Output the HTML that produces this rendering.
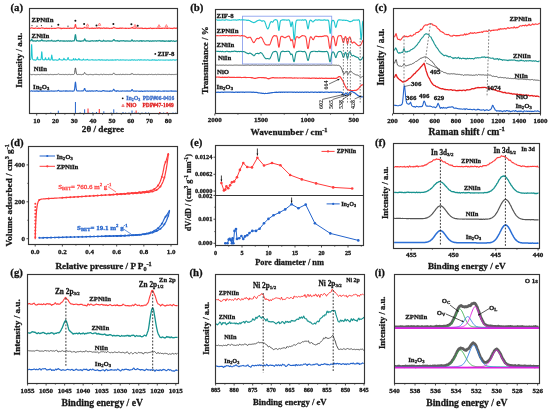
<!DOCTYPE html><html><head><meta charset="utf-8"><style>html,body{margin:0;padding:0;background:#fff;width:550px;height:411px;overflow:hidden}svg{display:block;filter:blur(0.3px)}</style></head><body><svg width="550" height="411" viewBox="0 0 550 411" font-family='"Liberation Serif", serif'><text font-size="10.8" text-anchor="start" fill="#111" stroke="#111" stroke-width="0.28" font-weight="bold" transform="translate(10.5 11.1) scale(1 1)">(a)</text>
<text font-size="10.8" text-anchor="start" fill="#111" stroke="#111" stroke-width="0.28" font-weight="bold" transform="translate(190.2 10.9) scale(1 1)">(b)</text>
<text font-size="10.8" text-anchor="start" fill="#111" stroke="#111" stroke-width="0.28" font-weight="bold" transform="translate(374.9 10.9) scale(1 1)">(c)</text>
<text font-size="10.8" text-anchor="start" fill="#111" stroke="#111" stroke-width="0.28" font-weight="bold" transform="translate(10.5 145.9) scale(1 1)">(d)</text>
<text font-size="10.8" text-anchor="start" fill="#111" stroke="#111" stroke-width="0.28" font-weight="bold" transform="translate(190.3 146.2) scale(1 1)">(e)</text>
<text font-size="10.8" text-anchor="start" fill="#111" stroke="#111" stroke-width="0.28" font-weight="bold" transform="translate(374.9 145.9) scale(1 1)">(f)</text>
<text font-size="10.8" text-anchor="start" fill="#111" stroke="#111" stroke-width="0.28" font-weight="bold" transform="translate(10.3 276) scale(1 1)">(g)</text>
<text font-size="10.8" text-anchor="start" fill="#111" stroke="#111" stroke-width="0.28" font-weight="bold" transform="translate(189.5 276) scale(1 1)">(h)</text>
<text font-size="10.8" text-anchor="start" fill="#111" stroke="#111" stroke-width="0.28" font-weight="bold" transform="translate(374.7 276) scale(1 1)">(i)</text>
<path d="M30.1 28.4 30.3 28.4 30.5 28.3 30.7 28.2 30.9 28.1 31.1 28 31.3 27.8 31.5 27.8 31.7 27.8 31.9 28 32.1 28 32.3 28.1 32.5 28.2 32.7 28.2 32.9 28.1 33.1 28.2 33.3 28.2 33.5 28.4 33.7 28.2 33.9 28.3 34.1 28.3 34.3 28.4 34.5 28.5 34.7 28.4 34.9 28.3 35.1 28.1 35.3 27.9 35.5 28.2 35.7 28.2 35.9 28.3 36.1 28.3 36.3 28.2 36.5 28.3 36.7 28 36.9 28.1 37.1 28 37.3 28.3 37.5 28.5 37.7 28.5 37.9 28.5 38.1 28.3 38.3 28.4 38.5 28.3 38.7 28.1 38.9 27.9 39.1 28 39.3 28.4 39.5 28.5 39.7 28.5 39.9 28.4 40.1 28.4 40.3 28.5 40.5 28.3 40.7 28.3 40.9 28.2 41.1 28 41.3 28 41.5 27.9 41.7 28 41.9 28 42.1 27.9 42.3 27.9 42.5 28.1 42.7 28.3 42.9 28.3 43.1 28.1 43.3 28 43.5 28.1 43.7 28.1 43.9 28.3 44.1 28.3 44.3 28.4 44.5 28.4 44.7 28.6 44.9 28.5 45.1 28.4 45.3 28.4 45.5 28.4 45.7 28.2 45.9 28.2 46.1 28.3 46.3 28.5 46.5 28.3 46.7 28.2 46.9 28.1 47.1 28.2 47.3 28.3 47.5 28.5 47.7 28.6 47.9 28.5 48.1 28.5 48.3 28.4 48.5 28.3 48.7 28.2 48.9 28.2 49.1 28.4 49.3 28.6 49.5 28.5 49.7 28.3 49.9 28.2 50.1 28.2 50.3 28.3 50.5 28.2 50.7 28.2 50.9 28.2 51.1 28.4 51.3 28.4 51.5 28.6 51.7 28.4 51.9 28.4 52.1 28.3 52.3 28.4 52.5 28.5 52.7 28.3 52.9 28.3 53.1 28.2 53.3 28.3 53.5 28.2 53.7 28.4 53.9 28.4 54.1 28.3 54.3 28.2 54.5 28.3 54.7 28.4 54.9 28.4 55.1 28.4 55.3 28.4 55.5 28.5 55.7 28.4 55.9 28.3 56.1 28.2 56.3 28.2 56.5 28.2 56.7 28.2 56.9 28 57.1 28 57.3 28 57.5 27.9 57.7 27.9 57.9 27.8 58.1 28 58.3 27.9 58.5 27.8 58.7 27.8 58.9 27.9 59.1 28 59.3 28.1 59.5 28.1 59.7 28.1 59.9 28.1 60.1 28 60.3 28.1 60.5 28.2 60.7 28.4 60.9 28.6 61.1 28.4 61.3 28.4 61.5 28.3 61.7 28.6 61.9 28.4 62.1 28.3 62.3 28.4 62.5 28.4 62.7 28.4 62.9 28.3 63.1 28.4 63.3 28.4 63.5 28.2 63.7 28.2 63.9 28.1 64.1 28.2 64.3 28.2 64.5 28.4 64.7 28.3 64.9 28.3 65.1 28.3 65.3 28.4 65.5 28.3 65.7 28.3 65.9 28.2 66.1 28.3 66.3 28.3 66.5 28.5 66.7 28.4 66.9 28.3 67.1 28 67.3 28.1 67.5 28.2 67.7 28.4 67.9 28.4 68.1 28.4 68.3 28.3 68.5 28.3 68.7 28.1 68.9 28.2 69.1 28.1 69.3 28.4 69.5 28.3 69.7 28.4 69.9 28.2 70.1 28.2 70.3 28.1 70.5 28.1 70.7 28 70.9 28.2 71.1 28.3 71.3 28.4 71.5 28.3 71.7 28.3 71.9 28.1 72.1 28.1 72.3 28.2 72.5 28.3 72.7 28.3 72.9 28.2 73.1 28.2 73.3 28.1 73.5 28.2 73.7 28.2 73.9 28.2 74.1 28.3 74.3 28.1 74.5 27.7 74.7 27 74.9 26.2 75.1 25.3 75.3 24.6 75.5 24.5 75.7 25.1 75.9 26.1 76.1 26.9 76.3 27.5 76.5 27.9 76.7 28.2 76.9 28.3 77.1 28.4 77.3 28.4 77.5 28.3 77.7 28.2 77.9 28.2 78.1 28.1 78.3 28.2 78.5 28.2 78.7 28.4 78.9 28.2 79.1 28.3 79.3 28.2 79.5 28.3 79.7 28.1 79.9 28.1 80.1 28.1 80.3 28.2 80.5 28.3 80.7 28.3 80.9 28.4 81.1 28.3 81.3 28.2 81.5 28.2 81.7 28.2 81.9 28.4 82.1 28.5 82.3 28.3 82.5 28.2 82.7 28.3 82.9 28.4 83.1 28.3 83.3 28.2 83.5 28.1 83.7 28.1 83.9 28 84.1 27.9 84.3 27.6 84.5 27.3 84.7 27.2 84.9 27.4 85.1 27.7 85.3 27.8 85.5 27.8 85.7 28 85.9 28 86.1 28.1 86.3 27.9 86.5 27.9 86.7 28.1 86.9 28.3 87.1 28.3 87.3 28.1 87.5 27.8 87.7 27.8 87.9 27.8 88.1 27.9 88.3 28 88.5 28 88.7 28.1 88.9 28.2 89.1 28.5 89.3 28.5 89.5 28.6 89.7 28.4 89.9 28.4 90.1 28.2 90.3 28.2 90.5 28.2 90.7 28.3 90.9 28.4 91.1 28.4 91.3 28.4 91.5 28.3 91.7 28.2 91.9 28 92.1 28 92.3 28.2 92.5 28.3 92.7 28.4 92.9 28.2 93.1 28.4 93.3 28.4 93.5 28.4 93.7 28.2 93.9 28.3 94.1 28.4 94.3 28.3 94.5 28.1 94.7 28.2 94.9 28.2 95.1 28.2 95.3 28.2 95.5 28.3 95.7 28.4 95.9 28.2 96.1 28.1 96.3 28.1 96.5 27.9 96.7 28 96.9 27.9 97.1 28.1 97.3 28 97.5 28.2 97.7 28.1 97.9 28.4 98.1 28.3 98.3 28.2 98.5 27.9 98.7 27.8 98.9 27.7 99.1 27.6 99.3 27.7 99.5 28 99.7 28 99.9 28.3 100.1 28.5 100.3 28.6 100.5 28.2 100.7 28 100.9 28.1 101.1 28.1 101.3 28.1 101.5 28.1 101.7 28.2 101.9 28.3 102.1 28.4 102.3 28.4 102.5 28.3 102.7 28.2 102.9 28.1 103.1 28.1 103.3 28.2 103.5 28.1 103.7 27.9 103.9 27.9 104.1 27.8 104.3 28.1 104.5 28.2 104.7 28.4 104.9 28.3 105.1 28.1 105.3 28.2 105.5 28.3 105.7 28.4 105.9 28.4 106.1 28.4 106.3 28.3 106.5 28.2 106.7 27.9 106.9 27.8 107.1 27.9 107.3 28.1 107.5 28.3 107.7 28.3 107.9 28.3 108.1 28.4 108.3 28.3 108.5 28.3 108.7 28.1 108.9 28.2 109.1 28.2 109.3 28.4 109.5 28.5 109.7 28.6 109.9 28.5 110.1 28.5 110.3 28.2 110.5 28.3 110.7 28.2 110.9 28.2 111.1 28.3 111.3 28.2 111.5 28.4 111.7 28.2 111.9 28.4 112.1 28.4 112.3 28.4 112.5 28.2 112.7 28 112.9 28.1 113.1 28 113.3 27.8 113.5 27.6 113.7 27.2 113.9 27.2 114.1 27.2 114.3 27.7 114.5 27.9 114.7 28 114.9 28 115.1 28 115.3 28.1 115.5 28.1 115.7 28.2 115.9 28.1 116.1 28.3 116.3 28.3 116.5 28.4 116.7 28.4 116.9 28.3 117.1 28.3 117.3 28.3 117.5 28.4 117.7 28.3 117.9 28.3 118.1 28.3 118.3 28.5 118.5 28.5 118.7 28.5 118.9 28.2 119.1 28.4 119.3 28.4 119.5 28.5 119.7 28.2 119.9 28.1 120.1 27.9 120.3 28.1 120.5 28.1 120.7 28.2 120.9 28.2 121.1 28.5 121.3 28.3 121.5 28.2 121.7 28 121.9 28.3 122.1 28.3 122.3 28.1 122.5 28 122.7 28 122.9 28.2 123.1 28.3 123.3 28.2 123.5 28.2 123.7 28.2 123.9 28.3 124.1 28.3 124.3 28.3 124.5 28.3 124.7 28.2 124.9 28.3 125.1 28.4 125.3 28.4 125.5 28.3 125.7 28.1 125.9 28.3 126.1 28.4 126.3 28.4 126.5 28.4 126.7 28.3 126.9 28.3 127.1 28.2 127.3 28.2 127.5 28.2 127.7 28.3 127.9 28.2 128.1 28.3 128.3 28.4 128.5 28.4 128.7 28.2 128.9 28.2 129.1 28.3 129.3 28.4 129.5 28.3 129.7 28.2 129.9 28.3 130.1 28.3 130.3 28.3 130.5 28.1 130.7 28.2 130.9 28.2 131.1 28 131.3 28 131.5 28 131.7 27.9 131.9 27.7 132.1 27.4 132.3 27.4 132.5 27.5 132.7 27.9 132.9 28.1 133.1 28.3 133.3 28 133.5 28 133.7 28 133.9 28 134.1 28.3 134.3 28.3 134.5 28.3 134.7 28.2 134.9 28.4 135.1 28.5 135.3 28.4 135.5 28.2 135.7 28 135.9 28 136.1 28 136.3 27.9 136.5 27.8 136.7 27.9 136.9 28 137.1 28.3 137.3 28.3 137.5 28.3 137.7 28.2 137.9 28.1 138.1 28.2 138.3 28.3 138.5 28.2 138.7 28.1 138.9 28 139.1 28.1 139.3 28.3 139.5 28.3 139.7 28.3 139.9 28.4 140.1 28.3 140.3 28.3 140.5 28.2 140.7 28.1 140.9 28.2 141.1 28.3 141.3 28.2 141.5 28.1 141.7 28.1 141.9 28.3 142.1 28.4 142.3 28.3 142.5 28.1 142.7 28.4 142.9 28.4 143.1 28.6 143.3 28.5 143.5 28.5 143.7 28.5 143.9 28.4 144.1 28.4 144.3 28.3 144.5 28.5 144.7 28.4 144.9 28.3 145.1 28.2 145.3 28.4 145.5 28.5 145.7 28.4 145.9 28.2 146.1 28.2 146.3 28.4 146.5 28.5 146.7 28.7 146.9 28.5 147.1 28.4 147.3 28.4 147.5 28.5 147.7 28.6 147.9 28.5 148.1 28.4 148.3 28.4 148.5 28.4 148.7 28.3 148.9 28.2 149.1 28.2 149.3 28.3 149.5 28.5 149.7 28.5 149.9 28.4 150.1 28.2 150.3 28 150.5 27.9 150.7 28 150.9 28.1 151.1 28.3 151.3 28.4 151.5 28.5 151.7 28.5 151.9 28.4 152.1 28.6 152.3 28.4 152.5 28.5 152.7 28.3 152.9 28.4 153.1 28.2 153.3 28.3 153.5 28.3 153.7 28.4 153.9 28.4 154.1 28.4 154.3 28.4 154.5 28.3 154.7 28.3 154.9 28.3 155.1 28.3 155.3 28.3 155.5 28.2 155.7 28.3 155.9 28.3 156.1 28.4 156.3 28.4 156.5 28.4 156.7 28.4 156.9 28.2 157.1 28.2 157.3 28 157.5 28.1 157.7 28.3 157.9 28.4 158.1 28.5 158.3 28.3 158.5 28.2 158.7 28.1 158.9 28.2 159.1 28.3 159.3 28.4 159.5 28.4 159.7 28.3 159.9 28.3 160.1 28.4 160.3 28.4 160.5 28.4 160.7 28.4 160.9 28.5 161.1 28.5 161.3 28.3 161.5 28.5 161.7 28.2 161.9 28.2 162.1 27.9 162.3 28.3 162.5 28.4 162.7 28.4 162.9 28.2 163.1 28.2 163.3 28.2 163.5 28.3 163.7 28.1 163.9 28 164.1 28.1 164.3 28.2 164.5 28.4 164.7 28.3 164.9 28.1 165.1 28.1 165.3 28.1 165.5 28.2 165.7 28.3 165.9 28.3 166.1 28.2 166.3 28.2 166.5 28.3 166.7 28.4 166.9 28 167.1 28 167.3 28.1 167.5 28.4 167.7 28.4 167.9 28.3 168.1 28.1 168.3 28.3 168.5 28.2 168.7 28.3 168.9 28.1 169.1 28.2 169.3 28.1 169.5 28.2 169.7 28.2 169.9 28.3 170.1 28.3 170.3 28.4 170.5 28.3 170.7 28.3 170.9 28.3 171.1 28.4 171.3 28.4 171.5 28.4 171.7 28.5 171.9 28.4 172.1 28.3 172.3 28.3 172.5 28.5 172.7 28.6 172.9 28.6 173.1 28.4 173.3 28.2 173.5 28.1 173.7 28.3 173.9 28.2 174.1 28.2 174.3 27.9 174.5 28.1 174.7 28.2 174.9 28.3 175.1 28.2 175.3 28.3 175.5 28.4 175.7 28.3 175.9 28.1 176.1 27.9 176.3 28.1 176.5 28.1 176.7 28.4 176.9 28.3" fill="none" stroke="#ff3c3c" stroke-width="1.1" stroke-linejoin="round" />
<path d="M30.1 41 30.3 40.9 30.5 40.8 30.7 40.8 30.9 40.6 31.1 40.1 31.3 39.8 31.5 39.4 31.7 39.3 31.9 39.4 32.1 39.9 32.3 40.6 32.5 40.9 32.7 40.9 32.9 40.9 33.1 41 33.3 41.1 33.5 40.9 33.7 40.8 33.9 40.9 34.1 41 34.3 41 34.5 40.9 34.7 41 34.9 41 35.1 41.1 35.3 41 35.5 41.1 35.7 40.9 35.9 41 36.1 41.1 36.3 41.1 36.5 41 36.7 40.6 36.9 40.6 37.1 40.5 37.3 40.5 37.5 40.5 37.7 40.4 37.9 40.6 38.1 40.8 38.3 41 38.5 41 38.7 41 38.9 41.1 39.1 41 39.3 41 39.5 41 39.7 41 39.9 40.7 40.1 40.8 40.3 40.7 40.5 40.8 40.7 40.8 40.9 40.8 41.1 40.7 41.3 40.5 41.5 40.2 41.7 39.9 41.9 39.8 42.1 40.1 42.3 40.4 42.5 40.7 42.7 40.8 42.9 40.9 43.1 41 43.3 40.8 43.5 40.8 43.7 40.9 43.9 41 44.1 41 44.3 40.9 44.5 40.9 44.7 40.9 44.9 41 45.1 41 45.3 40.9 45.5 41 45.7 41 45.9 41 46.1 41 46.3 41.1 46.5 41.2 46.7 41.1 46.9 41 47.1 40.9 47.3 40.9 47.5 40.8 47.7 40.8 47.9 40.7 48.1 41 48.3 41 48.5 41 48.7 40.8 48.9 40.7 49.1 40.8 49.3 40.9 49.5 41 49.7 40.9 49.9 40.9 50.1 41 50.3 40.9 50.5 40.9 50.7 40.9 50.9 41 51.1 40.8 51.3 40.6 51.5 40.3 51.7 40.2 51.9 40.3 52.1 40.7 52.3 40.8 52.5 40.8 52.7 41 52.9 41.1 53.1 41.1 53.3 41.1 53.5 41.1 53.7 41.1 53.9 41 54.1 40.9 54.3 40.8 54.5 40.8 54.7 41.1 54.9 41.2 55.1 41.3 55.3 41.2 55.5 41.1 55.7 41 55.9 41.1 56.1 41 56.3 40.8 56.5 40.6 56.7 40.8 56.9 40.8 57.1 40.9 57.3 40.8 57.5 40.7 57.7 40.5 57.9 40.4 58.1 40.3 58.3 40.4 58.5 40.5 58.7 40.6 58.9 40.6 59.1 40.8 59.3 41 59.5 41.1 59.7 41.1 59.9 41.2 60.1 41.1 60.3 41 60.5 40.7 60.7 40.8 60.9 40.8 61.1 40.9 61.3 40.8 61.5 40.9 61.7 41 61.9 41 62.1 41 62.3 41 62.5 40.9 62.7 41 62.9 41.1 63.1 41.1 63.3 40.9 63.5 40.9 63.7 41 63.9 41.1 64.1 41.2 64.3 41.1 64.5 40.9 64.7 40.9 64.9 41 65.1 41.2 65.3 41.2 65.5 41.1 65.7 41 65.9 41 66.1 40.8 66.3 40.9 66.5 40.9 66.7 41 66.9 41.1 67.1 41.2 67.3 41.3 67.5 41.2 67.7 41 67.9 40.8 68.1 40.8 68.3 40.8 68.5 40.9 68.7 41 68.9 41.1 69.1 41 69.3 41 69.5 40.9 69.7 41.1 69.9 41.2 70.1 41.1 70.3 40.9 70.5 40.8 70.7 40.8 70.9 41 71.1 41.2 71.3 41.3 71.5 41.2 71.7 41.2 71.9 41.2 72.1 41.2 72.3 41 72.5 40.8 72.7 40.8 72.9 40.9 73.1 41 73.3 40.9 73.5 40.9 73.7 40.9 73.9 40.8 74.1 40.8 74.3 40.5 74.5 40.1 74.7 39 74.9 37.5 75.1 35.9 75.3 34.8 75.5 34.7 75.7 35.7 75.9 37.2 76.1 38.7 76.3 39.6 76.5 40.3 76.7 40.6 76.9 40.8 77.1 40.8 77.3 40.8 77.5 40.7 77.7 40.8 77.9 40.9 78.1 40.9 78.3 40.9 78.5 41 78.7 41.1 78.9 41.2 79.1 41.1 79.3 41 79.5 40.9 79.7 41 79.9 41.2 80.1 41.3 80.3 41.4 80.5 41.3 80.7 41.1 80.9 40.9 81.1 40.8 81.3 41 81.5 41.2 81.7 41.2 81.9 41.1 82.1 41 82.3 41 82.5 40.9 82.7 40.8 82.9 40.9 83.1 40.9 83.3 41 83.5 40.8 83.7 40.8 83.9 40.6 84.1 40.1 84.3 39.5 84.5 39 84.7 38.9 84.9 39.2 85.1 39.6 85.3 40.2 85.5 40.5 85.7 40.6 85.9 40.8 86.1 41.1 86.3 40.9 86.5 41 86.7 41 86.9 41.1 87.1 40.8 87.3 40.8 87.5 40.8 87.7 41 87.9 41 88.1 41 88.3 41 88.5 41 88.7 41.1 88.9 41.3 89.1 41.4 89.3 41.3 89.5 41.1 89.7 41.2 89.9 41.2 90.1 41.3 90.3 41 90.5 41 90.7 40.9 90.9 41 91.1 40.8 91.3 40.8 91.5 40.8 91.7 40.8 91.9 40.8 92.1 40.8 92.3 40.8 92.5 40.8 92.7 40.7 92.9 40.7 93.1 40.9 93.3 40.8 93.5 41 93.7 41.1 93.9 41 94.1 41 94.3 40.8 94.5 40.9 94.7 40.8 94.9 40.8 95.1 41 95.3 41.1 95.5 41 95.7 40.9 95.9 40.8 96.1 40.9 96.3 40.6 96.5 40.7 96.7 40.6 96.9 41 97.1 40.9 97.3 40.9 97.5 40.8 97.7 41 97.9 41.1 98.1 40.9 98.3 40.8 98.5 40.6 98.7 40.7 98.9 40.5 99.1 40.4 99.3 40.3 99.5 40.4 99.7 40.5 99.9 40.7 100.1 40.8 100.3 40.8 100.5 40.8 100.7 40.9 100.9 41.1 101.1 41.2 101.3 41.1 101.5 41.1 101.7 41.2 101.9 41.3 102.1 41.2 102.3 41.1 102.5 41 102.7 41.2 102.9 41.3 103.1 40.9 103.3 40.7 103.5 40.2 103.7 40.4 103.9 40.4 104.1 40.7 104.3 40.8 104.5 41 104.7 41 104.9 41.1 105.1 41.1 105.3 41.1 105.5 41.1 105.7 41.1 105.9 40.9 106.1 41 106.3 41 106.5 41.1 106.7 41.1 106.9 41.1 107.1 41 107.3 40.9 107.5 40.8 107.7 40.9 107.9 40.9 108.1 40.9 108.3 40.9 108.5 40.9 108.7 41 108.9 41.1 109.1 41.2 109.3 41.2 109.5 41.2 109.7 40.9 109.9 40.9 110.1 41 110.3 41.2 110.5 41.1 110.7 41 110.9 41 111.1 41.1 111.3 41.2 111.5 41 111.7 41.1 111.9 41.1 112.1 41.2 112.3 41 112.5 40.9 112.7 40.8 112.9 40.7 113.1 40.5 113.3 40.1 113.5 39.8 113.7 39.7 113.9 39.6 114.1 39.7 114.3 39.8 114.5 40.2 114.7 40.4 114.9 40.7 115.1 40.8 115.3 41 115.5 40.9 115.7 40.9 115.9 40.9 116.1 41 116.3 41 116.5 41 116.7 40.9 116.9 41 117.1 40.7 117.3 40.8 117.5 40.6 117.7 40.9 117.9 40.8 118.1 41.1 118.3 40.9 118.5 41.2 118.7 41.1 118.9 41.2 119.1 41.1 119.3 41.2 119.5 41.3 119.7 41.1 119.9 41 120.1 40.9 120.3 41 120.5 40.9 120.7 40.8 120.9 41 121.1 40.9 121.3 41 121.5 41 121.7 40.9 121.9 41 122.1 40.8 122.3 40.9 122.5 40.9 122.7 40.9 122.9 40.8 123.1 40.6 123.3 40.6 123.5 40.8 123.7 40.9 123.9 41 124.1 41 124.3 40.9 124.5 41 124.7 41.1 124.9 41.1 125.1 41 125.3 40.9 125.5 41.1 125.7 41.2 125.9 41.1 126.1 41 126.3 40.8 126.5 40.8 126.7 40.8 126.9 41 127.1 41.1 127.3 41.1 127.5 40.9 127.7 40.9 127.9 40.9 128.1 41 128.3 41 128.5 41.1 128.7 41.1 128.9 41.2 129.1 41.1 129.3 41.1 129.5 41 129.7 41 129.9 41.1 130.1 41.2 130.3 41.1 130.5 41 130.7 41 130.9 41.2 131.1 41 131.3 40.8 131.5 40.4 131.7 40 131.9 39.9 132.1 39.9 132.3 40.1 132.5 40.2 132.7 40.7 132.9 41 133.1 41.1 133.3 41 133.5 41 133.7 41.1 133.9 41 134.1 41 134.3 40.9 134.5 41 134.7 40.9 134.9 41 135.1 41.2 135.3 41.2 135.5 41.2 135.7 41 135.9 41 136.1 41 136.3 41 136.5 40.9 136.7 40.9 136.9 40.9 137.1 40.9 137.3 40.9 137.5 40.9 137.7 40.9 137.9 40.8 138.1 41 138.3 41 138.5 41.1 138.7 41 138.9 41.2 139.1 41.2 139.3 41.2 139.5 41.2 139.7 40.9 139.9 40.8 140.1 40.6 140.3 40.8 140.5 41 140.7 40.9 140.9 40.9 141.1 40.7 141.3 40.7 141.5 40.9 141.7 41 141.9 41.3 142.1 41.3 142.3 41.2 142.5 40.9 142.7 40.9 142.9 41 143.1 41 143.3 40.9 143.5 41 143.7 41 143.9 40.9 144.1 40.9 144.3 41 144.5 41.1 144.7 41 144.9 41 145.1 41 145.3 41 145.5 41.2 145.7 41.1 145.9 41.1 146.1 40.9 146.3 41 146.5 40.9 146.7 41 146.9 40.8 147.1 41 147.3 41 147.5 41 147.7 40.9 147.9 40.7 148.1 41 148.3 40.9 148.5 40.9 148.7 40.8 148.9 40.9 149.1 41.2 149.3 41.4 149.5 41.2 149.7 41 149.9 41.1 150.1 41.1 150.3 41 150.5 40.8 150.7 40.8 150.9 40.9 151.1 41.1 151.3 41.2 151.5 41.1 151.7 41.2 151.9 41.3 152.1 41.2 152.3 41.1 152.5 40.9 152.7 41 152.9 41 153.1 40.9 153.3 40.8 153.5 40.8 153.7 41.1 153.9 41.2 154.1 41.1 154.3 41 154.5 40.8 154.7 40.8 154.9 40.9 155.1 40.9 155.3 41 155.5 40.9 155.7 40.8 155.9 40.9 156.1 40.9 156.3 41.1 156.5 41 156.7 41.1 156.9 40.9 157.1 40.9 157.3 40.9 157.5 40.9 157.7 40.9 157.9 40.9 158.1 40.9 158.3 40.9 158.5 40.8 158.7 40.8 158.9 40.8 159.1 40.8 159.3 40.8 159.5 40.8 159.7 40.9 159.9 40.7 160.1 40.8 160.3 40.9 160.5 41.2 160.7 41.1 160.9 41 161.1 40.9 161.3 40.8 161.5 41.1 161.7 41.1 161.9 41.2 162.1 40.9 162.3 40.8 162.5 40.7 162.7 40.9 162.9 41.1 163.1 41.1 163.3 40.9 163.5 41 163.7 40.9 163.9 41.2 164.1 41.2 164.3 41.4 164.5 41.3 164.7 41 164.9 41.2 165.1 41.1 165.3 41.3 165.5 41 165.7 41 165.9 40.8 166.1 40.9 166.3 40.9 166.5 41 166.7 41.1 166.9 41.2 167.1 41.2 167.3 41.1 167.5 41.2 167.7 41.1 167.9 41.2 168.1 40.9 168.3 40.9 168.5 40.8 168.7 40.9 168.9 41.3 169.1 41.5 169.3 41.4 169.5 41 169.7 40.8 169.9 41 170.1 41.2 170.3 41.3 170.5 41 170.7 40.8 170.9 40.6 171.1 40.6 171.3 40.7 171.5 41 171.7 41 171.9 41 172.1 41 172.3 41.2 172.5 41.1 172.7 41 172.9 41.1 173.1 41.1 173.3 41 173.5 40.9 173.7 40.9 173.9 40.9 174.1 41.1 174.3 41.1 174.5 41.3 174.7 41.3 174.9 41.4 175.1 41.4 175.3 41.3 175.5 41.1 175.7 41.2 175.9 41.1 176.1 41.1 176.3 40.8 176.5 40.9 176.7 41 176.9 41.1" fill="none" stroke="#18938f" stroke-width="1.2" stroke-linejoin="round" />
<path d="M30.1 59.8 30.3 59.6 30.5 59.4 30.7 59.2 30.9 58.3 31.1 55.5 31.3 50.5 31.5 45.4 31.7 44.6 31.9 49.1 32.1 54.3 32.3 57.6 32.5 58.9 32.7 59.4 32.9 59.5 33.1 59.8 33.3 59.8 33.5 59.9 33.7 60 33.9 59.9 34.1 59.9 34.3 59.8 34.5 59.9 34.7 60 34.9 59.9 35.1 59.9 35.3 59.9 35.5 60.2 35.7 60.1 35.9 60.1 36.1 59.9 36.3 59.8 36.5 59.7 36.7 59.6 36.9 59.2 37.1 58.3 37.3 57.1 37.5 57 37.7 57.7 37.9 58.9 38.1 59.4 38.3 59.7 38.5 59.8 38.7 59.7 38.9 59.7 39.1 59.8 39.3 59.8 39.5 59.8 39.7 59.7 39.9 59.8 40.1 59.7 40.3 59.6 40.5 59.7 40.7 59.7 40.9 59.5 41.1 58.8 41.3 57 41.5 54.3 41.7 51.8 41.9 52.1 42.1 54.8 42.3 57.5 42.5 59.1 42.7 59.5 42.9 59.8 43.1 59.7 43.3 59.9 43.5 59.8 43.7 59.8 43.9 59.7 44.1 59.7 44.3 59.8 44.5 59.8 44.7 59.9 44.9 59.7 45.1 59.1 45.3 58.2 45.5 57.7 45.7 58.1 45.9 58.9 46.1 59.5 46.3 59.7 46.5 59.8 46.7 59.9 46.9 59.8 47.1 59.8 47.3 59.7 47.5 59.7 47.7 59.7 47.9 59.7 48.1 59.6 48.3 58.9 48.5 58.3 48.7 57.7 48.9 58.1 49.1 58.9 49.3 59.5 49.5 59.9 49.7 60 49.9 59.9 50.1 59.9 50.3 59.8 50.5 60 50.7 59.9 50.9 59.7 51.1 59.2 51.3 58 51.5 56.3 51.7 55.1 51.9 55.5 52.1 57.2 52.3 58.5 52.5 59.4 52.7 60 52.9 60.2 53.1 60.2 53.3 59.9 53.5 60 53.7 60.1 53.9 60 54.1 60 54.3 60 54.5 60.1 54.7 59.9 54.9 59.8 55.1 59.8 55.3 59.8 55.5 59.9 55.7 59.9 55.9 60 56.1 60 56.3 60 56.5 60.1 56.7 60 56.9 60 57.1 60.2 57.3 60.3 57.5 60.3 57.7 60.1 57.9 60 58.1 60 58.3 59.9 58.5 60 58.7 59.8 58.9 59.4 59.1 58.9 59.3 58.5 59.5 58.7 59.7 59.2 59.9 59.6 60.1 59.7 60.3 59.7 60.5 59.8 60.7 59.8 60.9 59.8 61.1 59.8 61.3 59.9 61.5 60 61.7 60 61.9 60.1 62.1 60.1 62.3 60.1 62.5 60 62.7 59.9 62.9 59.9 63.1 59.8 63.3 59.7 63.5 59.2 63.7 58.8 63.9 58.3 64.1 58.5 64.3 59 64.5 59.5 64.7 59.8 64.9 59.8 65.1 59.8 65.3 59.7 65.5 59.7 65.7 59.9 65.9 59.9 66.1 60.1 66.3 60 66.5 60 66.7 59.8 66.9 59.8 67.1 59.7 67.3 59.5 67.5 59.1 67.7 58.6 67.9 57.9 68.1 57.5 68.3 58 68.5 58.7 68.7 59.3 68.9 59.5 69.1 59.8 69.3 59.9 69.5 60 69.7 60 69.9 60 70.1 60 70.3 60 70.5 60 70.7 59.9 70.9 59.9 71.1 60 71.3 60.2 71.5 60.1 71.7 60.1 71.9 60 72.1 60 72.3 59.9 72.5 59.9 72.7 60 72.9 60 73.1 59.7 73.3 59.1 73.5 58.6 73.7 58.6 73.9 59.2 74.1 59.6 74.3 59.9 74.5 59.9 74.7 59.9 74.9 59.8 75.1 59.4 75.3 58.9 75.5 58.8 75.7 59.2 75.9 59.6 76.1 59.9 76.3 59.9 76.5 59.8 76.7 59.7 76.9 59.6 77.1 59.8 77.3 60 77.5 60 77.7 59.9 77.9 59.9 78.1 59.7 78.3 59.5 78.5 59 78.7 58.7 78.9 58.5 79.1 58.9 79.3 59.2 79.5 59.7 79.7 59.8 79.9 60 80.1 59.8 80.3 59.8 80.5 59.8 80.7 59.9 80.9 60 81.1 60.1 81.3 60 81.5 60 81.7 60 81.9 60.1 82.1 60.1 82.3 59.9 82.5 59.9 82.7 59.8 82.9 60 83.1 59.6 83.3 59.3 83.5 59 83.7 59.3 83.9 59.6 84.1 59.8 84.3 59.9 84.5 60 84.7 60 84.9 59.9 85.1 59.9 85.3 59.9 85.5 59.9 85.7 59.8 85.9 59.9 86.1 59.8 86.3 59.9 86.5 59.7 86.7 59.8 86.9 59.7 87.1 59.6 87.3 59.4 87.5 59.3 87.7 59.5 87.9 59.8 88.1 60 88.3 60.1 88.5 59.9 88.7 59.9 88.9 59.9 89.1 60 89.3 60 89.5 60 89.7 60.1 89.9 60 90.1 59.9 90.3 59.9 90.5 60 90.7 60 90.9 60 91.1 59.9 91.3 59.8 91.5 59.7 91.7 59.8 91.9 59.7 92.1 59.7 92.3 59.6 92.5 59.8 92.7 59.9 92.9 60.1 93.1 60.1 93.3 60 93.5 60 93.7 59.9 93.9 60 94.1 59.9 94.3 59.9 94.5 60 94.7 60 94.9 60.1 95.1 60 95.3 59.9 95.5 59.8 95.7 59.9 95.9 60 96.1 60.2 96.3 60.1 96.5 60 96.7 59.9 96.9 59.9 97.1 59.9 97.3 59.9 97.5 60 97.7 59.9 97.9 59.9 98.1 60 98.3 60 98.5 59.8 98.7 59.6 98.9 59.5 99.1 59.6 99.3 59.9 99.5 59.9 99.7 60 99.9 59.8 100.1 59.9 100.3 59.9 100.5 60.1 100.7 60.1 100.9 60.1 101.1 59.8 101.3 59.8 101.5 59.7 101.7 59.8 101.9 59.9 102.1 60 102.3 59.9 102.5 60 102.7 59.8 102.9 60.1 103.1 60.1 103.3 60.1 103.5 60 103.7 60 103.9 60 104.1 59.9 104.3 60 104.5 60 104.7 60.1 104.9 60.1 105.1 60.1 105.3 60 105.5 60.2 105.7 60.1 105.9 60.2 106.1 60 106.3 60.1 106.5 60.1 106.7 59.9 106.9 59.7 107.1 59.7 107.3 59.8 107.5 59.9 107.7 60 107.9 60.1 108.1 60.1 108.3 60.1 108.5 60 108.7 60.2 108.9 60.1 109.1 60 109.3 60 109.5 60.1 109.7 60.1 109.9 60.2 110.1 60.2 110.3 60.2 110.5 60 110.7 59.8 110.9 59.8 111.1 60 111.3 59.9 111.5 60.1 111.7 60.2 111.9 60.3 112.1 60 112.3 59.8 112.5 59.9 112.7 60.1 112.9 60.2 113.1 60.1 113.3 59.9 113.5 59.9 113.7 59.9 113.9 60.1 114.1 60 114.3 60 114.5 60 114.7 59.9 114.9 59.9 115.1 59.8 115.3 60 115.5 59.9 115.7 60.1 115.9 59.9 116.1 60 116.3 59.9 116.5 60 116.7 60 116.9 59.9 117.1 59.8 117.3 59.8 117.5 59.8 117.7 59.8 117.9 59.7 118.1 59.8 118.3 59.9 118.5 60 118.7 60.1 118.9 60.2 119.1 60.2 119.3 60.1 119.5 60 119.7 60 119.9 60 120.1 60.1 120.3 59.9 120.5 59.8 120.7 59.7 120.9 59.9 121.1 60 121.3 60 121.5 60.1 121.7 60 121.9 60 122.1 60 122.3 60 122.5 60 122.7 59.8 122.9 59.8 123.1 59.9 123.3 60 123.5 60 123.7 59.9 123.9 60 124.1 60 124.3 60.1 124.5 59.9 124.7 59.9 124.9 59.9 125.1 60 125.3 60.1 125.5 60.1 125.7 60.1 125.9 60.1 126.1 60 126.3 60 126.5 59.9 126.7 60 126.9 60 127.1 60 127.3 60 127.5 59.9 127.7 59.9 127.9 59.9 128.1 60 128.3 60.1 128.5 60.2 128.7 60.2 128.9 60.2 129.1 60 129.3 59.9 129.5 59.9 129.7 60 129.9 60.2 130.1 60.1 130.3 60.1 130.5 60 130.7 60.3 130.9 60.2 131.1 60.2 131.3 59.9 131.5 59.8 131.7 59.7 131.9 59.8 132.1 59.8 132.3 59.7 132.5 59.8 132.7 59.9 132.9 60.1 133.1 60.1 133.3 60.1 133.5 60.1 133.7 60 133.9 59.9 134.1 59.8 134.3 59.8 134.5 59.8 134.7 59.9 134.9 60.1 135.1 60.2 135.3 60.3 135.5 60.1 135.7 60 135.9 60 136.1 60 136.3 60 136.5 60 136.7 60 136.9 60.1 137.1 60.1 137.3 60.3 137.5 60.2 137.7 60 137.9 59.8 138.1 59.8 138.3 59.8 138.5 59.8 138.7 59.8 138.9 59.8 139.1 59.9 139.3 60.1 139.5 60.2 139.7 60.1 139.9 59.9 140.1 59.9 140.3 59.8 140.5 59.9 140.7 59.7 140.9 59.9 141.1 59.9 141.3 59.9 141.5 59.8 141.7 59.9 141.9 60 142.1 60 142.3 60 142.5 60 142.7 60 142.9 60 143.1 60 143.3 60 143.5 60.1 143.7 59.9 143.9 59.9 144.1 59.8 144.3 59.8 144.5 60 144.7 59.9 144.9 60 145.1 59.8 145.3 60 145.5 60 145.7 60 145.9 60.1 146.1 60.1 146.3 60.2 146.5 60 146.7 60 146.9 59.9 147.1 60 147.3 60 147.5 59.9 147.7 59.7 147.9 59.7 148.1 59.7 148.3 59.9 148.5 60 148.7 60.2 148.9 60.2 149.1 60.3 149.3 60.1 149.5 60.2 149.7 60.1 149.9 60.1 150.1 60 150.3 60 150.5 60.1 150.7 60.2 150.9 60.3 151.1 60.1 151.3 60 151.5 60 151.7 60.1 151.9 60 152.1 59.8 152.3 59.6 152.5 59.7 152.7 60 152.9 60.1 153.1 60.1 153.3 60 153.5 59.9 153.7 60 153.9 60 154.1 59.9 154.3 59.8 154.5 59.9 154.7 60 154.9 60.2 155.1 60 155.3 60.1 155.5 60 155.7 60.1 155.9 60.1 156.1 60.1 156.3 60.1 156.5 60.1 156.7 60.1 156.9 60.1 157.1 60.2 157.3 60.2 157.5 60.1 157.7 60.2 157.9 60.1 158.1 60.2 158.3 60 158.5 59.8 158.7 59.7 158.9 59.8 159.1 60 159.3 60 159.5 60.1 159.7 60.1 159.9 60.2 160.1 60.1 160.3 60.1 160.5 60 160.7 59.9 160.9 60 161.1 60 161.3 60 161.5 59.9 161.7 59.9 161.9 59.9 162.1 59.9 162.3 60.1 162.5 60 162.7 59.9 162.9 59.9 163.1 59.9 163.3 60.1 163.5 60.1 163.7 60 163.9 60 164.1 60 164.3 60.2 164.5 60.2 164.7 60 164.9 60 165.1 60 165.3 60.2 165.5 60.2 165.7 60.1 165.9 59.9 166.1 60 166.3 60 166.5 59.9 166.7 59.9 166.9 60 167.1 60.1 167.3 60 167.5 60 167.7 59.9 167.9 59.9 168.1 60 168.3 60.1 168.5 60 168.7 60.1 168.9 60.1 169.1 59.9 169.3 59.9 169.5 59.9 169.7 60.1 169.9 60 170.1 60.2 170.3 60.1 170.5 59.9 170.7 59.8 170.9 59.9 171.1 60 171.3 60 171.5 60.1 171.7 60.1 171.9 60.2 172.1 60.1 172.3 60 172.5 59.9 172.7 59.8 172.9 59.9 173.1 60 173.3 59.9 173.5 59.8 173.7 59.8 173.9 59.8 174.1 59.9 174.3 60 174.5 60.1 174.7 60.1 174.9 60 175.1 60.1 175.3 60.2 175.5 60.2 175.7 60 175.9 59.8 176.1 59.8 176.3 59.9 176.5 59.9 176.7 59.8 176.9 59.8" fill="none" stroke="#1cc6cf" stroke-width="1.05" stroke-linejoin="round" />
<path d="M30.1 74.3 30.3 74.2 30.5 74.2 30.7 74.4 30.9 74.6 31.1 74.6 31.3 74.7 31.5 74.7 31.7 74.7 31.9 74.7 32.1 74.8 32.3 74.8 32.5 74.6 32.7 74.5 32.9 74.3 33.1 74.4 33.3 74.2 33.5 74.3 33.7 74.4 33.9 74.6 34.1 74.7 34.3 74.6 34.5 74.6 34.7 74.5 34.9 74.5 35.1 74.5 35.3 74.6 35.5 74.7 35.7 74.7 35.9 74.6 36.1 74.5 36.3 74.6 36.5 74.7 36.7 74.7 36.9 74.6 37.1 74.7 37.3 74.5 37.5 74.5 37.7 74.5 37.9 74.7 38.1 74.6 38.3 74.5 38.5 74.5 38.7 74.5 38.9 74.5 39.1 74.5 39.3 74.7 39.5 74.7 39.7 74.6 39.9 74.6 40.1 74.5 40.3 74.6 40.5 74.6 40.7 74.5 40.9 74.4 41.1 74.3 41.3 74.3 41.5 74.3 41.7 74.4 41.9 74.4 42.1 74.3 42.3 74.4 42.5 74.4 42.7 74.5 42.9 74.4 43.1 74.4 43.3 74.3 43.5 74.5 43.7 74.6 43.9 74.5 44.1 74.5 44.3 74.5 44.5 74.7 44.7 74.5 44.9 74.5 45.1 74.6 45.3 74.6 45.5 74.6 45.7 74.4 45.9 74.4 46.1 74.3 46.3 74.5 46.5 74.6 46.7 74.6 46.9 74.5 47.1 74.4 47.3 74.3 47.5 74.3 47.7 74.5 47.9 74.8 48.1 74.7 48.3 74.7 48.5 74.6 48.7 74.7 48.9 74.6 49.1 74.5 49.3 74.5 49.5 74.6 49.7 74.6 49.9 74.5 50.1 74.4 50.3 74.5 50.5 74.4 50.7 74.3 50.9 74.3 51.1 74.3 51.3 74.4 51.5 74.6 51.7 74.6 51.9 74.6 52.1 74.5 52.3 74.5 52.5 74.6 52.7 74.7 52.9 74.5 53.1 74.6 53.3 74.7 53.5 74.7 53.7 74.4 53.9 74.3 54.1 74.5 54.3 74.5 54.5 74.5 54.7 74.4 54.9 74.5 55.1 74.6 55.3 74.6 55.5 74.5 55.7 74.4 55.9 74.4 56.1 74.4 56.3 74.4 56.5 74.5 56.7 74.6 56.9 74.7 57.1 74.6 57.3 74.5 57.5 74.3 57.7 74.2 57.9 74.1 58.1 73.9 58.3 73.8 58.5 73.9 58.7 74.1 58.9 74.2 59.1 74.1 59.3 74.2 59.5 74.4 59.7 74.6 59.9 74.7 60.1 74.6 60.3 74.6 60.5 74.4 60.7 74.5 60.9 74.5 61.1 74.5 61.3 74.5 61.5 74.5 61.7 74.5 61.9 74.6 62.1 74.5 62.3 74.6 62.5 74.4 62.7 74.5 62.9 74.3 63.1 74.4 63.3 74.4 63.5 74.5 63.7 74.5 63.9 74.7 64.1 74.7 64.3 74.7 64.5 74.5 64.7 74.6 64.9 74.6 65.1 74.5 65.3 74.4 65.5 74.4 65.7 74.5 65.9 74.6 66.1 74.6 66.3 74.6 66.5 74.5 66.7 74.5 66.9 74.6 67.1 74.7 67.3 74.8 67.5 74.7 67.7 74.6 67.9 74.4 68.1 74.5 68.3 74.5 68.5 74.4 68.7 74.4 68.9 74.4 69.1 74.3 69.3 74.3 69.5 74.3 69.7 74.5 69.9 74.6 70.1 74.4 70.3 74.5 70.5 74.6 70.7 74.7 70.9 74.5 71.1 74.5 71.3 74.5 71.5 74.6 71.7 74.5 71.9 74.4 72.1 74.5 72.3 74.5 72.5 74.5 72.7 74.3 72.9 74.2 73.1 74.3 73.3 74.5 73.5 74.6 73.7 74.6 73.9 74.4 74.1 74.2 74.3 73.9 74.5 73.4 74.7 72.5 74.9 71 75.1 69.4 75.3 68 75.5 67.9 75.7 69 75.9 70.4 76.1 72 76.3 73.1 76.5 74 76.7 74.3 76.9 74.5 77.1 74.6 77.3 74.6 77.5 74.5 77.7 74.5 77.9 74.5 78.1 74.4 78.3 74.4 78.5 74.4 78.7 74.5 78.9 74.6 79.1 74.6 79.3 74.5 79.5 74.5 79.7 74.5 79.9 74.6 80.1 74.6 80.3 74.6 80.5 74.4 80.7 74.4 80.9 74.3 81.1 74.4 81.3 74.5 81.5 74.7 81.7 74.7 81.9 74.5 82.1 74.4 82.3 74.4 82.5 74.5 82.7 74.4 82.9 74.5 83.1 74.5 83.3 74.5 83.5 74.3 83.7 74 83.9 73.9 84.1 73.4 84.3 72.9 84.5 72.5 84.7 72.5 84.9 72.8 85.1 73.2 85.3 73.6 85.5 73.8 85.7 74.2 85.9 74.4 86.1 74.4 86.3 74.4 86.5 74.4 86.7 74.4 86.9 74.4 87.1 74.5 87.3 74.7 87.5 74.6 87.7 74.6 87.9 74.4 88.1 74.5 88.3 74.6 88.5 74.7 88.7 74.7 88.9 74.6 89.1 74.5 89.3 74.4 89.5 74.5 89.7 74.5 89.9 74.5 90.1 74.4 90.3 74.4 90.5 74.4 90.7 74.5 90.9 74.6 91.1 74.5 91.3 74.6 91.5 74.5 91.7 74.6 91.9 74.6 92.1 74.7 92.3 74.7 92.5 74.7 92.7 74.6 92.9 74.6 93.1 74.6 93.3 74.7 93.5 74.6 93.7 74.7 93.9 74.6 94.1 74.5 94.3 74.3 94.5 74.4 94.7 74.3 94.9 74.3 95.1 74.2 95.3 74.3 95.5 74.4 95.7 74.4 95.9 74.4 96.1 74.3 96.3 74.4 96.5 74.4 96.7 74.3 96.9 74.3 97.1 74.3 97.3 74.5 97.5 74.5 97.7 74.6 97.9 74.6 98.1 74.6 98.3 74.6 98.5 74.6 98.7 74.6 98.9 74.6 99.1 74.6 99.3 74.7 99.5 74.7 99.7 74.6 99.9 74.6 100.1 74.5 100.3 74.4 100.5 74.3 100.7 74.4 100.9 74.6 101.1 74.4 101.3 74.3 101.5 74.3 101.7 74.4 101.9 74.6 102.1 74.7 102.3 74.8 102.5 74.6 102.7 74.6 102.9 74.5 103.1 74.5 103.3 74.4 103.5 74.2 103.7 74.1 103.9 74.2 104.1 74.2 104.3 74.3 104.5 74.3 104.7 74.5 104.9 74.5 105.1 74.4 105.3 74.5 105.5 74.5 105.7 74.5 105.9 74.5 106.1 74.4 106.3 74.4 106.5 74.5 106.7 74.6 106.9 74.8 107.1 74.7 107.3 74.6 107.5 74.5 107.7 74.3 107.9 74.5 108.1 74.5 108.3 74.7 108.5 74.6 108.7 74.5 108.9 74.5 109.1 74.4 109.3 74.4 109.5 74.4 109.7 74.4 109.9 74.6 110.1 74.5 110.3 74.6 110.5 74.4 110.7 74.4 110.9 74.4 111.1 74.5 111.3 74.5 111.5 74.5 111.7 74.4 111.9 74.5 112.1 74.4 112.3 74.5 112.5 74.5 112.7 74.3 112.9 74.2 113.1 73.8 113.3 73.5 113.5 73.1 113.7 72.9 113.9 73 114.1 73.3 114.3 73.6 114.5 74 114.7 74.2 114.9 74.5 115.1 74.4 115.3 74.3 115.5 74.5 115.7 74.7 115.9 74.8 116.1 74.6 116.3 74.5 116.5 74.5 116.7 74.7 116.9 74.6 117.1 74.6 117.3 74.5 117.5 74.6 117.7 74.5 117.9 74.6 118.1 74.5 118.3 74.5 118.5 74.4 118.7 74.5 118.9 74.4 119.1 74.4 119.3 74.4 119.5 74.5 119.7 74.7 119.9 74.6 120.1 74.6 120.3 74.3 120.5 74.3 120.7 74.2 120.9 74.3 121.1 74.4 121.3 74.5 121.5 74.6 121.7 74.6 121.9 74.6 122.1 74.5 122.3 74.4 122.5 74.4 122.7 74.3 122.9 74.3 123.1 74 123.3 74 123.5 74.3 123.7 74.5 123.9 74.6 124.1 74.4 124.3 74.5 124.5 74.6 124.7 74.6 124.9 74.4 125.1 74.4 125.3 74.3 125.5 74.4 125.7 74.5 125.9 74.7 126.1 74.6 126.3 74.5 126.5 74.3 126.7 74.4 126.9 74.5 127.1 74.6 127.3 74.6 127.5 74.5 127.7 74.3 127.9 74.4 128.1 74.4 128.3 74.6 128.5 74.4 128.7 74.4 128.9 74.2 129.1 74.4 129.3 74.5 129.5 74.5 129.7 74.5 129.9 74.4 130.1 74.4 130.3 74.3 130.5 74.3 130.7 74.3 130.9 74.3 131.1 74.5 131.3 74.3 131.5 74 131.7 73.5 131.9 73.4 132.1 73.5 132.3 73.5 132.5 73.9 132.7 74 132.9 74.3 133.1 74.4 133.3 74.5 133.5 74.4 133.7 74.3 133.9 74.2 134.1 74.3 134.3 74.4 134.5 74.6 134.7 74.4 134.9 74.5 135.1 74.5 135.3 74.4 135.5 74.4 135.7 74.5 135.9 74.6 136.1 74.6 136.3 74.5 136.5 74.6 136.7 74.5 136.9 74.5 137.1 74.4 137.3 74.4 137.5 74.4 137.7 74.4 137.9 74.5 138.1 74.5 138.3 74.4 138.5 74.3 138.7 74.4 138.9 74.3 139.1 74.4 139.3 74.4 139.5 74.7 139.7 74.6 139.9 74.5 140.1 74.4 140.3 74.5 140.5 74.6 140.7 74.6 140.9 74.6 141.1 74.4 141.3 74.4 141.5 74.4 141.7 74.6 141.9 74.6 142.1 74.7 142.3 74.7 142.5 74.6 142.7 74.5 142.9 74.3 143.1 74.4 143.3 74.4 143.5 74.5 143.7 74.5 143.9 74.7 144.1 74.6 144.3 74.6 144.5 74.5 144.7 74.4 144.9 74.5 145.1 74.4 145.3 74.5 145.5 74.3 145.7 74.5 145.9 74.4 146.1 74.6 146.3 74.6 146.5 74.5 146.7 74.6 146.9 74.7 147.1 74.7 147.3 74.7 147.5 74.6 147.7 74.6 147.9 74.5 148.1 74.5 148.3 74.5 148.5 74.4 148.7 74.5 148.9 74.4 149.1 74.4 149.3 74.2 149.5 74.3 149.7 74.4 149.9 74.5 150.1 74.5 150.3 74.5 150.5 74.5 150.7 74.5 150.9 74.5 151.1 74.5 151.3 74.4 151.5 74.4 151.7 74.4 151.9 74.5 152.1 74.6 152.3 74.5 152.5 74.6 152.7 74.5 152.9 74.7 153.1 74.6 153.3 74.6 153.5 74.4 153.7 74.6 153.9 74.6 154.1 74.5 154.3 74.5 154.5 74.5 154.7 74.6 154.9 74.5 155.1 74.5 155.3 74.4 155.5 74.4 155.7 74.4 155.9 74.5 156.1 74.6 156.3 74.6 156.5 74.7 156.7 74.6 156.9 74.6 157.1 74.5 157.3 74.5 157.5 74.3 157.7 74.3 157.9 74.4 158.1 74.5 158.3 74.4 158.5 74.4 158.7 74.4 158.9 74.4 159.1 74.4 159.3 74.4 159.5 74.5 159.7 74.5 159.9 74.5 160.1 74.6 160.3 74.5 160.5 74.5 160.7 74.6 160.9 74.6 161.1 74.6 161.3 74.5 161.5 74.5 161.7 74.4 161.9 74.5 162.1 74.4 162.3 74.5 162.5 74.3 162.7 74.4 162.9 74.4 163.1 74.6 163.3 74.5 163.5 74.6 163.7 74.3 163.9 74.3 164.1 74.3 164.3 74.5 164.5 74.5 164.7 74.5 164.9 74.6 165.1 74.7 165.3 74.6 165.5 74.5 165.7 74.3 165.9 74.3 166.1 74.3 166.3 74.5 166.5 74.6 166.7 74.4 166.9 74.5 167.1 74.5 167.3 74.6 167.5 74.6 167.7 74.7 167.9 74.7 168.1 74.5 168.3 74.5 168.5 74.4 168.7 74.5 168.9 74.3 169.1 74.3 169.3 74.3 169.5 74.4 169.7 74.4 169.9 74.4 170.1 74.5 170.3 74.5 170.5 74.5 170.7 74.5 170.9 74.4 171.1 74.3 171.3 74.4 171.5 74.7 171.7 74.6 171.9 74.5 172.1 74.2 172.3 74.4 172.5 74.4 172.7 74.5 172.9 74.5 173.1 74.5 173.3 74.5 173.5 74.5 173.7 74.7 173.9 74.5 174.1 74.6 174.3 74.5 174.5 74.6 174.7 74.4 174.9 74.4 175.1 74.4 175.3 74.5 175.5 74.4 175.7 74.4 175.9 74.3 176.1 74.4 176.3 74.3 176.5 74.4 176.7 74.4 176.9 74.5" fill="none" stroke="#555555" stroke-width="1" stroke-linejoin="round" />
<path d="M30.1 91.2 30.3 91.3 30.5 91.2 30.7 91.1 30.9 91 31.1 90.9 31.3 90.9 31.5 90.9 31.7 90.9 31.9 90.9 32.1 91 32.3 91.2 32.5 91.3 32.7 91.2 32.9 91.1 33.1 91 33.3 91 33.5 91 33.7 91.1 33.9 91.1 34.1 91.1 34.3 91.1 34.5 91 34.7 91.1 34.9 91.2 35.1 91.2 35.3 91.1 35.5 91.1 35.7 91.3 35.9 91.3 36.1 91.2 36.3 90.9 36.5 90.9 36.7 91 36.9 91.1 37.1 91.1 37.3 91.1 37.5 91.1 37.7 90.9 37.9 91.1 38.1 91.2 38.3 91.4 38.5 91.2 38.7 91.2 38.9 91.1 39.1 91.3 39.3 91.2 39.5 91.2 39.7 91.1 39.9 91 40.1 90.9 40.3 90.9 40.5 91 40.7 91 40.9 91.1 41.1 91.2 41.3 91.1 41.5 90.9 41.7 91 41.9 91.2 42.1 91.2 42.3 91.2 42.5 91 42.7 91 42.9 91.1 43.1 91.1 43.3 91.1 43.5 91 43.7 91.1 43.9 91.2 44.1 91.3 44.3 91.2 44.5 91.2 44.7 91.1 44.9 91 45.1 91 45.3 91 45.5 91.1 45.7 91.2 45.9 91.2 46.1 91.3 46.3 91.3 46.5 91.2 46.7 91.1 46.9 91 47.1 91.1 47.3 91.1 47.5 91.1 47.7 91.2 47.9 91.1 48.1 91.1 48.3 91 48.5 91 48.7 91.1 48.9 91.1 49.1 91.2 49.3 91.1 49.5 91.2 49.7 91.1 49.9 91.2 50.1 91.2 50.3 91.1 50.5 91 50.7 91 50.9 91 51.1 90.8 51.3 90.8 51.5 90.9 51.7 91.1 51.9 91.1 52.1 91.1 52.3 91.1 52.5 91.1 52.7 91 52.9 91 53.1 91 53.3 91.1 53.5 91.2 53.7 91.1 53.9 91.1 54.1 91 54.3 91.1 54.5 91 54.7 91.1 54.9 91 55.1 91 55.3 91 55.5 91.1 55.7 91 55.9 90.9 56.1 91 56.3 91 56.5 91 56.7 91 56.9 91.1 57.1 91.1 57.3 91 57.5 90.9 57.7 90.7 57.9 90.5 58.1 90.3 58.3 90.3 58.5 90.2 58.7 90.5 58.9 90.7 59.1 91 59.3 91.1 59.5 91.1 59.7 91.2 59.9 91.2 60.1 91.2 60.3 91.1 60.5 91.2 60.7 91.1 60.9 91.2 61.1 91 61.3 91.1 61.5 91.1 61.7 91.1 61.9 91.2 62.1 91.1 62.3 91.1 62.5 91 62.7 91 62.9 91.1 63.1 91.1 63.3 91 63.5 90.8 63.7 90.8 63.9 91 64.1 91 64.3 91 64.5 91 64.7 91 64.9 91.1 65.1 90.9 65.3 91.1 65.5 91.2 65.7 91.2 65.9 90.9 66.1 90.7 66.3 90.9 66.5 91 66.7 91.2 66.9 91 67.1 91 67.3 90.9 67.5 91.1 67.7 91.1 67.9 91.1 68.1 91 68.3 91 68.5 91.1 68.7 91.1 68.9 91.1 69.1 91 69.3 90.9 69.5 90.9 69.7 91 69.9 91.2 70.1 91.1 70.3 90.9 70.5 91 70.7 91 70.9 91.1 71.1 91 71.3 91 71.5 91 71.7 91.1 71.9 91.1 72.1 91.2 72.3 91.1 72.5 91.2 72.7 91.1 72.9 91.1 73.1 91.2 73.3 91.1 73.5 91 73.7 91 73.9 90.8 74.1 90.7 74.3 90.2 74.5 89.5 74.7 88.3 74.9 86.2 75.1 84 75.3 82.4 75.5 82.2 75.7 83.4 75.9 85.4 76.1 87.6 76.3 89.2 76.5 90.1 76.7 90.5 76.9 90.8 77.1 90.9 77.3 91 77.5 90.9 77.7 90.9 77.9 90.9 78.1 90.8 78.3 90.9 78.5 90.9 78.7 91 78.9 91 79.1 91 79.3 91 79.5 91 79.7 90.9 79.9 91 80.1 91 80.3 91 80.5 91 80.7 91 80.9 91 81.1 90.8 81.3 90.8 81.5 90.9 81.7 91 81.9 91 82.1 90.9 82.3 90.9 82.5 91 82.7 90.9 82.9 90.9 83.1 90.9 83.3 90.9 83.5 90.7 83.7 90.5 83.9 90.2 84.1 89.5 84.3 89.1 84.5 88.5 84.7 88.5 84.9 88.7 85.1 89.3 85.3 89.9 85.5 90.4 85.7 90.7 85.9 90.8 86.1 91 86.3 91.2 86.5 91.3 86.7 91.3 86.9 91.3 87.1 91.3 87.3 91.2 87.5 91.1 87.7 90.9 87.9 91.1 88.1 91.2 88.3 91.1 88.5 91.1 88.7 91.1 88.9 91.1 89.1 91.1 89.3 91.1 89.5 90.9 89.7 90.8 89.9 90.8 90.1 90.9 90.3 91.1 90.5 91 90.7 91.1 90.9 91.1 91.1 91 91.3 90.9 91.5 90.8 91.7 90.9 91.9 91.1 92.1 91.1 92.3 91.1 92.5 90.9 92.7 90.9 92.9 90.9 93.1 91 93.3 91.1 93.5 91.2 93.7 91.2 93.9 91.2 94.1 91 94.3 91 94.5 91 94.7 91 94.9 90.9 95.1 90.9 95.3 91.1 95.5 91 95.7 91 95.9 91 96.1 90.8 96.3 90.7 96.5 90.6 96.7 90.6 96.9 90.7 97.1 90.8 97.3 90.9 97.5 91 97.7 90.9 97.9 91 98.1 91.1 98.3 91.3 98.5 91.3 98.7 91.3 98.9 91.3 99.1 91.3 99.3 91.2 99.5 91.1 99.7 91 99.9 91 100.1 91.1 100.3 91.2 100.5 91.3 100.7 91.3 100.9 91.3 101.1 91.4 101.3 91.3 101.5 91.2 101.7 91.2 101.9 91.1 102.1 91 102.3 90.7 102.5 90.9 102.7 90.9 102.9 90.9 103.1 90.8 103.3 90.8 103.5 90.6 103.7 90.5 103.9 90.5 104.1 90.7 104.3 90.9 104.5 91 104.7 91 104.9 91.1 105.1 91.2 105.3 91.2 105.5 91.1 105.7 91 105.9 91 106.1 90.9 106.3 91 106.5 91.1 106.7 91.3 106.9 91.3 107.1 91.2 107.3 91.1 107.5 91.1 107.7 91.1 107.9 91.2 108.1 91.2 108.3 91.3 108.5 91.2 108.7 91.2 108.9 91.1 109.1 91 109.3 91 109.5 91.2 109.7 91.4 109.9 91.3 110.1 90.9 110.3 90.8 110.5 90.8 110.7 91 110.9 91.2 111.1 91.1 111.3 91.1 111.5 91.1 111.7 91.1 111.9 91 112.1 90.9 112.3 90.9 112.5 91 112.7 90.8 112.9 90.5 113.1 90.2 113.3 89.8 113.5 89.4 113.7 89.2 113.9 89.2 114.1 89.5 114.3 90 114.5 90.3 114.7 90.6 114.9 90.8 115.1 91 115.3 91.1 115.5 90.9 115.7 91 115.9 90.9 116.1 91.1 116.3 91.1 116.5 91.3 116.7 91 116.9 90.9 117.1 90.7 117.3 90.9 117.5 91 117.7 91 117.9 90.9 118.1 90.8 118.3 90.8 118.5 91 118.7 91.1 118.9 91.3 119.1 91.3 119.3 91.3 119.5 91.2 119.7 91.2 119.9 91.1 120.1 91 120.3 91 120.5 91 120.7 91.2 120.9 91.1 121.1 91.1 121.3 91 121.5 91 121.7 91.2 121.9 91.2 122.1 91.1 122.3 91 122.5 90.9 122.7 90.9 122.9 90.9 123.1 91 123.3 91 123.5 91.1 123.7 91 123.9 91 124.1 91 124.3 91.1 124.5 91.1 124.7 91 124.9 90.9 125.1 91 125.3 91 125.5 91.1 125.7 91 125.9 91.1 126.1 91.2 126.3 91.2 126.5 91 126.7 90.9 126.9 90.8 127.1 90.7 127.3 90.8 127.5 90.9 127.7 91.1 127.9 91.1 128.1 91.2 128.3 91.2 128.5 91.1 128.7 91 128.9 91 129.1 91.1 129.3 91.2 129.5 91.1 129.7 90.9 129.9 91 130.1 91 130.3 91.2 130.5 91.1 130.7 91 130.9 90.9 131.1 90.8 131.3 90.8 131.5 90.4 131.7 89.9 131.9 89.5 132.1 89.5 132.3 89.7 132.5 90.2 132.7 90.5 132.9 90.8 133.1 90.9 133.3 90.9 133.5 91.1 133.7 91.1 133.9 91.1 134.1 91 134.3 91 134.5 91.1 134.7 91.1 134.9 91.1 135.1 91.1 135.3 91.2 135.5 91.1 135.7 91.1 135.9 91 136.1 91.1 136.3 91.1 136.5 91.2 136.7 91.2 136.9 91.1 137.1 91 137.3 91 137.5 91 137.7 91 137.9 91 138.1 91 138.3 91.2 138.5 91.2 138.7 91.3 138.9 91.3 139.1 91.4 139.3 91.3 139.5 91.2 139.7 91.1 139.9 91.1 140.1 91.1 140.3 91.1 140.5 91.2 140.7 91.4 140.9 91.4 141.1 91.3 141.3 91.2 141.5 91 141.7 90.9 141.9 91 142.1 91.2 142.3 91.4 142.5 91.4 142.7 91.4 142.9 91.3 143.1 91.3 143.3 91.3 143.5 91.2 143.7 91.3 143.9 91.2 144.1 91 144.3 90.9 144.5 91 144.7 91.3 144.9 91.2 145.1 91.2 145.3 91.1 145.5 91.2 145.7 91.1 145.9 91 146.1 91.1 146.3 91 146.5 91 146.7 91 146.9 91.1 147.1 91 147.3 91 147.5 90.9 147.7 91.1 147.9 91 148.1 91.2 148.3 91.2 148.5 91.3 148.7 91.2 148.9 91.2 149.1 91 149.3 91.1 149.5 91 149.7 91 149.9 91 150.1 91.1 150.3 91.2 150.5 91.2 150.7 91.2 150.9 91.1 151.1 91.1 151.3 91.1 151.5 91.2 151.7 91.1 151.9 91.1 152.1 91.1 152.3 91.1 152.5 91.1 152.7 91 152.9 91.1 153.1 91.1 153.3 91.2 153.5 91.1 153.7 91 153.9 91 154.1 91.1 154.3 91.2 154.5 91.3 154.7 91.2 154.9 91.1 155.1 90.9 155.3 90.9 155.5 91 155.7 91 155.9 91 156.1 91 156.3 91.1 156.5 91.1 156.7 91.2 156.9 91.3 157.1 91.4 157.3 91.3 157.5 91.2 157.7 91.1 157.9 91.1 158.1 91.1 158.3 90.9 158.5 91 158.7 90.9 158.9 91.2 159.1 91.1 159.3 91.2 159.5 91 159.7 91 159.9 91 160.1 91 160.3 91.2 160.5 91.2 160.7 91.3 160.9 91.3 161.1 91.3 161.3 91.3 161.5 91.2 161.7 91.2 161.9 91.2 162.1 91.2 162.3 91.2 162.5 91.1 162.7 91 162.9 91 163.1 91 163.3 91.2 163.5 91.1 163.7 91.1 163.9 90.9 164.1 91 164.3 91.1 164.5 91.1 164.7 91.2 164.9 90.9 165.1 91 165.3 91 165.5 91.1 165.7 91 165.9 91 166.1 91 166.3 91.2 166.5 91.2 166.7 91.2 166.9 91 167.1 91.1 167.3 91 167.5 91.1 167.7 91.1 167.9 91.2 168.1 91.1 168.3 91.1 168.5 91.1 168.7 91.1 168.9 91.1 169.1 91.1 169.3 91.1 169.5 91.1 169.7 91 169.9 91 170.1 91 170.3 90.9 170.5 91 170.7 91.1 170.9 91.2 171.1 90.9 171.3 90.7 171.5 90.8 171.7 91.1 171.9 91.3 172.1 91.3 172.3 91.1 172.5 91 172.7 91.2 172.9 91.2 173.1 91.2 173.3 91.1 173.5 91.2 173.7 91.1 173.9 91 174.1 91 174.3 91.2 174.5 91.1 174.7 91.1 174.9 91.1 175.1 91.2 175.3 91.1 175.5 91 175.7 91.1 175.9 91.2 176.1 91.1 176.3 91.2 176.5 91.2 176.7 91.2 176.9 91" fill="none" stroke="#2464cc" stroke-width="1.1" stroke-linejoin="round" />
<line x1="50.8" y1="113.5" x2="50.8" y2="112.5" stroke="#2464cc" stroke-width="1" />
<line x1="58.32" y1="113.5" x2="58.32" y2="110.7" stroke="#2464cc" stroke-width="1" />
<line x1="75.43" y1="113.5" x2="75.43" y2="102" stroke="#2464cc" stroke-width="1" />
<line x1="80.13" y1="113.5" x2="80.13" y2="112.3" stroke="#2464cc" stroke-width="1" />
<line x1="84.64" y1="113.5" x2="84.64" y2="109.3" stroke="#2464cc" stroke-width="1" />
<line x1="88.78" y1="113.5" x2="88.78" y2="112.5" stroke="#2464cc" stroke-width="1" />
<line x1="92.72" y1="113.5" x2="92.72" y2="112.3" stroke="#2464cc" stroke-width="1" />
<line x1="96.48" y1="113.5" x2="96.48" y2="112" stroke="#2464cc" stroke-width="1" />
<line x1="103.82" y1="113.5" x2="103.82" y2="111.3" stroke="#2464cc" stroke-width="1" />
<line x1="111.15" y1="113.5" x2="111.15" y2="112.5" stroke="#2464cc" stroke-width="1" />
<line x1="113.78" y1="113.5" x2="113.78" y2="109.3" stroke="#2464cc" stroke-width="1" />
<line x1="116.79" y1="113.5" x2="116.79" y2="112.5" stroke="#2464cc" stroke-width="1" />
<line x1="122.99" y1="113.5" x2="122.99" y2="112" stroke="#2464cc" stroke-width="1" />
<line x1="125.62" y1="113.5" x2="125.62" y2="112.5" stroke="#2464cc" stroke-width="1" />
<line x1="129.01" y1="113.5" x2="129.01" y2="112.5" stroke="#2464cc" stroke-width="1" />
<line x1="132.02" y1="113.5" x2="132.02" y2="110.5" stroke="#2464cc" stroke-width="1" />
<line x1="134.84" y1="113.5" x2="134.84" y2="112.5" stroke="#2464cc" stroke-width="1" />
<line x1="138.22" y1="113.5" x2="138.22" y2="112.5" stroke="#2464cc" stroke-width="1" />
<line x1="141.98" y1="113.5" x2="141.98" y2="112.5" stroke="#2464cc" stroke-width="1" />
<line x1="145.74" y1="113.5" x2="145.74" y2="112.3" stroke="#2464cc" stroke-width="1" />
<line x1="148.56" y1="113.5" x2="148.56" y2="112.5" stroke="#2464cc" stroke-width="1" />
<line x1="160.03" y1="113.5" x2="160.03" y2="112" stroke="#2464cc" stroke-width="1" />
<line x1="163.6" y1="113.5" x2="163.6" y2="112.5" stroke="#2464cc" stroke-width="1" />
<line x1="167.17" y1="113.5" x2="167.17" y2="112.5" stroke="#2464cc" stroke-width="1" />
<line x1="173" y1="113.5" x2="173" y2="112.5" stroke="#2464cc" stroke-width="1" />
<line x1="175.82" y1="113.5" x2="175.82" y2="112.5" stroke="#2464cc" stroke-width="1" />
<line x1="88.02" y1="113.5" x2="88.02" y2="108.5" stroke="#ff3c3c" stroke-width="1.1" />
<line x1="99.3" y1="113.5" x2="99.3" y2="109" stroke="#ff3c3c" stroke-width="1.1" />
<line x1="136.15" y1="113.5" x2="136.15" y2="110.5" stroke="#ff3c3c" stroke-width="1.1" />
<line x1="159.65" y1="113.5" x2="159.65" y2="111.9" stroke="#ff3c3c" stroke-width="1.1" />
<line x1="167.17" y1="113.5" x2="167.17" y2="112.1" stroke="#ff3c3c" stroke-width="1.1" />
<circle cx="32" cy="25.6" r="0.6" fill="#222"/>
<circle cx="37" cy="26.2" r="0.6" fill="#222"/>
<circle cx="41.4" cy="25.6" r="0.6" fill="#222"/>
<circle cx="51.7" cy="26.2" r="0.6" fill="#222"/>
<circle cx="68" cy="26.2" r="0.6" fill="#222"/>
<circle cx="58.3" cy="24.7" r="1" fill="#111"/>
<circle cx="75.4" cy="20.8" r="1" fill="#111"/>
<circle cx="84.1" cy="24" r="1" fill="#111"/>
<circle cx="96.5" cy="25.4" r="1" fill="#111"/>
<circle cx="113.4" cy="24" r="1" fill="#111"/>
<circle cx="131.4" cy="24.3" r="1" fill="#111"/>
<circle cx="137.7" cy="25.7" r="1" fill="#111"/>
<polygon points="87.5,23.8 86.2,26.14 88.8,26.14" fill="none" stroke="#ff3c3c" stroke-width="0.6"/>
<polygon points="99.5,23 98.2,25.34 100.8,25.34" fill="none" stroke="#ff3c3c" stroke-width="0.6"/>
<polygon points="135,24.4 133.7,26.74 136.3,26.74" fill="none" stroke="#ff3c3c" stroke-width="0.6"/>
<polygon points="159,24.6 157.7,26.94 160.3,26.94" fill="none" stroke="#ff3c3c" stroke-width="0.6"/>
<polygon points="166.4,24.6 165.1,26.94 167.7,26.94" fill="none" stroke="#ff3c3c" stroke-width="0.6"/>
<text font-size="6.8" text-anchor="start" fill="#161616" stroke="#161616" stroke-width="0.28" font-weight="bold" transform="translate(31.6 21.64) scale(1 1)">ZPNiIn</text>
<text font-size="6.8" text-anchor="start" fill="#161616" stroke="#161616" stroke-width="0.28" font-weight="bold" transform="translate(31.6 37.74) scale(1 1)">ZNiIn</text>
<circle cx="155.3" cy="53.9" r="0.9" fill="#111"/>
<text font-size="6.8" text-anchor="start" fill="#161616" stroke="#161616" stroke-width="0.28" font-weight="bold" transform="translate(157.5 56.14) scale(1 1)">ZIF-8</text>
<text font-size="6.8" text-anchor="start" fill="#161616" stroke="#161616" stroke-width="0.28" font-weight="bold" transform="translate(33.8 71.04) scale(1 1)">NiIn</text>
<text font-size="6.8" text-anchor="start" fill="#161616" stroke="#161616" stroke-width="0.28" font-weight="bold" transform="translate(33 88.84) scale(1 1)">In<tspan font-size="4.62" baseline-shift="-1.36">2</tspan>O<tspan font-size="4.62" baseline-shift="-1.36">3</tspan></text>
<circle cx="122.7" cy="98.3" r="0.9" fill="#111"/>
<text font-size="5.9" text-anchor="start" fill="#3a6cc8" stroke="#3a6cc8" stroke-width="0.28" font-weight="bold" transform="translate(126.2 100.25) scale(1 1)">In<tspan font-size="4.01" baseline-shift="-1.18">2</tspan>O<tspan font-size="4.01" baseline-shift="-1.18">3</tspan></text>
<text font-size="5.45" text-anchor="start" fill="#3a6cc8" stroke="#3a6cc8" stroke-width="0.28" font-weight="bold" transform="translate(142.8 100.1) scale(1 1)">PDF#06-0416</text>
<polygon points="123,104.3 121.8,106.46 124.2,106.46" fill="none" stroke="#e02020" stroke-width="0.6"/>
<text font-size="5.9" text-anchor="start" fill="#e02020" stroke="#e02020" stroke-width="0.28" font-weight="bold" transform="translate(126.2 107.35) scale(1 1)">NiO</text>
<text font-size="5.45" text-anchor="start" fill="#e02020" stroke="#e02020" stroke-width="0.28" font-weight="bold" transform="translate(142.4 107.2) scale(1 1)">PDF#47-1049</text>
<rect x="29.5" y="8.5" width="148" height="105" fill="none" stroke="#363636" stroke-width="1.15"/>
<line x1="36.7" y1="113.5" x2="36.7" y2="115.5" stroke="#363636" stroke-width="0.9" />
<line x1="55.5" y1="113.5" x2="55.5" y2="115.5" stroke="#363636" stroke-width="0.9" />
<line x1="74.3" y1="113.5" x2="74.3" y2="115.5" stroke="#363636" stroke-width="0.9" />
<line x1="93.1" y1="113.5" x2="93.1" y2="115.5" stroke="#363636" stroke-width="0.9" />
<line x1="111.9" y1="113.5" x2="111.9" y2="115.5" stroke="#363636" stroke-width="0.9" />
<line x1="130.7" y1="113.5" x2="130.7" y2="115.5" stroke="#363636" stroke-width="0.9" />
<line x1="149.5" y1="113.5" x2="149.5" y2="115.5" stroke="#363636" stroke-width="0.9" />
<line x1="168.3" y1="113.5" x2="168.3" y2="115.5" stroke="#363636" stroke-width="0.9" />
<line x1="46.1" y1="113.5" x2="46.1" y2="114.7" stroke="#363636" stroke-width="0.8" />
<line x1="64.9" y1="113.5" x2="64.9" y2="114.7" stroke="#363636" stroke-width="0.8" />
<line x1="83.7" y1="113.5" x2="83.7" y2="114.7" stroke="#363636" stroke-width="0.8" />
<line x1="102.5" y1="113.5" x2="102.5" y2="114.7" stroke="#363636" stroke-width="0.8" />
<line x1="121.3" y1="113.5" x2="121.3" y2="114.7" stroke="#363636" stroke-width="0.8" />
<line x1="140.1" y1="113.5" x2="140.1" y2="114.7" stroke="#363636" stroke-width="0.8" />
<line x1="158.9" y1="113.5" x2="158.9" y2="114.7" stroke="#363636" stroke-width="0.8" />
<text font-size="7" text-anchor="middle" fill="#161616" stroke="#161616" stroke-width="0.28" font-weight="bold" transform="translate(36.7 122.71) scale(1 1)">10</text>
<text font-size="7" text-anchor="middle" fill="#161616" stroke="#161616" stroke-width="0.28" font-weight="bold" transform="translate(55.5 122.71) scale(1 1)">20</text>
<text font-size="7" text-anchor="middle" fill="#161616" stroke="#161616" stroke-width="0.28" font-weight="bold" transform="translate(74.3 122.71) scale(1 1)">30</text>
<text font-size="7" text-anchor="middle" fill="#161616" stroke="#161616" stroke-width="0.28" font-weight="bold" transform="translate(93.1 122.71) scale(1 1)">40</text>
<text font-size="7" text-anchor="middle" fill="#161616" stroke="#161616" stroke-width="0.28" font-weight="bold" transform="translate(111.9 122.71) scale(1 1)">50</text>
<text font-size="7" text-anchor="middle" fill="#161616" stroke="#161616" stroke-width="0.28" font-weight="bold" transform="translate(130.7 122.71) scale(1 1)">60</text>
<text font-size="7" text-anchor="middle" fill="#161616" stroke="#161616" stroke-width="0.28" font-weight="bold" transform="translate(149.5 122.71) scale(1 1)">70</text>
<text font-size="7" text-anchor="middle" fill="#161616" stroke="#161616" stroke-width="0.28" font-weight="bold" transform="translate(168.3 122.71) scale(1 1)">80</text>
<text font-size="9.2" text-anchor="middle" fill="#161616" stroke="#161616" stroke-width="0.28" font-weight="bold" transform="translate(103 132) scale(1 1)">2&#952; / degree</text>
<text font-size="9" text-anchor="middle" fill="#161616" stroke="#161616" stroke-width="0.28" font-weight="bold" transform="translate(22.24 60.3) rotate(-90)">Intensity / a.u.</text>
<rect x="242.5" y="16.2" width="89.2" height="47.8" fill="none" stroke="#8ea2ee" stroke-width="0.9"/>
<path d="M216.1 19.7 216.5 19.7 216.9 19.7 217.3 20.1 217.7 20.2 218.1 20.3 218.5 20.1 218.9 20.1 219.3 20 219.7 20.1 220.1 20.1 220.5 20.3 220.9 20.3 221.3 20.1 221.7 20 222.1 19.9 222.5 19.9 222.9 20 223.3 20 223.7 20 224.1 20.1 224.5 20.2 224.9 20.3 225.3 20 225.7 19.9 226.1 19.8 226.5 19.8 226.9 19.8 227.3 19.9 227.7 20 228.1 20.1 228.5 20 228.9 20 229.3 20.1 229.7 20.2 230.1 20.2 230.5 20.2 230.9 20.2 231.3 20.2 231.7 20.1 232.1 20 232.5 20 232.9 20 233.3 20 233.7 19.9 234.1 19.9 234.5 20 234.9 20 235.3 19.9 235.7 20 236.1 20.1 236.5 20.2 236.9 20.1 237.3 20 237.7 19.9 238.1 19.9 238.5 20 238.9 19.8 239.3 19.6 239.7 19.6 240.1 19.9 240.5 20 240.9 20 241.3 19.9 241.7 19.8 242.1 19.8 242.5 19.9 242.9 20 243.3 19.9 243.7 19.9 244.1 19.9 244.5 20 244.9 20 245.3 20 245.7 20 246.1 20.1 246.5 20.3 246.9 20.4 247.3 20.4 247.7 20.2 248.1 20.1 248.5 20.2 248.9 20.5 249.3 20.5 249.7 20.6 250.1 20.8 250.5 21.2 250.9 21.5 251.3 21.6 251.7 21.8 252.1 22.1 252.5 22.2 252.9 22.3 253.3 22.5 253.7 22.6 254.1 22.7 254.5 22.3 254.9 22.3 255.3 22 255.7 21.9 256.1 21.5 256.5 21.2 256.9 20.9 257.3 20.7 257.7 20.6 258.1 20.5 258.5 20.3 258.9 20.2 259.3 20.1 259.7 20.1 260.1 20.2 260.5 20.3 260.9 20.5 261.3 20.9 261.7 21.1 262.1 21.2 262.5 21.1 262.9 20.8 263.3 20.8 263.7 20.7 264.1 20.9 264.5 21.3 264.9 21.9 265.3 23 265.7 24.2 266.1 25.5 266.5 26.6 266.9 27.7 267.3 28.5 267.7 29 268.1 28.8 268.5 28.1 268.9 27 269.3 25.5 269.7 24.2 270.1 23.2 270.5 22.3 270.9 21.7 271.3 21.5 271.7 21.7 272.1 22 272.5 22.2 272.9 22 273.3 21.4 273.7 20.7 274.1 20.2 274.5 20 274.9 19.9 275.3 19.7 275.7 19.6 276.1 19.7 276.5 19.9 276.9 20.1 277.3 20.7 277.7 22.3 278.1 25.4 278.5 29 278.9 30.5 279.3 29 279.7 25.3 280.1 22.4 280.5 20.8 280.9 20.4 281.3 20.2 281.7 20.1 282.1 19.9 282.5 19.9 282.9 20 283.3 19.9 283.7 20 284.1 19.8 284.5 20.1 284.9 19.9 285.3 20 285.7 20 286.1 20 286.5 20.2 286.9 20.1 287.3 20.2 287.7 20 288.1 20 288.5 19.9 288.9 20 289.3 20.3 289.7 20.9 290.1 22.3 290.5 24.8 290.9 26.6 291.3 26.1 291.7 23.6 292.1 21.9 292.5 22.3 292.9 25.3 293.3 30.7 293.7 36.5 294.1 39.9 294.5 38.7 294.9 33.7 295.3 27.8 295.7 23.6 296.1 21.3 296.5 20.5 296.9 20 297.3 20.1 297.7 20.1 298.1 20.1 298.5 20 298.9 20 299.3 20 299.7 20.1 300.1 20 300.5 20 300.9 20 301.3 20.2 301.7 20.2 302.1 19.9 302.5 19.9 302.9 20 303.3 20.2 303.7 20.1 304.1 20 304.5 19.9 304.9 19.9 305.3 19.8 305.7 19.9 306.1 20.3 306.5 21.4 306.9 23.6 307.3 26.2 307.7 28.4 308.1 28.9 308.5 27.4 308.9 24.9 309.3 22.5 309.7 21 310.1 20.2 310.5 20.1 310.9 20.2 311.3 20.5 311.7 20.8 312.1 21.3 312.5 21.7 312.9 21.9 313.3 21.8 313.7 21.4 314.1 20.9 314.5 20.5 314.9 20.2 315.3 19.8 315.7 19.9 316.1 19.9 316.5 20.1 316.9 19.9 317.3 20.1 317.7 20.1 318.1 20 318.5 19.9 318.9 19.8 319.3 20 319.7 19.9 320.1 20.1 320.5 20.1 320.9 20.1 321.3 20.1 321.7 20.3 322.1 20.3 322.5 20.3 322.9 20.1 323.3 20.2 323.7 20 324.1 19.8 324.5 19.9 324.9 20 325.3 20.1 325.7 20.1 326.1 20.2 326.5 20.3 326.9 20.1 327.3 20 327.7 20.1 328.1 20.1 328.5 20.5 328.9 22 329.3 25.8 329.7 30.5 330.1 33.5 330.5 32.4 330.9 28.3 331.3 24.1 331.7 21.8 332.1 20.8 332.5 20.5 332.9 20.2 333.3 20.4 333.7 20.6 334.1 21.4 334.5 22.7 334.9 24.5 335.3 26.4 335.7 27.4 336.1 27 336.5 25.6 336.9 23.7 337.3 22.2 337.7 21 338.1 20.3 338.5 20 338.9 19.8 339.3 19.9 339.7 19.8 340.1 19.9 340.5 20 340.9 20 341.3 20 341.7 20 342.1 20.1 342.5 20.3 342.9 20.4 343.3 20.3 343.7 20.1 344.1 20.1 344.5 20.2 344.9 20.3 345.3 20.4 345.7 20.4 346.1 20.3 346.5 20.2 346.9 20.4 347.3 20.6 347.7 20.8 348.1 20.9 348.5 21 348.9 21.2 349.3 21.5 349.7 21.6 350.1 21.8 350.5 21.6 350.9 21.5 351.3 21.2 351.7 21.2 352.1 21.1 352.5 20.9 352.9 20.4 353.3 20.3 353.7 20 354.1 20.1 354.5 20.1 354.9 20.2 355.3 20.2 355.7 20 356.1 20 356.5 20 356.9 20.1 357.3 20.1 357.7 20.1 358.1 19.9 358.5 19.8 358.9 19.9 359.3 20.4 359.7 22 360.1 25.9 360.5 32.3 360.9 38.3 361.3 39.8 361.7 35.5 362.1 28.8 362.5 23.4 362.9 20.8" fill="none" stroke="#1cc6cf" stroke-width="1.1" stroke-linejoin="round" />
<path d="M216.1 35.6 216.5 35.7 216.9 35.7 217.3 35.6 217.7 35.7 218.1 35.7 218.5 35.8 218.9 35.7 219.3 35.8 219.7 35.8 220.1 35.7 220.5 35.6 220.9 35.7 221.3 35.7 221.7 35.8 222.1 35.6 222.5 35.5 222.9 35.5 223.3 35.6 223.7 35.5 224.1 35.4 224.5 35.6 224.9 35.8 225.3 35.8 225.7 35.6 226.1 35.5 226.5 35.5 226.9 35.5 227.3 35.6 227.7 35.7 228.1 35.8 228.5 35.9 228.9 35.7 229.3 35.6 229.7 35.6 230.1 35.6 230.5 35.8 230.9 35.7 231.3 35.9 231.7 35.7 232.1 35.6 232.5 35.5 232.9 35.6 233.3 35.7 233.7 35.7 234.1 35.6 234.5 35.5 234.9 35.6 235.3 35.6 235.7 35.7 236.1 35.8 236.5 35.7 236.9 35.5 237.3 35.5 237.7 35.5 238.1 35.7 238.5 35.7 238.9 35.8 239.3 35.8 239.7 35.9 240.1 36 240.5 36 240.9 35.9 241.3 35.6 241.7 35.6 242.1 35.5 242.5 35.8 242.9 35.8 243.3 36 243.7 36 244.1 35.9 244.5 36 244.9 36.2 245.3 36.4 245.7 36.7 246.1 36.9 246.5 37.3 246.9 37.6 247.3 37.9 247.7 37.9 248.1 37.9 248.5 37.6 248.9 37.3 249.3 37.3 249.7 37.2 250.1 37.4 250.5 37.4 250.9 38 251.3 38.7 251.7 39.5 252.1 40.4 252.5 41.1 252.9 41.9 253.3 42.3 253.7 42.6 254.1 42.5 254.5 42.1 254.9 41.3 255.3 40.7 255.7 40 256.1 39.4 256.5 38.7 256.9 38.5 257.3 38.4 257.7 38.5 258.1 38.7 258.5 38.8 258.9 38.6 259.3 38.1 259.7 37.7 260.1 37.4 260.5 37.1 260.9 37.2 261.3 37.3 261.7 37.9 262.1 38.2 262.5 39.1 262.9 39.8 263.3 40.9 263.7 41.7 264.1 42.4 264.5 43.3 264.9 43.9 265.3 44.5 265.7 44.7 266.1 44.8 266.5 44.9 266.9 44.9 267.3 45 267.7 45 268.1 44.9 268.5 44.9 268.9 44.9 269.3 45 269.7 44.7 270.1 44 270.5 43.1 270.9 41.8 271.3 40.8 271.7 39.5 272.1 38.4 272.5 37.5 272.9 36.9 273.3 36.4 273.7 35.9 274.1 35.6 274.5 35.6 274.9 35.9 275.3 35.9 275.7 36 276.1 35.9 276.5 35.9 276.9 36.4 277.3 37.8 277.7 40.3 278.1 43.4 278.5 46.2 278.9 47.3 279.3 46.2 279.7 43.5 280.1 40.4 280.5 38.2 280.9 36.7 281.3 36.4 281.7 36.2 282.1 36.3 282.5 36.4 282.9 36.7 283.3 37 283.7 37.3 284.1 37.3 284.5 37.7 284.9 37.8 285.3 37.8 285.7 37.4 286.1 37.1 286.5 37 286.9 36.7 287.3 36.5 287.7 36.3 288.1 36.2 288.5 36.1 288.9 36 289.3 36.4 289.7 37.1 290.1 38.4 290.5 39.7 290.9 40.8 291.3 40.5 291.7 39.9 292.1 39.4 292.5 40.4 292.9 42.4 293.3 45.2 293.7 47.3 294.1 48 294.5 46.4 294.9 43.8 295.3 41 295.7 38.7 296.1 37.4 296.5 36.8 296.9 36.7 297.3 36.8 297.7 36.9 298.1 37.4 298.5 37.7 298.9 37.9 299.3 37.8 299.7 37.5 300.1 37 300.5 36.7 300.9 36.4 301.3 36.2 301.7 35.9 302.1 35.8 302.5 35.6 302.9 35.7 303.3 35.7 303.7 35.7 304.1 35.7 304.5 35.9 304.9 36.1 305.3 36.4 305.7 36.9 306.1 38.2 306.5 40.4 306.9 43.4 307.3 46.4 307.7 48.4 308.1 48.6 308.5 47.3 308.9 44.7 309.3 42 309.7 39.3 310.1 37.7 310.5 36.8 310.9 36.8 311.3 37.1 311.7 37.7 312.1 38.3 312.5 39.1 312.9 39.6 313.3 39.8 313.7 39.2 314.1 38.2 314.5 37.4 314.9 36.7 315.3 36.4 315.7 36.3 316.1 36.3 316.5 36.4 316.9 36.2 317.3 36.5 317.7 36.5 318.1 36.6 318.5 36.5 318.9 36.6 319.3 36.6 319.7 36.5 320.1 36.4 320.5 36.5 320.9 36.6 321.3 36.6 321.7 36.5 322.1 36.4 322.5 36.4 322.9 36.5 323.3 36.4 323.7 36.1 324.1 35.9 324.5 35.8 324.9 35.9 325.3 35.9 325.7 35.9 326.1 35.9 326.5 35.8 326.9 36 327.3 36.1 327.7 36.5 328.1 37.5 328.5 39.9 328.9 42.9 329.3 46.1 329.7 48.1 330.1 48.6 330.5 47.2 330.9 44.3 331.3 41.5 331.7 39 332.1 37.4 332.5 36.5 332.9 36.2 333.3 36.2 333.7 36.9 334.1 38 334.5 40.1 334.9 42.4 335.3 44.7 335.7 45.8 336.1 45.5 336.5 43.6 336.9 41.1 337.3 38.9 337.7 37.3 338.1 36.4 338.5 35.9 338.9 35.7 339.3 35.7 339.7 35.7 340.1 35.7 340.5 35.6 340.9 35.6 341.3 36 341.7 36.9 342.1 38.3 342.5 40 342.9 41.7 343.3 42.6 343.7 42.3 344.1 40.7 344.5 38.9 344.9 37.4 345.3 36.6 345.7 36.7 346.1 37.5 346.5 39.6 346.9 41.8 347.3 43.6 347.7 43.6 348.1 42.1 348.5 39.8 348.9 38.1 349.3 37.1 349.7 37 350.1 37.3 350.5 38.2 350.9 39.6 351.3 41.1 351.7 42.3 352.1 42.9 352.5 43.1 352.9 42.7 353.3 42.4 353.7 42 354.1 42.1 354.5 42.3 354.9 42.7 355.3 43 355.7 43.4 356.1 43.8 356.5 44.3 356.9 44.6 357.3 44.9 357.7 45.2 358.1 45.4 358.5 45.7 358.9 45.7 359.3 45.7 359.7 45.6 360.1 45.6 360.5 45.2 360.9 44.6 361.3 43.9 361.7 43 362.1 42.1 362.5 41.2 362.9 40.3" fill="none" stroke="#ff3c3c" stroke-width="1.1" stroke-linejoin="round" />
<path d="M216.1 51.5 216.5 51.3 216.9 51.2 217.3 51.2 217.7 51.5 218.1 51.5 218.5 51.4 218.9 51.3 219.3 51.5 219.7 51.6 220.1 51.5 220.5 51.4 220.9 51.5 221.3 51.6 221.7 51.7 222.1 51.4 222.5 51.5 222.9 51.4 223.3 51.7 223.7 51.7 224.1 51.8 224.5 51.8 224.9 51.7 225.3 51.6 225.7 51.6 226.1 51.5 226.5 51.3 226.9 51.2 227.3 51.2 227.7 51.5 228.1 51.6 228.5 51.6 228.9 51.5 229.3 51.8 229.7 51.6 230.1 51.9 230.5 51.8 230.9 51.8 231.3 51.5 231.7 51.3 232.1 51.4 232.5 51.4 232.9 51.6 233.3 51.5 233.7 51.3 234.1 51 234.5 51 234.9 51.1 235.3 51.4 235.7 51.4 236.1 51.5 236.5 51.4 236.9 51.7 237.3 51.6 237.7 51.7 238.1 51.4 238.5 51.5 238.9 51.5 239.3 51.6 239.7 51.6 240.1 51.5 240.5 51.5 240.9 51.4 241.3 51.5 241.7 51.6 242.1 51.7 242.5 51.7 242.9 51.5 243.3 51.5 243.7 51.6 244.1 51.7 244.5 51.7 244.9 52 245.3 52.3 245.7 52.6 246.1 52.9 246.5 52.9 246.9 53.1 247.3 53.2 247.7 53.5 248.1 53.6 248.5 53.6 248.9 53.6 249.3 53.3 249.7 53.1 250.1 53 250.5 53.3 250.9 53.5 251.3 53.7 251.7 54 252.1 54.4 252.5 54.6 252.9 55 253.3 55.4 253.7 55.7 254.1 55.7 254.5 55.5 254.9 54.9 255.3 54.3 255.7 53.7 256.1 53.5 256.5 53.5 256.9 53.5 257.3 53.4 257.7 53.2 258.1 53.6 258.5 53.5 258.9 53.7 259.3 53.4 259.7 53.1 260.1 52.7 260.5 52.5 260.9 52.8 261.3 53 261.7 53.1 262.1 53.5 262.5 54.2 262.9 54.8 263.3 55.4 263.7 56 264.1 56.8 264.5 57.4 264.9 57.8 265.3 58.2 265.7 58.7 266.1 58.8 266.5 58.8 266.9 58.5 267.3 58.5 267.7 58.5 268.1 58.8 268.5 58.8 268.9 58.9 269.3 59 269.7 58.8 270.1 58.3 270.5 57.6 270.9 56.6 271.3 55.7 271.7 54.6 272.1 53.7 272.5 53 272.9 52.3 273.3 52.1 273.7 51.7 274.1 51.8 274.5 51.5 274.9 51.5 275.3 51.3 275.7 51.5 276.1 51.6 276.5 51.8 276.9 52.2 277.3 53.5 277.7 55.6 278.1 58.4 278.5 60.6 278.9 61.5 279.3 60.6 279.7 58.3 280.1 55.8 280.5 53.7 280.9 52.3 281.3 51.7 281.7 51.5 282.1 51.6 282.5 51.2 282.9 51.1 283.3 51.2 283.7 51.4 284.1 51.5 284.5 51.5 284.9 51.6 285.3 51.5 285.7 51.5 286.1 51.5 286.5 51.5 286.9 51.3 287.3 51.2 287.7 51.3 288.1 51.4 288.5 51.4 288.9 51.4 289.3 51.6 289.7 52.3 290.1 53.2 290.5 54.1 290.9 54.6 291.3 54.4 291.7 54 292.1 54.3 292.5 55.4 292.9 57.5 293.3 59.6 293.7 61.4 294.1 61.7 294.5 60.6 294.9 58.4 295.3 55.8 295.7 53.9 296.1 52.6 296.5 51.9 296.9 51.6 297.3 51.5 297.7 51.7 298.1 51.4 298.5 51.4 298.9 51.3 299.3 51.4 299.7 51.3 300.1 51.3 300.5 51.3 300.9 51.3 301.3 51.4 301.7 51.5 302.1 51.5 302.5 51.6 302.9 51.5 303.3 51.7 303.7 51.5 304.1 51.5 304.5 51.4 304.9 51.7 305.3 52 305.7 52.6 306.1 53.6 306.5 55.2 306.9 57 307.3 58.8 307.7 60.1 308.1 60.5 308.5 59.7 308.9 58.2 309.3 56.1 309.7 54.3 310.1 53.1 310.5 52.5 310.9 51.9 311.3 51.6 311.7 51.5 312.1 51.6 312.5 51.5 312.9 51.4 313.3 51.3 313.7 51.3 314.1 51.3 314.5 51.3 314.9 51.3 315.3 51.4 315.7 51.6 316.1 51.6 316.5 51.5 316.9 51.5 317.3 51.5 317.7 51.7 318.1 51.4 318.5 51.2 318.9 51 319.3 51.2 319.7 51.5 320.1 51.6 320.5 51.5 320.9 51.4 321.3 51.5 321.7 51.7 322.1 51.5 322.5 51.7 322.9 51.6 323.3 51.7 323.7 51.6 324.1 51.5 324.5 51.6 324.9 51.6 325.3 51.6 325.7 51.5 326.1 51.5 326.5 51.4 326.9 51.5 327.3 51.8 327.7 52.2 328.1 53.3 328.5 54.9 328.9 57.3 329.3 59.6 329.7 61.5 330.1 61.9 330.5 61 330.9 58.6 331.3 56.2 331.7 53.9 332.1 52.7 332.5 52.1 332.9 51.9 333.3 52 333.7 52.2 334.1 52.9 334.5 54 334.9 55.4 335.3 56.7 335.7 57.6 336.1 57.4 336.5 56.2 336.9 54.8 337.3 53.5 337.7 52.8 338.1 52.2 338.5 51.8 338.9 51.6 339.3 51.5 339.7 51.5 340.1 51.4 340.5 51.5 340.9 51.7 341.3 52.1 341.7 52.7 342.1 53.8 342.5 55.1 342.9 56.5 343.3 57.3 343.7 57.2 344.1 56.1 344.5 54.5 344.9 53.3 345.3 52.4 345.7 52.5 346.1 53.1 346.5 54.8 346.9 56.8 347.3 58.4 347.7 58.3 348.1 56.9 348.5 54.8 348.9 53.2 349.3 52 349.7 51.9 350.1 51.9 350.5 52.8 350.9 53.6 351.3 54.7 351.7 55.4 352.1 55.8 352.5 55.9 352.9 55.6 353.3 55.5 353.7 55.4 354.1 55.8 354.5 56.2 354.9 56.4 355.3 56.5 355.7 56.6 356.1 57 356.5 57.1 356.9 57.3 357.3 57.3 357.7 57.4 358.1 57.6 358.5 58.1 358.9 58.9 359.3 59.5 359.7 59.8 360.1 60 360.5 59.9 360.9 59.8 361.3 59.6 361.7 59.2 362.1 58.4 362.5 57.6 362.9 56.7" fill="none" stroke="#18938f" stroke-width="1.1" stroke-linejoin="round" />
<path d="M216.1 65.2 216.5 65.1 216.9 65.1 217.3 65.1 217.7 65.1 218.1 65.2 218.5 65.3 218.9 65.4 219.3 65.2 219.7 65.1 220.1 65.1 220.5 65.2 220.9 65.2 221.3 65.2 221.7 65.2 222.1 65.2 222.5 65.2 222.9 65.1 223.3 65.1 223.7 65.1 224.1 65.3 224.5 65.3 224.9 65.2 225.3 65.2 225.7 65.1 226.1 65.2 226.5 65.1 226.9 65.2 227.3 65.3 227.7 65.3 228.1 65.3 228.5 65.2 228.9 65.2 229.3 65.2 229.7 65.1 230.1 65.2 230.5 65.2 230.9 65.2 231.3 65.2 231.7 65.2 232.1 65.3 232.5 65.3 232.9 65.2 233.3 65.2 233.7 65.2 234.1 65.2 234.5 65.1 234.9 65.1 235.3 65.1 235.7 65.1 236.1 65.1 236.5 65.1 236.9 65.1 237.3 65.1 237.7 65.2 238.1 65.3 238.5 65.2 238.9 65.2 239.3 65.2 239.7 65.2 240.1 65.2 240.5 65.2 240.9 65.2 241.3 65.2 241.7 65.2 242.1 65.1 242.5 65.2 242.9 65.2 243.3 65.3 243.7 65.3 244.1 65.3 244.5 65.3 244.9 65.2 245.3 65.2 245.7 65.2 246.1 65.2 246.5 65.2 246.9 65.1 247.3 65.1 247.7 65.1 248.1 65.1 248.5 65.1 248.9 65.1 249.3 65.3 249.7 65.3 250.1 65.3 250.5 65.3 250.9 65.2 251.3 65.2 251.7 65.1 252.1 65 252.5 65 252.9 65.2 253.3 65.3 253.7 65.2 254.1 65.2 254.5 65.2 254.9 65.2 255.3 65.2 255.7 65.1 256.1 65.1 256.5 65.1 256.9 65.2 257.3 65.4 257.7 65.3 258.1 65.3 258.5 65.2 258.9 65.2 259.3 65.2 259.7 65.3 260.1 65.2 260.5 65.3 260.9 65.2 261.3 65.2 261.7 65.3 262.1 65.2 262.5 65.3 262.9 65.1 263.3 65.2 263.7 65.1 264.1 65.1 264.5 65 264.9 65.2 265.3 65.3 265.7 65.4 266.1 65.3 266.5 65.3 266.9 65.3 267.3 65.4 267.7 65.3 268.1 65.3 268.5 65.2 268.9 65.2 269.3 65.1 269.7 65.2 270.1 65.3 270.5 65.3 270.9 65.2 271.3 65.1 271.7 65.1 272.1 65.2 272.5 65.3 272.9 65.3 273.3 65.2 273.7 65.2 274.1 65.1 274.5 65.3 274.9 65.2 275.3 65.2 275.7 65.1 276.1 65.2 276.5 65.2 276.9 65.4 277.3 65.4 277.7 65.3 278.1 65.2 278.5 65.2 278.9 65.3 279.3 65.3 279.7 65.3 280.1 65.2 280.5 65.1 280.9 65.1 281.3 65.1 281.7 65.2 282.1 65.2 282.5 65.1 282.9 65.1 283.3 65.1 283.7 65.1 284.1 65.2 284.5 65.2 284.9 65.2 285.3 65.2 285.7 65.2 286.1 65.1 286.5 65.2 286.9 65.2 287.3 65.3 287.7 65.2 288.1 65.2 288.5 65.2 288.9 65.1 289.3 65.1 289.7 65.1 290.1 65.2 290.5 65.1 290.9 65.2 291.3 65.2 291.7 65.3 292.1 65.3 292.5 65.2 292.9 65.2 293.3 65.1 293.7 65.1 294.1 65.1 294.5 65.2 294.9 65.1 295.3 65.2 295.7 65.2 296.1 65.2 296.5 65.2 296.9 65.2 297.3 65.2 297.7 65.3 298.1 65.3 298.5 65.3 298.9 65.2 299.3 65.3 299.7 65.3 300.1 65.3 300.5 65.3 300.9 65.2 301.3 65.2 301.7 65.2 302.1 65.2 302.5 65.3 302.9 65.3 303.3 65.3 303.7 65.2 304.1 65.2 304.5 65.2 304.9 65.2 305.3 65.2 305.7 65.2 306.1 65.2 306.5 65.3 306.9 65.3 307.3 65.3 307.7 65.2 308.1 65.3 308.5 65.3 308.9 65.3 309.3 65.2 309.7 65.2 310.1 65.1 310.5 65.3 310.9 65.3 311.3 65.4 311.7 65.3 312.1 65.3 312.5 65.2 312.9 65.1 313.3 65.1 313.7 65.2 314.1 65.2 314.5 65.2 314.9 65.2 315.3 65.3 315.7 65.3 316.1 65.3 316.5 65.3 316.9 65.2 317.3 65.2 317.7 65.2 318.1 65.3 318.5 65.2 318.9 65.2 319.3 65.2 319.7 65.2 320.1 65.1 320.5 65 320.9 65.1 321.3 65.1 321.7 65.2 322.1 65.1 322.5 65.2 322.9 65.1 323.3 65.1 323.7 65.2 324.1 65.2 324.5 65.2 324.9 65.3 325.3 65.2 325.7 65.2 326.1 65 326.5 65.1 326.9 65.2 327.3 65.3 327.7 65.3 328.1 65.3 328.5 65.3 328.9 65.3 329.3 65.3 329.7 65.3 330.1 65.3 330.5 65.3 330.9 65.3 331.3 65.3 331.7 65.3 332.1 65.2 332.5 65.1 332.9 65 333.3 65.1 333.7 65.2 334.1 65.2 334.5 65.2 334.9 65.2 335.3 65.2 335.7 65.3 336.1 65.2 336.5 65.2 336.9 65.3 337.3 65.4 337.7 65.4 338.1 65.3 338.5 65.3 338.9 65.5 339.3 65.7 339.7 65.9 340.1 66 340.5 66.4 340.9 67.2 341.3 68 341.7 68.8 342.1 69.7 342.5 71 342.9 72.2 343.3 73.2 343.7 73.9 344.1 74 344.5 73.8 344.9 73.1 345.3 72.3 345.7 71.5 346.1 71.2 346.5 71.4 346.9 72.3 347.3 73.4 347.7 74.2 348.1 74.5 348.5 74 348.9 73.2 349.3 72.1 349.7 71.4 350.1 71 350.5 70.9 350.9 71.2 351.3 71.5 351.7 72 352.1 72.4 352.5 72.8 352.9 73.1 353.3 73.4 353.7 73.8 354.1 73.9 354.5 74.1 354.9 74.3 355.3 74.6 355.7 74.7 356.1 74.9 356.5 74.9 356.9 75 357.3 75 357.7 75.2 358.1 75.4 358.5 75.6 358.9 75.9 359.3 76.2 359.7 76.5 360.1 76.9 360.5 77 360.9 77.1 361.3 77.1 361.7 77 362.1 76.7 362.5 76.5 362.9 76.1" fill="none" stroke="#555555" stroke-width="1" stroke-linejoin="round" />
<path d="M216.1 77.3 216.5 77.2 216.9 77.2 217.3 77 217.7 77 218.1 77 218.5 77.2 218.9 77.2 219.3 77.2 219.7 77.2 220.1 77.3 220.5 77.3 220.9 77.4 221.3 77.4 221.7 77.4 222.1 77.3 222.5 77.2 222.9 77.3 223.3 77.3 223.7 77.4 224.1 77.4 224.5 77.3 224.9 77.2 225.3 77.3 225.7 77.3 226.1 77.3 226.5 77.3 226.9 77.4 227.3 77.4 227.7 77.3 228.1 77.2 228.5 77.2 228.9 77.2 229.3 77.3 229.7 77.4 230.1 77.4 230.5 77.4 230.9 77.3 231.3 77.4 231.7 77.3 232.1 77.4 232.5 77.3 232.9 77.4 233.3 77.4 233.7 77.3 234.1 77.3 234.5 77.3 234.9 77.4 235.3 77.5 235.7 77.5 236.1 77.5 236.5 77.4 236.9 77.4 237.3 77.3 237.7 77.4 238.1 77.3 238.5 77.4 238.9 77.4 239.3 77.4 239.7 77.4 240.1 77.4 240.5 77.3 240.9 77.5 241.3 77.5 241.7 77.6 242.1 77.5 242.5 77.5 242.9 77.5 243.3 77.5 243.7 77.4 244.1 77.4 244.5 77.4 244.9 77.3 245.3 77.3 245.7 77.4 246.1 77.6 246.5 77.5 246.9 77.5 247.3 77.5 247.7 77.5 248.1 77.5 248.5 77.5 248.9 77.5 249.3 77.5 249.7 77.5 250.1 77.5 250.5 77.5 250.9 77.6 251.3 77.7 251.7 77.8 252.1 77.7 252.5 77.7 252.9 77.9 253.3 78 253.7 78.2 254.1 78.3 254.5 78.3 254.9 78.4 255.3 78.3 255.7 78.3 256.1 78.2 256.5 78.1 256.9 78 257.3 77.9 257.7 77.8 258.1 77.7 258.5 77.6 258.9 77.6 259.3 77.6 259.7 77.5 260.1 77.5 260.5 77.5 260.9 77.6 261.3 77.7 261.7 77.7 262.1 77.7 262.5 77.7 262.9 77.6 263.3 77.6 263.7 77.7 264.1 77.8 264.5 77.8 264.9 77.7 265.3 77.8 265.7 77.8 266.1 77.9 266.5 78 266.9 78.3 267.3 78.5 267.7 78.6 268.1 78.7 268.5 78.8 268.9 78.7 269.3 78.7 269.7 78.4 270.1 78.3 270.5 78.2 270.9 78 271.3 77.9 271.7 77.8 272.1 77.8 272.5 77.7 272.9 77.7 273.3 77.7 273.7 77.7 274.1 77.8 274.5 77.8 274.9 77.9 275.3 77.9 275.7 77.9 276.1 77.9 276.5 77.8 276.9 77.8 277.3 77.8 277.7 77.8 278.1 77.9 278.5 78 278.9 78 279.3 77.9 279.7 77.9 280.1 77.9 280.5 77.9 280.9 77.9 281.3 78 281.7 78 282.1 77.9 282.5 77.8 282.9 77.8 283.3 77.9 283.7 77.8 284.1 77.7 284.5 77.7 284.9 77.7 285.3 77.9 285.7 77.9 286.1 77.9 286.5 77.8 286.9 77.9 287.3 77.9 287.7 78 288.1 78 288.5 77.9 288.9 77.9 289.3 77.9 289.7 77.9 290.1 77.9 290.5 77.9 290.9 77.9 291.3 77.8 291.7 77.9 292.1 78 292.5 78.1 292.9 78.1 293.3 78.1 293.7 78 294.1 78 294.5 77.9 294.9 78.1 295.3 78 295.7 78 296.1 77.9 296.5 78 296.9 78 297.3 78.1 297.7 78 298.1 78.1 298.5 78 298.9 78 299.3 78 299.7 78 300.1 78 300.5 78.1 300.9 78 301.3 78 301.7 78 302.1 78.2 302.5 78.2 302.9 78.1 303.3 78 303.7 77.9 304.1 78 304.5 78.1 304.9 78.2 305.3 78.2 305.7 78.2 306.1 78.2 306.5 78.2 306.9 78.2 307.3 78.2 307.7 78.1 308.1 78.2 308.5 78.2 308.9 78.3 309.3 78.2 309.7 78.2 310.1 78.3 310.5 78.4 310.9 78.3 311.3 78.3 311.7 78.2 312.1 78.1 312.5 78 312.9 78.1 313.3 78.1 313.7 78.1 314.1 78.1 314.5 78.2 314.9 78.2 315.3 78.3 315.7 78.3 316.1 78.2 316.5 78.2 316.9 78.3 317.3 78.3 317.7 78.3 318.1 78.3 318.5 78.3 318.9 78.3 319.3 78.2 319.7 78.2 320.1 78.3 320.5 78.4 320.9 78.2 321.3 78.2 321.7 78.1 322.1 78.2 322.5 78.3 322.9 78.3 323.3 78.3 323.7 78.3 324.1 78.3 324.5 78.3 324.9 78.4 325.3 78.3 325.7 78.2 326.1 78.2 326.5 78.3 326.9 78.3 327.3 78.3 327.7 78.3 328.1 78.4 328.5 78.4 328.9 78.4 329.3 78.4 329.7 78.4 330.1 78.4 330.5 78.4 330.9 78.3 331.3 78.3 331.7 78.2 332.1 78.3 332.5 78.4 332.9 78.4 333.3 78.3 333.7 78.2 334.1 78.3 334.5 78.3 334.9 78.4 335.3 78.4 335.7 78.4 336.1 78.4 336.5 78.2 336.9 78.1 337.3 77.8 337.7 77.5 338.1 77.1 338.5 76.9 338.9 76.6 339.3 76.5 339.7 76.5 340.1 76.8 340.5 77.2 340.9 77.8 341.3 78.4 341.7 79.1 342.1 79.6 342.5 80.3 342.9 80.9 343.3 81.7 343.7 82.7 344.1 83.6 344.5 84.6 344.9 85.5 345.3 86.3 345.7 87.2 346.1 87.8 346.5 88.4 346.9 88.8 347.3 89.2 347.7 89.5 348.1 89.8 348.5 89.9 348.9 90.2 349.3 90.2 349.7 90.4 350.1 90.4 350.5 90.5 350.9 90.6 351.3 90.6 351.7 90.5 352.1 90.6 352.5 90.5 352.9 90.5 353.3 90.5 353.7 90.5 354.1 90.5 354.5 90.4 354.9 90.3 355.3 90.3 355.7 90.4 356.1 90.3 356.5 90.2 356.9 89.9 357.3 89.6 357.7 89.4 358.1 89 358.5 88.7 358.9 88.2 359.3 87.8 359.7 87.1 360.1 86.6 360.5 86.1 360.9 85.7 361.3 85.4 361.7 85.1 362.1 84.9 362.5 84.7 362.9 84.5" fill="none" stroke="#ff3c3c" stroke-width="1.2" stroke-linejoin="round" />
<path d="M216.1 92.2 216.5 92.3 216.9 92.3 217.3 92.3 217.7 92.2 218.1 92.1 218.5 92.2 218.9 92.3 219.3 92.4 219.7 92.3 220.1 92.3 220.5 92.3 220.9 92.2 221.3 92.2 221.7 92.2 222.1 92.2 222.5 92.2 222.9 92.3 223.3 92.3 223.7 92.3 224.1 92.2 224.5 92.2 224.9 92.1 225.3 92.2 225.7 92.2 226.1 92.2 226.5 92.1 226.9 92.1 227.3 92.2 227.7 92.2 228.1 92.2 228.5 92.2 228.9 92.2 229.3 92.2 229.7 92.2 230.1 92.2 230.5 92 230.9 92 231.3 92.1 231.7 92.3 232.1 92.3 232.5 92.2 232.9 92.2 233.3 92.2 233.7 92.4 234.1 92.4 234.5 92.4 234.9 92.3 235.3 92.2 235.7 92.2 236.1 92.1 236.5 92.2 236.9 92.2 237.3 92.3 237.7 92.2 238.1 92.3 238.5 92.2 238.9 92.2 239.3 92.2 239.7 92.3 240.1 92.2 240.5 92.2 240.9 92.1 241.3 92.1 241.7 92.1 242.1 92.3 242.5 92.2 242.9 92.2 243.3 92.2 243.7 92.2 244.1 92.3 244.5 92.3 244.9 92.2 245.3 92.2 245.7 92.2 246.1 92.2 246.5 92.1 246.9 92.1 247.3 92.2 247.7 92.2 248.1 92.2 248.5 92.2 248.9 92.1 249.3 92.1 249.7 92.2 250.1 92.2 250.5 92.1 250.9 92.1 251.3 92.1 251.7 92.3 252.1 92.4 252.5 92.3 252.9 92.1 253.3 92.1 253.7 92.2 254.1 92.4 254.5 92.4 254.9 92.4 255.3 92.5 255.7 92.4 256.1 92.5 256.5 92.4 256.9 92.4 257.3 92.5 257.7 92.7 258.1 92.8 258.5 92.8 258.9 92.9 259.3 92.9 259.7 93 260.1 93 260.5 93.1 260.9 93.1 261.3 93.2 261.7 93.2 262.1 93.4 262.5 93.4 262.9 93.4 263.3 93.3 263.7 93.4 264.1 93.5 264.5 93.6 264.9 93.5 265.3 93.4 265.7 93.4 266.1 93.5 266.5 93.5 266.9 93.5 267.3 93.4 267.7 93.3 268.1 93.3 268.5 93.2 268.9 93.2 269.3 93.1 269.7 93.1 270.1 92.9 270.5 92.9 270.9 92.8 271.3 92.8 271.7 92.7 272.1 92.7 272.5 92.7 272.9 92.5 273.3 92.5 273.7 92.5 274.1 92.5 274.5 92.4 274.9 92.4 275.3 92.3 275.7 92.3 276.1 92.2 276.5 92.3 276.9 92.2 277.3 92.4 277.7 92.3 278.1 92.4 278.5 92.2 278.9 92.1 279.3 92.1 279.7 92.2 280.1 92.3 280.5 92.2 280.9 92.3 281.3 92.2 281.7 92.2 282.1 92.2 282.5 92.3 282.9 92.2 283.3 92.1 283.7 92.1 284.1 92.2 284.5 92.3 284.9 92.2 285.3 92.2 285.7 92.2 286.1 92.2 286.5 92.1 286.9 92.2 287.3 92.2 287.7 92.3 288.1 92.2 288.5 92.2 288.9 92.2 289.3 92.2 289.7 92.2 290.1 92.1 290.5 92 290.9 92.1 291.3 92.2 291.7 92.1 292.1 92.1 292.5 92.2 292.9 92.3 293.3 92.3 293.7 92.2 294.1 92.2 294.5 92.1 294.9 92.2 295.3 92.3 295.7 92.4 296.1 92.3 296.5 92.2 296.9 92.1 297.3 92.2 297.7 92.2 298.1 92.3 298.5 92.3 298.9 92.3 299.3 92.2 299.7 92.2 300.1 92.2 300.5 92.2 300.9 92.4 301.3 92.3 301.7 92.2 302.1 92.2 302.5 92.1 302.9 92.2 303.3 92.3 303.7 92.3 304.1 92.3 304.5 92.2 304.9 92.2 305.3 92.1 305.7 92.2 306.1 92.2 306.5 92.3 306.9 92.2 307.3 92.1 307.7 92 308.1 92.1 308.5 92.2 308.9 92.3 309.3 92.3 309.7 92.3 310.1 92.3 310.5 92.1 310.9 92.2 311.3 92.1 311.7 92.2 312.1 92 312.5 92.1 312.9 92.2 313.3 92.3 313.7 92.3 314.1 92.3 314.5 92.2 314.9 92 315.3 92 315.7 92.1 316.1 92.1 316.5 92.3 316.9 92.4 317.3 92.4 317.7 92.3 318.1 92.2 318.5 92.2 318.9 92.2 319.3 92.3 319.7 92.2 320.1 92.3 320.5 92.2 320.9 92.3 321.3 92.2 321.7 92.2 322.1 92.1 322.5 92.2 322.9 92.2 323.3 92.4 323.7 92.4 324.1 92.4 324.5 92.2 324.9 92.1 325.3 92.2 325.7 92.2 326.1 92.2 326.5 92.2 326.9 92.2 327.3 92.2 327.7 92.1 328.1 92.2 328.5 92.3 328.9 92.3 329.3 92.3 329.7 92.3 330.1 92.3 330.5 92.2 330.9 92.2 331.3 92.2 331.7 92.3 332.1 92.2 332.5 92.2 332.9 92.2 333.3 92.1 333.7 92.1 334.1 92.2 334.5 92.2 334.9 92.1 335.3 92.1 335.7 92.2 336.1 92.3 336.5 92.3 336.9 92.2 337.3 92.2 337.7 92.2 338.1 92.2 338.5 92.2 338.9 92.3 339.3 92.2 339.7 92.3 340.1 92.2 340.5 92.2 340.9 92.2 341.3 92.4 341.7 92.4 342.1 92.6 342.5 93.1 342.9 93.8 343.3 94.5 343.7 95 344.1 95.1 344.5 94.7 344.9 94 345.3 93.4 345.7 93.1 346.1 93.1 346.5 93.4 346.9 93.8 347.3 94.4 347.7 94.8 348.1 94.8 348.5 94.2 348.9 93.5 349.3 92.9 349.7 92.5 350.1 92.2 350.5 92 350.9 91.7 351.3 91.7 351.7 91.5 352.1 91.6 352.5 91.6 352.9 92 353.3 92.2 353.7 92.4 354.1 92.6 354.5 92.8 354.9 93.1 355.3 93.4 355.7 93.7 356.1 94 356.5 94.3 356.9 94.7 357.3 95.1 357.7 95.4 358.1 95.6 358.5 95.9 358.9 96 359.3 96.2 359.7 96.4 360.1 96.6 360.5 96.7 360.9 96.8 361.3 96.8 361.7 96.9 362.1 96.8 362.5 96.9 362.9 97" fill="none" stroke="#2464cc" stroke-width="1.2" stroke-linejoin="round" />
<line x1="343.4" y1="38" x2="343.4" y2="103" stroke="#666" stroke-width="0.8" stroke-dasharray="1.6 1.4"/>
<line x1="347.5" y1="38" x2="347.5" y2="103" stroke="#666" stroke-width="0.8" stroke-dasharray="1.6 1.4"/>
<line x1="350.4" y1="38" x2="350.4" y2="103" stroke="#666" stroke-width="0.8" stroke-dasharray="1.6 1.4"/>
<line x1="360.2" y1="38" x2="360.2" y2="103" stroke="#666" stroke-width="0.8" stroke-dasharray="1.6 1.4"/>
<text font-size="6.8" text-anchor="start" fill="#161616" stroke="#161616" stroke-width="0.28" font-weight="bold" transform="translate(216.6 18.24) scale(1 1)">ZIF-8</text>
<text font-size="6.8" text-anchor="start" fill="#161616" stroke="#161616" stroke-width="0.28" font-weight="bold" transform="translate(216.6 32.74) scale(1 1)">ZPNiIn</text>
<text font-size="6.8" text-anchor="start" fill="#161616" stroke="#161616" stroke-width="0.28" font-weight="bold" transform="translate(216.6 47.34) scale(1 1)">ZNiIn</text>
<text font-size="6.8" text-anchor="start" fill="#161616" stroke="#161616" stroke-width="0.28" font-weight="bold" transform="translate(218 60.04) scale(1 1)">NiIn</text>
<text font-size="6.8" text-anchor="start" fill="#161616" stroke="#161616" stroke-width="0.28" font-weight="bold" transform="translate(217 74.44) scale(1 1)">NiO</text>
<text font-size="6.8" text-anchor="start" fill="#161616" stroke="#161616" stroke-width="0.28" font-weight="bold" transform="translate(216.6 88.64) scale(1 1)">In<tspan font-size="4.62" baseline-shift="-1.36">2</tspan>O<tspan font-size="4.62" baseline-shift="-1.36">3</tspan></text>
<text font-size="6" text-anchor="middle" fill="#222" font-weight="bold" transform="translate(328.2 85) scale(1 1) rotate(-90)">664</text>
<text font-size="6" text-anchor="middle" fill="#222" font-weight="bold" transform="translate(322.8 104.5) scale(1 1) rotate(-90)">602</text>
<text font-size="6" text-anchor="middle" fill="#222" font-weight="bold" transform="translate(333 104.5) scale(1 1) rotate(-90)">565</text>
<text font-size="6" text-anchor="middle" fill="#222" font-weight="bold" transform="translate(343.2 104.5) scale(1 1) rotate(-90)">538</text>
<text font-size="6" text-anchor="middle" fill="#222" font-weight="bold" transform="translate(354.9 104.5) scale(1 1) rotate(-90)">428</text>
<line x1="329" y1="84" x2="339.5" y2="79" stroke="#111" stroke-width="0.6" />
<polygon points="339.5,79 338.07,80.67 337.3,79.05" fill="#111"/>
<line x1="322" y1="99.5" x2="343.5" y2="94.5" stroke="#111" stroke-width="0.6" />
<polygon points="343.5,94.5 341.75,95.83 341.34,94.08" fill="#111"/>
<line x1="332.5" y1="99.5" x2="347" y2="95" stroke="#111" stroke-width="0.6" />
<polygon points="347,95 345.35,96.45 344.82,94.74" fill="#111"/>
<line x1="342.5" y1="99.5" x2="351.5" y2="93.5" stroke="#111" stroke-width="0.6" />
<polygon points="351.5,93.5 350.33,95.36 349.33,93.87" fill="#111"/>
<line x1="354.5" y1="99" x2="361.5" y2="96" stroke="#111" stroke-width="0.6" />
<polygon points="361.5,96 360.01,97.62 359.3,95.97" fill="#111"/>
<rect x="215.5" y="9.5" width="148" height="104" fill="none" stroke="#363636" stroke-width="1.15"/>
<line x1="214.8" y1="113.5" x2="214.8" y2="115.5" stroke="#363636" stroke-width="0.9" />
<line x1="261.1" y1="113.5" x2="261.1" y2="115.5" stroke="#363636" stroke-width="0.9" />
<line x1="307.4" y1="113.5" x2="307.4" y2="115.5" stroke="#363636" stroke-width="0.9" />
<line x1="353.7" y1="113.5" x2="353.7" y2="115.5" stroke="#363636" stroke-width="0.9" />
<line x1="237.95" y1="113.5" x2="237.95" y2="114.7" stroke="#363636" stroke-width="0.8" />
<line x1="284.25" y1="113.5" x2="284.25" y2="114.7" stroke="#363636" stroke-width="0.8" />
<line x1="330.55" y1="113.5" x2="330.55" y2="114.7" stroke="#363636" stroke-width="0.8" />
<text font-size="7" text-anchor="middle" fill="#161616" stroke="#161616" stroke-width="0.28" font-weight="bold" transform="translate(214.8 122.21) scale(1 1)">2000</text>
<text font-size="7" text-anchor="middle" fill="#161616" stroke="#161616" stroke-width="0.28" font-weight="bold" transform="translate(261.1 122.21) scale(1 1)">1500</text>
<text font-size="7" text-anchor="middle" fill="#161616" stroke="#161616" stroke-width="0.28" font-weight="bold" transform="translate(307.4 122.21) scale(1 1)">1000</text>
<text font-size="7" text-anchor="middle" fill="#161616" stroke="#161616" stroke-width="0.28" font-weight="bold" transform="translate(353.7 122.21) scale(1 1)">500</text>
<text font-size="9.2" text-anchor="middle" fill="#161616" stroke="#161616" stroke-width="0.28" font-weight="bold" transform="translate(289 134.7) scale(1 1)">Wavenumber / cm<tspan font-size="6.26" baseline-shift="3.5">-1</tspan></text>
<text font-size="8.9" text-anchor="middle" fill="#161616" stroke="#161616" stroke-width="0.28" font-weight="bold" transform="translate(208 60.4) rotate(-90)">Transmitance / %</text>
<path d="M394.1 37 394.6 36.7 395.1 35.8 395.6 34.3 396.1 33.7 396.6 35.3 397.1 37.5 397.6 38.8 398.1 39.4 398.6 39.5 399.1 39.2 399.6 39.7 400.1 40.1 400.6 39.9 401.1 39.2 401.6 38.8 402.1 38 402.6 37.1 403.1 37 403.6 36.6 404.1 35.8 404.6 35.7 405.1 36.5 405.6 36.7 406.1 36.3 406.6 36.3 407.1 36.9 407.6 36.8 408.1 36.3 408.6 36.6 409.1 36.3 409.6 35.9 410.1 35.3 410.6 35.3 411.1 36.3 411.6 36.1 412.1 35.9 412.6 35.8 413.1 35.3 413.6 34.7 414.1 34.2 414.6 34.2 415.1 34.3 415.6 33.6 416.1 32.5 416.6 32.5 417.1 32.5 417.6 32.3 418.1 32.5 418.6 31.8 419.1 31.4 419.6 31.3 420.1 30.4 420.6 29.3 421.1 29.2 421.6 29.8 422.1 29.1 422.6 28.3 423.1 27.6 423.6 26.4 424.1 25.9 424.6 25.7 425.1 25.1 425.6 24.9 426.1 24.9 426.6 25 427.1 25.3 427.6 24.8 428.1 24.5 428.6 24.3 429.1 23.9 429.6 24 430.1 23.9 430.6 23.9 431.1 24 431.6 23.8 432.1 23.9 432.6 24.8 433.1 25.3 433.6 25 434.1 25.3 434.6 25.5 435.1 25.7 435.6 26.2 436.1 26.2 436.6 26.7 437.1 27.8 437.6 28.3 438.1 28.6 438.6 29.3 439.1 29.5 439.6 30 440.1 30.9 440.6 31.1 441.1 31.7 441.6 31.8 442.1 31.8 442.6 32.4 443.1 32.4 443.6 32.7 444.1 33.4 444.6 33.9 445.1 34.2 445.6 34.2 446.1 34.2 446.6 34.6 447.1 34.6 447.6 34.8 448.1 34.6 448.6 34.4 449.1 35 449.6 35.4 450.1 35.8 450.6 35.9 451.1 36.2 451.6 36 452.1 36 452.6 36.1 453.1 35.3 453.6 35.3 454.1 35.4 454.6 35.5 455.1 35.5 455.6 35.7 456.1 36 456.6 35.5 457.1 35.6 457.6 35.9 458.1 35.5 458.6 35.6 459.1 35.5 459.6 35.6 460.1 35.2 460.6 35.1 461.1 35.2 461.6 35 462.1 35 462.6 35.1 463.1 35.3 463.6 35 464.1 34.5 464.6 33.8 465.1 34.1 465.6 34.9 466.1 34.8 466.6 33.9 467.1 34.2 467.6 34.4 468.1 34.1 468.6 33.9 469.1 33.4 469.6 33.7 470.1 33.1 470.6 32.6 471.1 33.2 471.6 33.3 472.1 32.8 472.6 33.2 473.1 33.5 473.6 33.1 474.1 32.5 474.6 32.5 475.1 33.1 475.6 33.3 476.1 33.2 476.6 32.9 477.1 32.6 477.6 32.6 478.1 32.8 478.6 32.6 479.1 32.3 479.6 32.4 480.1 32.3 480.6 32.2 481.1 32.2 481.6 31.8 482.1 32.1 482.6 32.5 483.1 31.7 483.6 31.2 484.1 31.2 484.6 31.3 485.1 31.1 485.6 31.2 486.1 31.3 486.6 30.9 487.1 31.4 487.6 31.5 488.1 31.1 488.6 30.7 489.1 30.2 489.6 30.2 490.1 30.7 490.6 31.2 491.1 30.8 491.6 30.4 492.1 30.5 492.6 30.3 493.1 30 493.6 30.5 494.1 30.2 494.6 30 495.1 30.2 495.6 30 496.1 29.9 496.6 30 497.1 30.2 497.6 30.1 498.1 29.3 498.6 29.1 499.1 29.8 499.6 29.4 500.1 28.6 500.6 28.7 501.1 29.3 501.6 29 502.1 28.8 502.6 29 503.1 28.8 503.6 28.9 504.1 28.8 504.6 28.4 505.1 28.5 505.6 29 506.1 29 506.6 28.7 507.1 28.2 507.6 27.8 508.1 27.6 508.6 28 509.1 28.5 509.6 28.3 510.1 28.2 510.6 27.9 511.1 27.5 511.6 27.9 512.1 27.8 512.6 27.7 513.1 28.2 513.6 27.5 514.1 26.7 514.6 27.5 515.1 27.9 515.6 27.8 516.1 27.9 516.6 27.3 517.1 27.3 517.6 27.7 518.1 27.4 518.6 27 519.1 26.6 519.6 26.2 520.1 25.8 520.6 25.7 521.1 25.8 521.6 26.1 522.1 26 522.6 25.4 523.1 25.6 523.6 25.4 524.1 25.2 524.6 25.9 525.1 25.5 525.6 24.9 526.1 25.2 526.6 25.9 527.1 25.8 527.6 25.2 528.1 25.2 528.6 24.8 529.1 24.2 529.6 24.8 530.1 25.4 530.6 25.3 531.1 25 531.6 24.9 532.1 24.3 532.6 23.8 533.1 24.1 533.6 24.6 534.1 24.7 534.6 24.4 535.1 24 535.6 23.9 536.1 24.3 536.6 24.3 537.1 24.1 537.6 24.4 538.1 24.1 538.6 23.7 539.1 23.6 539.6 22.9" fill="none" stroke="#ff3c3c" stroke-width="1.1" stroke-linejoin="round" />
<path d="M394.1 50.2 394.6 50 395.1 48.9 395.6 47.9 396.1 48.4 396.6 49.6 397.1 50.7 397.6 52.1 398.1 52.6 398.6 53.1 399.1 53.2 399.6 52.6 400.1 53 400.6 53 401.1 52.6 401.6 52.3 402.1 52.3 402.6 52.5 403.1 51.4 403.6 49.1 404.1 48.7 404.6 50.4 405.1 51.8 405.6 52 406.1 51.7 406.6 51.9 407.1 52 407.6 51.5 408.1 51.3 408.6 51.3 409.1 51.3 409.6 51 410.1 50.5 410.6 49.9 411.1 49.7 411.6 49.5 412.1 49.3 412.6 49 413.1 48.5 413.6 48.2 414.1 48 414.6 47.6 415.1 46.9 415.6 46.4 416.1 45.8 416.6 45.3 417.1 44.9 417.6 44.1 418.1 43.2 418.6 42.6 419.1 42.1 419.6 41.6 420.1 40.4 420.6 39.6 421.1 39 421.6 38.3 422.1 37.9 422.6 37.6 423.1 36.7 423.6 36 424.1 35.2 424.6 34.6 425.1 34.3 425.6 33.9 426.1 34 426.6 33.8 427.1 34.1 427.6 34.3 428.1 34.3 428.6 34.7 429.1 35.2 429.6 36 430.1 36.6 430.6 36.9 431.1 37.3 431.6 38.4 432.1 39.6 432.6 40.4 433.1 41.1 433.6 42 434.1 43.2 434.6 44.3 435.1 45 435.6 45.5 436.1 46.8 436.6 47.4 437.1 47.9 437.6 48.6 438.1 49.3 438.6 50.2 439.1 51 439.6 51.2 440.1 52.3 440.6 52.9 441.1 53.1 441.6 53.7 442.1 54 442.6 54.5 443.1 54.9 443.6 55.3 444.1 55.7 444.6 55.7 445.1 55.3 445.6 55.3 446.1 55.3 446.6 56 447.1 56.2 447.6 55.9 448.1 56.5 448.6 56.9 449.1 57 449.6 56.6 450.1 56.4 450.6 56.7 451.1 57.1 451.6 57.4 452.1 57.6 452.6 57.9 453.1 58.6 453.6 58.3 454.1 57.7 454.6 58.1 455.1 58 455.6 57.6 456.1 57.8 456.6 58.3 457.1 58.3 457.6 58 458.1 57.4 458.6 57.4 459.1 58.2 459.6 58.7 460.1 58.2 460.6 58.1 461.1 58.6 461.6 58.9 462.1 58.4 462.6 58.1 463.1 58.4 463.6 58.2 464.1 58.6 464.6 58.5 465.1 58.3 465.6 58.9 466.1 58.9 466.6 58.9 467.1 58.3 467.6 58.2 468.1 58.8 468.6 58.8 469.1 58.5 469.6 58.4 470.1 58.5 470.6 58.8 471.1 58.8 471.6 58.5 472.1 58.5 472.6 58.5 473.1 58.8 473.6 59.1 474.1 58.8 474.6 58.3 475.1 58.1 475.6 57.7 476.1 57.7 476.6 58.1 477.1 57.9 477.6 57.6 478.1 57.8 478.6 58 479.1 57.7 479.6 57.8 480.1 57.7 480.6 57.7 481.1 57.5 481.6 57.1 482.1 57 482.6 57.1 483.1 57.1 483.6 57 484.1 57.1 484.6 56.8 485.1 57.3 485.6 57.7 486.1 57.2 486.6 57.2 487.1 57.4 487.6 57.2 488.1 57.6 488.6 58 489.1 57.8 489.6 57.8 490.1 58 490.6 58.1 491.1 58.2 491.6 58.2 492.1 58.3 492.6 58 493.1 58.1 493.6 58.8 494.1 59.3 494.6 59.2 495.1 58.8 495.6 59.1 496.1 59.2 496.6 58.8 497.1 58.8 497.6 58.6 498.1 59.4 498.6 59.9 499.1 59 499.6 58.9 500.1 59.2 500.6 59.6 501.1 59.8 501.6 59.5 502.1 59.8 502.6 60.4 503.1 60.1 503.6 59.8 504.1 59.8 504.6 60 505.1 60.3 505.6 60.1 506.1 59.9 506.6 60.2 507.1 60.4 507.6 60.3 508.1 60.7 508.6 60.2 509.1 59.9 509.6 60.2 510.1 60.1 510.6 60 511.1 60.3 511.6 60 512.1 59.9 512.6 60.3 513.1 60.3 513.6 60.1 514.1 59.9 514.6 60.1 515.1 60.4 515.6 60.4 516.1 60.7 516.6 60.7 517.1 60.4 517.6 60.7 518.1 61 518.6 60.9 519.1 61 519.6 60.7 520.1 60.2 520.6 60.7 521.1 60.5 521.6 60.1 522.1 60.8 522.6 60.8 523.1 60.7 523.6 60.6 524.1 61 524.6 61.2 525.1 60.9 525.6 60.6 526.1 60.6 526.6 61.1 527.1 60.8 527.6 60.8 528.1 60.9 528.6 60.9 529.1 60.8 529.6 60.6 530.1 60.5 530.6 60.7 531.1 60.9 531.6 60.7 532.1 61.1 532.6 61.3 533.1 60.9 533.6 60.8 534.1 61 534.6 61.2 535.1 60.9 535.6 60.8 536.1 61.1 536.6 61.2 537.1 61.4 537.6 61.6 538.1 61.8 538.6 61.5 539.1 61 539.6 61.1" fill="none" stroke="#18938f" stroke-width="1.1" stroke-linejoin="round" />
<path d="M394.1 63.4 394.6 63.1 395.1 61.8 395.6 60.1 396.1 59.5 396.6 61.2 397.1 63.7 397.6 65.1 398.1 65.6 398.6 65.8 399.1 66 399.6 66.1 400.1 66 400.6 66.1 401.1 66.3 401.6 66.5 402.1 66.2 402.6 65.9 403.1 65.4 403.6 64.3 404.1 63.7 404.6 64.5 405.1 65.5 405.6 65.8 406.1 65.7 406.6 65.8 407.1 65.7 407.6 65.4 408.1 65.3 408.6 65.1 409.1 64.9 409.6 64.8 410.1 64.7 410.6 64.3 411.1 64.3 411.6 64.3 412.1 63.8 412.6 63.6 413.1 63.4 413.6 63.2 414.1 62.9 414.6 62.5 415.1 62.1 415.6 61.6 416.1 61.5 416.6 61.3 417.1 61.1 417.6 60.7 418.1 60.1 418.6 59.7 419.1 59.5 419.6 59.3 420.1 58.5 420.6 58.3 421.1 58.1 421.6 58.1 422.1 58.1 422.6 57.5 423.1 57.2 423.6 57.3 424.1 57.1 424.6 56.9 425.1 56.9 425.6 56.9 426.1 57.1 426.6 57.3 427.1 57.5 427.6 57.8 428.1 58 428.6 58.7 429.1 59.2 429.6 59.4 430.1 60.2 430.6 60.6 431.1 60.7 431.6 61 432.1 61.5 432.6 62.4 433.1 63 433.6 63.2 434.1 64 434.6 64.8 435.1 65.7 435.6 66 436.1 66.5 436.6 66.9 437.1 67.5 437.6 68.4 438.1 68.6 438.6 69.2 439.1 69.8 439.6 70.1 440.1 70.5 440.6 70.9 441.1 71.3 441.6 71.3 442.1 71.3 442.6 71.6 443.1 72 443.6 72.4 444.1 72.5 444.6 72.6 445.1 72.6 445.6 72.8 446.1 73.1 446.6 73.3 447.1 73.5 447.6 73.8 448.1 73.6 448.6 73.8 449.1 74.1 449.6 73.9 450.1 73.8 450.6 73.9 451.1 73.8 451.6 73.7 452.1 73.8 452.6 73.9 453.1 73.6 453.6 73.8 454.1 73.9 454.6 73.9 455.1 74.2 455.6 74.1 456.1 74.3 456.6 74.3 457.1 74.1 457.6 74.3 458.1 74.5 458.6 74.4 459.1 74.3 459.6 74.4 460.1 74.5 460.6 74.7 461.1 74.8 461.6 74.8 462.1 74.6 462.6 74.8 463.1 75.3 463.6 75.4 464.1 75 464.6 74.9 465.1 75 465.6 74.9 466.1 74.9 466.6 74.9 467.1 74.7 467.6 74.9 468.1 75 468.6 74.9 469.1 75 469.6 75.1 470.1 75.1 470.6 75.1 471.1 75.1 471.6 75.1 472.1 75.2 472.6 75.4 473.1 75.4 473.6 75.1 474.1 75.1 474.6 75.3 475.1 75.1 475.6 74.9 476.1 74.6 476.6 74.9 477.1 75.2 477.6 75.2 478.1 74.9 478.6 74.4 479.1 74.6 479.6 74.8 480.1 74.8 480.6 74.8 481.1 74.9 481.6 74.9 482.1 74.8 482.6 74.9 483.1 74.9 483.6 74.8 484.1 75.1 484.6 75.1 485.1 75 485.6 75.1 486.1 75.2 486.6 75.2 487.1 75.5 487.6 75.7 488.1 75.3 488.6 74.9 489.1 75 489.6 75.1 490.1 74.9 490.6 75.2 491.1 75.5 491.6 75.8 492.1 76.1 492.6 76.4 493.1 76.4 493.6 76.1 494.1 76.3 494.6 76.6 495.1 76.7 495.6 76.5 496.1 76.2 496.6 76.5 497.1 77 497.6 77.1 498.1 77.5 498.6 77.6 499.1 77.5 499.6 77.4 500.1 77.3 500.6 77.3 501.1 77.5 501.6 77.6 502.1 77.6 502.6 77.5 503.1 77.5 503.6 77.9 504.1 78 504.6 77.7 505.1 77.7 505.6 77.7 506.1 77.9 506.6 78.3 507.1 78.2 507.6 78.1 508.1 78 508.6 78.2 509.1 78.4 509.6 78.5 510.1 78.5 510.6 78.3 511.1 78.5 511.6 78.6 512.1 78.5 512.6 78.6 513.1 78.7 513.6 78.6 514.1 78.4 514.6 78.6 515.1 78.8 515.6 78.7 516.1 78.8 516.6 78.8 517.1 78.8 517.6 79.1 518.1 79.5 518.6 79.2 519.1 79.1 519.6 79.1 520.1 79 520.6 79 521.1 79.1 521.6 79 522.1 79 522.6 79 523.1 79.2 523.6 79.3 524.1 79.2 524.6 79.3 525.1 79.4 525.6 79.4 526.1 79.6 526.6 79.6 527.1 79.3 527.6 79.4 528.1 79.5 528.6 79.6 529.1 79.8 529.6 79.7 530.1 79.7 530.6 79.8 531.1 79.7 531.6 79.5 532.1 79.3 532.6 79.6 533.1 80.1 533.6 80 534.1 79.8 534.6 79.9 535.1 80.1 535.6 80.1 536.1 80 536.6 80.2 537.1 80.2 537.6 80.2 538.1 80.2 538.6 80.4 539.1 80.5 539.6 80.6" fill="none" stroke="#555555" stroke-width="1" stroke-linejoin="round" />
<path d="M394.1 77.6 394.6 77.1 395.1 76 395.6 74.8 396.1 74.5 396.6 75.7 397.1 77.1 397.6 77.8 398.1 78.3 398.6 78.8 399.1 79.2 399.6 79.5 400.1 80 400.6 80.5 401.1 80.7 401.6 81.1 402.1 81.6 402.6 81.8 403.1 82.1 403.6 81.9 404.1 81.7 404.6 81.5 405.1 81.5 405.6 81.2 406.1 81 406.6 80.6 407.1 80.1 407.6 80 408.1 79.4 408.6 78.7 409.1 78.6 409.6 78.4 410.1 78.1 410.6 77.6 411.1 77.2 411.6 76.6 412.1 76 412.6 75.7 413.1 75 413.6 74.3 414.1 73.9 414.6 73.7 415.1 73.4 415.6 72.6 416.1 71.9 416.6 71.5 417.1 71 417.6 70.6 418.1 70.1 418.6 69.4 419.1 69 419.6 68.7 420.1 67.8 420.6 67.1 421.1 66.8 421.6 66.3 422.1 65.7 422.6 65 423.1 64.5 423.6 63.9 424.1 63.2 424.6 64.8 425.1 66.7 425.6 68.7 426.1 70.7 426.6 72.1 427.1 73.5 427.6 75.2 428.1 76.3 428.6 77.3 429.1 78 429.6 78.8 430.1 80 430.6 81 431.1 81.9 431.6 82.7 432.1 83.5 432.6 84 433.1 84.6 433.6 85.1 434.1 85.3 434.6 85.5 435.1 85.7 435.6 86.3 436.1 86.7 436.6 86.8 437.1 86.9 437.6 87 438.1 87.3 438.6 87.6 439.1 87.8 439.6 88.2 440.1 88.3 440.6 88.5 441.1 88.6 441.6 88.8 442.1 88.9 442.6 88.7 443.1 88.9 443.6 89.2 444.1 89.2 444.6 89.5 445.1 89.5 445.6 89.5 446.1 89.6 446.6 89.6 447.1 89.7 447.6 89.7 448.1 89.8 448.6 89.9 449.1 89.9 449.6 89.9 450.1 89.8 450.6 89.7 451.1 89.7 451.6 89.8 452.1 90.1 452.6 90.3 453.1 90.1 453.6 90.1 454.1 90.2 454.6 90.1 455.1 90.2 455.6 90.5 456.1 90.6 456.6 90.7 457.1 90.8 457.6 90.5 458.1 90.4 458.6 90.6 459.1 90.5 459.6 90.2 460.1 90.3 460.6 90.4 461.1 90.3 461.6 90.6 462.1 90.6 462.6 90.3 463.1 90.2 463.6 90.1 464.1 90.2 464.6 90.3 465.1 90.6 465.6 90.7 466.1 90.1 466.6 89.8 467.1 89.7 467.6 89.9 468.1 89.8 468.6 89.8 469.1 89.8 469.6 89.7 470.1 89.6 470.6 89.5 471.1 89.2 471.6 88.9 472.1 88.7 472.6 88.7 473.1 88.9 473.6 88.8 474.1 88.5 474.6 88.5 475.1 88.4 475.6 88 476.1 87.9 476.6 87.9 477.1 87.9 477.6 87.7 478.1 87.4 478.6 87.6 479.1 87.8 479.6 87.7 480.1 87.7 480.6 87.6 481.1 87.7 481.6 87.6 482.1 87.3 482.6 87.5 483.1 87.6 483.6 87.4 484.1 87.4 484.6 87.3 485.1 87.4 485.6 87.6 486.1 87.6 486.6 87.9 487.1 88 487.6 88 488.1 88.1 488.6 88.1 489.1 88.4 489.6 88.3 490.1 88.2 490.6 88.4 491.1 88.7 491.6 88.9 492.1 89.1 492.6 89.5 493.1 89.7 493.6 89.7 494.1 89.8 494.6 89.7 495.1 89.8 495.6 90.2 496.1 90.4 496.6 90.3 497.1 90.9 497.6 91.2 498.1 91 498.6 91.1 499.1 91 499.6 91.2 500.1 91.7 500.6 91.6 501.1 91.6 501.6 92.1 502.1 92.2 502.6 92.2 503.1 92.7 503.6 92.6 504.1 92.4 504.6 92.5 505.1 92.3 505.6 92.7 506.1 93.2 506.6 93.1 507.1 93.1 507.6 93.2 508.1 93 508.6 93.1 509.1 93.2 509.6 93.3 510.1 93.6 510.6 93.7 511.1 93.4 511.6 93.6 512.1 93.9 512.6 94.2 513.1 94.2 513.6 93.9 514.1 93.8 514.6 94.1 515.1 94.2 515.6 94.2 516.1 94.6 516.6 94.4 517.1 94 517.6 94.2 518.1 94.5 518.6 94.7 519.1 94.5 519.6 94.5 520.1 94.7 520.6 94.5 521.1 94.5 521.6 94.9 522.1 95.2 522.6 95.1 523.1 95 523.6 95 524.1 95.1 524.6 95.3 525.1 95.4 525.6 95.3 526.1 95 526.6 95 527.1 95.4 527.6 95.6 528.1 95.2 528.6 95.2 529.1 95.6 529.6 95.9 530.1 95.9 530.6 95.6 531.1 95.6 531.6 95.6 532.1 95.4 532.6 95.8 533.1 96.2 533.6 96.1 534.1 95.8 534.6 95.8 535.1 96 535.6 96.4 536.1 96.4 536.6 96.1 537.1 96 537.6 96.2 538.1 96.3 538.6 96.4 539.1 96.8 539.6 96.8" fill="none" stroke="#e61e1e" stroke-width="1.3" stroke-linejoin="round" />
<path d="M394.1 105.1 394.6 105.3 395.1 105.6 395.6 105.3 396.1 105.4 396.6 105.6 397.1 105.8 397.6 105.8 398.1 105.8 398.6 105.7 399.1 105.5 399.6 105.3 400.1 105.3 400.6 105.4 401.1 105 401.6 104.5 402.1 104.1 402.6 102.1 403.1 97.2 403.6 90.7 404.1 85.7 404.6 86.1 405.1 91 405.6 96.5 406.1 100.4 406.6 102.5 407.1 103.5 407.6 103.8 408.1 104 408.6 104.3 409.1 104.1 409.6 103.7 410.1 102.9 410.6 102.2 411.1 103.7 411.6 105.4 412.1 105.9 412.6 106.3 413.1 106.6 413.6 106.7 414.1 106.6 414.6 106.6 415.1 107.1 415.6 107.1 416.1 106.5 416.6 106.2 417.1 106.4 417.6 106.6 418.1 106.7 418.6 106.9 419.1 106.7 419.6 106.6 420.1 106.7 420.6 106.6 421.1 106.5 421.6 106.6 422.1 106.4 422.6 105.6 423.1 104.2 423.6 102.1 424.1 101 424.6 101.6 425.1 102.8 425.6 104.6 426.1 105.7 426.6 106.1 427.1 106.1 427.6 106 428.1 106.3 428.6 106.2 429.1 106.2 429.6 106.1 430.1 106 430.6 106.3 431.1 106.5 431.6 106.5 432.1 106.9 432.6 107.2 433.1 107.1 433.6 106.9 434.1 107 434.6 107.1 435.1 107.6 435.6 107.8 436.1 107.1 436.6 106.7 437.1 105.9 437.6 104.2 438.1 103.2 438.6 104.2 439.1 105.6 439.6 106.6 440.1 108.1 440.6 108.4 441.1 107.6 441.6 107.5 442.1 107.8 442.6 108.2 443.1 108 443.6 107.4 444.1 107.8 444.6 108.1 445.1 107.9 445.6 107.8 446.1 108.1 446.6 108.3 447.1 107.7 447.6 107.4 448.1 107.5 448.6 107.2 449.1 106.9 449.6 107.2 450.1 107.3 450.6 107.1 451.1 107 451.6 106.9 452.1 106.9 452.6 106.7 453.1 107.1 453.6 107.9 454.1 108.1 454.6 108.2 455.1 108.1 455.6 108.1 456.1 108.1 456.6 108.2 457.1 108.5 457.6 108.5 458.1 108.9 458.6 108.8 459.1 108.7 459.6 108.9 460.1 108.9 460.6 109 461.1 109.1 461.6 108.9 462.1 109.1 462.6 109.2 463.1 109.1 463.6 108.9 464.1 108.7 464.6 108.9 465.1 109.6 465.6 109.3 466.1 108.7 466.6 108.8 467.1 109 467.6 109.2 468.1 109.5 468.6 109.5 469.1 109.4 469.6 109.5 470.1 109.2 470.6 109.2 471.1 109.4 471.6 109.6 472.1 109.8 472.6 109.8 473.1 109.5 473.6 109.3 474.1 109.2 474.6 109.5 475.1 109.8 475.6 110 476.1 109.9 476.6 109.7 477.1 109.8 477.6 109.3 478.1 109.1 478.6 109.6 479.1 109.8 479.6 109.6 480.1 110 480.6 110.1 481.1 109.9 481.6 110.2 482.1 110 482.6 110 483.1 109.9 483.6 109.6 484.1 110 484.6 110.6 485.1 110.5 485.6 110.1 486.1 109.9 486.6 109.9 487.1 109.8 487.6 110.1 488.1 110.2 488.6 110.4 489.1 110.2 489.6 109.9 490.1 109.8 490.6 109.3 491.1 109 491.6 108.1 492.1 106.3 492.6 105.2 493.1 105.7 493.6 107 494.1 107.9 494.6 108.6 495.1 110 495.6 110.1 496.1 110.4 496.6 111.1 497.1 110.9 497.6 110.9 498.1 111 498.6 110.8 499.1 111.1 499.6 111.2 500.1 110.6 500.6 111.1 501.1 111.3 501.6 111 502.1 111.3 502.6 111.7 503.1 111.4 503.6 111 504.1 110.8 504.6 110.8 505.1 111.5 505.6 111.3 506.1 110.8 506.6 110.6 507.1 110.6 507.6 110.7 508.1 111 508.6 111.3 509.1 110.9 509.6 111 510.1 111.7 510.6 111.7 511.1 111.3 511.6 111.3 512.1 111.4 512.6 111 513.1 110.8 513.6 110.7 514.1 110.9 514.6 111.4 515.1 111 515.6 110.5 516.1 111.1 516.6 111.3 517.1 111.6 517.6 111.8 518.1 111.1 518.6 111.2 519.1 111.7 519.6 111.2 520.1 110.9 520.6 111.5 521.1 111.3 521.6 111.1 522.1 111.5 522.6 111.8 523.1 112 523.6 111.5 524.1 110.9 524.6 110.9 525.1 111.2 525.6 111.3 526.1 111.2 526.6 111 527.1 111.4 527.6 111.5 528.1 111.1 528.6 111.2 529.1 111.4 529.6 111.3 530.1 111.5 530.6 111.3 531.1 111.1 531.6 111.6 532.1 111.4 532.6 111.2 533.1 111.5 533.6 111.5 534.1 111.4 534.6 111 535.1 110.9 535.6 111.1 536.1 111.2 536.6 111.2 537.1 111.1 537.6 110.8 538.1 111.1 538.6 111.2 539.1 111.4 539.6 112.2" fill="none" stroke="#2464cc" stroke-width="1.1" stroke-linejoin="round" />
<line x1="404" y1="36" x2="404" y2="86" stroke="#777" stroke-width="0.9" stroke-dasharray="1.8 1.6"/>
<line x1="430.5" y1="23" x2="425" y2="63" stroke="#777" stroke-width="0.9" stroke-dasharray="1.8 1.6"/>
<line x1="489" y1="29" x2="487" y2="97" stroke="#777" stroke-width="0.9" stroke-dasharray="1.8 1.6"/>
<text font-size="6.8" text-anchor="start" fill="#161616" stroke="#161616" stroke-width="0.28" font-weight="bold" transform="translate(509.5 21.14) scale(1 1)">ZPNiIn</text>
<text font-size="6.8" text-anchor="start" fill="#161616" stroke="#161616" stroke-width="0.28" font-weight="bold" transform="translate(513 57.64) scale(1 1)">ZNiIn</text>
<text font-size="6.8" text-anchor="start" fill="#161616" stroke="#161616" stroke-width="0.28" font-weight="bold" transform="translate(514.6 77.64) scale(1 1)">NiIn</text>
<text font-size="6.8" text-anchor="start" fill="#161616" stroke="#161616" stroke-width="0.28" font-weight="bold" transform="translate(516 98.84) scale(1 1)">NiO</text>
<text font-size="6.8" text-anchor="start" fill="#161616" stroke="#161616" stroke-width="0.28" font-weight="bold" transform="translate(515.4 107.84) scale(1 1)">In<tspan font-size="4.62" baseline-shift="-1.36">2</tspan>O<tspan font-size="4.62" baseline-shift="-1.36">3</tspan></text>
<text font-size="6.9" text-anchor="start" fill="#161616" stroke="#161616" stroke-width="0.28" font-weight="bold" transform="translate(430 74.08) scale(1 1)">495</text>
<text font-size="6.9" text-anchor="start" fill="#161616" stroke="#161616" stroke-width="0.28" font-weight="bold" transform="translate(411 86.48) scale(1 1)">306</text>
<text font-size="6.9" text-anchor="start" fill="#161616" stroke="#161616" stroke-width="0.28" font-weight="bold" transform="translate(406 100.28) scale(1 1)">366</text>
<text font-size="6.9" text-anchor="start" fill="#161616" stroke="#161616" stroke-width="0.28" font-weight="bold" transform="translate(419 98.28) scale(1 1)">496</text>
<text font-size="6.9" text-anchor="start" fill="#161616" stroke="#161616" stroke-width="0.28" font-weight="bold" transform="translate(433.8 99.58) scale(1 1)">629</text>
<text font-size="6.9" text-anchor="start" fill="#161616" stroke="#161616" stroke-width="0.28" font-weight="bold" transform="translate(487 90.08) scale(1 1)">1074</text>
<line x1="440" y1="69.5" x2="426" y2="63" stroke="#222" stroke-width="0.6" />
<line x1="411" y1="85" x2="404.5" y2="86.5" stroke="#222" stroke-width="0.6" />
<rect x="393.5" y="8.5" width="147" height="105" fill="none" stroke="#363636" stroke-width="1.15"/>
<line x1="392.5" y1="113.5" x2="392.5" y2="115.5" stroke="#363636" stroke-width="0.9" />
<line x1="413.64" y1="113.5" x2="413.64" y2="115.5" stroke="#363636" stroke-width="0.9" />
<line x1="434.79" y1="113.5" x2="434.79" y2="115.5" stroke="#363636" stroke-width="0.9" />
<line x1="455.93" y1="113.5" x2="455.93" y2="115.5" stroke="#363636" stroke-width="0.9" />
<line x1="477.07" y1="113.5" x2="477.07" y2="115.5" stroke="#363636" stroke-width="0.9" />
<line x1="498.21" y1="113.5" x2="498.21" y2="115.5" stroke="#363636" stroke-width="0.9" />
<line x1="519.36" y1="113.5" x2="519.36" y2="115.5" stroke="#363636" stroke-width="0.9" />
<line x1="540.5" y1="113.5" x2="540.5" y2="115.5" stroke="#363636" stroke-width="0.9" />
<line x1="403.07" y1="113.5" x2="403.07" y2="114.7" stroke="#363636" stroke-width="0.8" />
<line x1="424.21" y1="113.5" x2="424.21" y2="114.7" stroke="#363636" stroke-width="0.8" />
<line x1="445.36" y1="113.5" x2="445.36" y2="114.7" stroke="#363636" stroke-width="0.8" />
<line x1="466.5" y1="113.5" x2="466.5" y2="114.7" stroke="#363636" stroke-width="0.8" />
<line x1="487.64" y1="113.5" x2="487.64" y2="114.7" stroke="#363636" stroke-width="0.8" />
<line x1="508.79" y1="113.5" x2="508.79" y2="114.7" stroke="#363636" stroke-width="0.8" />
<line x1="529.93" y1="113.5" x2="529.93" y2="114.7" stroke="#363636" stroke-width="0.8" />
<text font-size="7" text-anchor="middle" fill="#161616" stroke="#161616" stroke-width="0.28" font-weight="bold" transform="translate(392.5 122.61) scale(1 1)">200</text>
<text font-size="7" text-anchor="middle" fill="#161616" stroke="#161616" stroke-width="0.28" font-weight="bold" transform="translate(413.64 122.61) scale(1 1)">400</text>
<text font-size="7" text-anchor="middle" fill="#161616" stroke="#161616" stroke-width="0.28" font-weight="bold" transform="translate(434.79 122.61) scale(1 1)">600</text>
<text font-size="7" text-anchor="middle" fill="#161616" stroke="#161616" stroke-width="0.28" font-weight="bold" transform="translate(455.93 122.61) scale(1 1)">800</text>
<text font-size="7" text-anchor="middle" fill="#161616" stroke="#161616" stroke-width="0.28" font-weight="bold" transform="translate(477.07 122.61) scale(1 1)">1000</text>
<text font-size="7" text-anchor="middle" fill="#161616" stroke="#161616" stroke-width="0.28" font-weight="bold" transform="translate(498.21 122.61) scale(1 1)">1200</text>
<text font-size="7" text-anchor="middle" fill="#161616" stroke="#161616" stroke-width="0.28" font-weight="bold" transform="translate(519.36 122.61) scale(1 1)">1400</text>
<text font-size="7" text-anchor="middle" fill="#161616" stroke="#161616" stroke-width="0.28" font-weight="bold" transform="translate(540.5 122.61) scale(1 1)">1600</text>
<text font-size="9.7" text-anchor="middle" fill="#161616" stroke="#161616" stroke-width="0.28" font-weight="bold" transform="translate(466.7 135.2) scale(1 1)">Raman shift / cm<tspan font-size="6.6" baseline-shift="3.69">-1</tspan></text>
<text font-size="9.3" text-anchor="middle" fill="#161616" stroke="#161616" stroke-width="0.28" font-weight="bold" transform="translate(383.85 57.2) rotate(-90)">Intensity / a.u.</text>
<path d="M35.2 238.3 35.2 238.7 35.6 225.5 36.1 216.7 36.5 210.8 37 206.9 37.4 204.3 37.9 202.6 38.3 201.4 38.8 200.7 39.2 200.1 39.7 199.8 40.1 199.5 40.5 199.4 41 199.2 41.4 199.1 41.9 199.1 42.3 199 42.8 199 43.2 198.9 43.7 198.9 44.1 198.9 44.6 198.8 45 198.8 45.4 198.8 45.9 198.7 46.3 198.7 46.8 198.7 47.2 198.7 47.7 198.6 48.1 198.6 48.6 198.6 49 198.6 49.5 198.5 49.9 198.5 50.3 198.5 50.8 198.4 51.2 198.4 51.7 198.4 52.1 198.4 52.6 198.3 53 198.3 53.5 198.3 53.9 198.3 54.4 198.2 54.8 198.2 55.2 198.2 55.7 198.1 56.1 198.1 56.6 198.1 57 198.1 57.5 198 57.9 198 58.4 198 58.8 198 59.3 197.9 59.7 197.9 60.2 197.9 60.6 197.8 61 197.8 61.5 197.8 61.9 197.8 62.4 197.7 62.8 197.7 63.3 197.7 63.7 197.7 64.2 197.6 64.6 197.6 65.1 197.6 65.5 197.5 65.9 197.5 66.4 197.5 66.8 197.5 67.3 197.4 67.7 197.4 68.2 197.4 68.6 197.4 69.1 197.3 69.5 197.3 70 197.3 70.4 197.2 70.8 197.2 71.3 197.2 71.7 197.2 72.2 197.1 72.6 197.1 73.1 197.1 73.5 197.1 74 197 74.4 197 74.9 197 75.3 196.9 75.7 196.9 76.2 196.9 76.6 196.9 77.1 196.8 77.5 196.8 78 196.8 78.4 196.8 78.9 196.7 79.3 196.7 79.8 196.7 80.2 196.7 80.6 196.6 81.1 196.6 81.5 196.6 82 196.5 82.4 196.5 82.9 196.5 83.3 196.5 83.8 196.4 84.2 196.4 84.7 196.4 85.1 196.4 85.5 196.3 86 196.3 86.4 196.3 86.9 196.2 87.3 196.2 87.8 196.2 88.2 196.2 88.7 196.1 89.1 196.1 89.6 196.1 90 196.1 90.4 196 90.9 196 91.3 196 91.8 195.9 92.2 195.9 92.7 195.9 93.1 195.9 93.6 195.8 94 195.8 94.5 195.8 94.9 195.8 95.3 195.7 95.8 195.7 96.2 195.7 96.7 195.6 97.1 195.6 97.6 195.6 98 195.6 98.5 195.5 98.9 195.5 99.4 195.5 99.8 195.5 100.3 195.4 100.7 195.4 101.1 195.4 101.6 195.3 102 195.3 102.5 195.3 102.9 195.3 103.4 195.2 103.8 195.2 104.3 195.2 104.7 195.2 105.2 195.1 105.6 195.1 106 195.1 106.5 195 106.9 195 107.4 195 107.8 195 108.3 194.9 108.7 194.9 109.2 194.9 109.6 194.9 110.1 194.8 110.5 194.8 110.9 194.8 111.4 194.7 111.8 194.7 112.3 194.7 112.7 194.7 113.2 194.6 113.6 194.6 114.1 194.6 114.5 194.6 115 194.5 115.4 194.5 115.8 194.5 116.3 194.4 116.7 194.4 117.2 194.4 117.6 194.4 118.1 194.3 118.5 194.3 119 194.3 119.4 194.3 119.9 194.2 120.3 194.2 120.7 194.2 121.2 194.1 121.6 194.1 122.1 194.1 122.5 194.1 123 194 123.4 194 123.9 194 124.3 194 124.8 193.9 125.2 193.9 125.6 193.9 126.1 193.8 126.5 193.8 127 193.8 127.4 193.8 127.9 193.7 128.3 193.7 128.8 193.7 129.2 193.7 129.7 193.6 130.1 193.6 130.5 193.6 131 193.5 131.4 193.5 131.9 193.5 132.3 193.5 132.8 193.4 133.2 193.4 133.7 193.4 134.1 193.3 134.6 193.3 135 193.3 135.4 193.3 135.9 193.2 136.3 193.2 136.8 193.2 137.2 193.1 137.7 193.1 138.1 193.1 138.6 193.1 139 193 139.5 193 139.9 193 140.4 192.9 140.8 192.9 141.2 192.9 141.7 192.8 142.1 192.8 142.6 192.8 143 192.7 143.5 192.7 143.9 192.7 144.4 192.6 144.8 192.6 145.3 192.5 145.7 192.5 146.1 192.5 146.6 192.4 147 192.4 147.5 192.3 147.9 192.3 148.4 192.2 148.8 192.1 149.3 192.1 149.7 192 150.2 191.9 150.6 191.9 151 191.8 151.5 191.7 151.9 191.6 152.4 191.5 152.8 191.4 153.3 191.3 153.7 191.1 154.2 191 154.6 190.8 155.1 190.6 155.5 190.5 155.9 190.2 156.4 190 156.8 189.8 157.3 189.5 157.7 189.2 158.2 188.8 158.6 188.4 159.1 188 159.5 187.5 160 187 160.4 186.4 160.8 185.8 161.3 185.1 161.7 184.3 162.2 183.4 162.6 182.5 163.1 181.4 163.5 180.2 164 178.8 164.4 177.3 164.9 175.7 165.3 173.8 165.7 171.7 166.2 169.4 166.6 166.9 167.1 164 167.5 160.8 168 157.3 168.4 153.3" fill="none" stroke="#ff3c3c" stroke-width="1.2" stroke-linejoin="round" />
<path d="M109.9 194.8 110.4 194.8 110.9 194.8 111.4 194.7 111.9 194.7 112.3 194.6 112.8 194.6 113.3 194.5 113.8 194.5 114.3 194.5 114.8 194.4 115.3 194.4 115.8 194.3 116.3 194.3 116.8 194.3 117.3 194.2 117.8 194.2 118.3 194.1 118.7 194.1 119.2 194.1 119.7 194 120.2 194 120.7 193.9 121.2 193.9 121.7 193.8 122.2 193.8 122.7 193.8 123.2 193.7 123.7 193.7 124.2 193.6 124.6 193.6 125.1 193.6 125.6 193.5 126.1 193.5 126.6 193.4 127.1 193.4 127.6 193.4 128.1 193.3 128.6 193.3 129.1 193.2 129.6 193.2 130.1 193.1 130.5 193.1 131 193.1 131.5 193 132 193 132.5 192.9 133 192.9 133.5 192.8 134 192.8 134.5 192.8 135 192.7 135.5 192.7 136 192.6 136.4 192.6 136.9 192.5 137.4 192.5 137.9 192.5 138.4 192.4 138.9 192.4 139.4 192.3 139.9 192.3 140.4 192.2 140.9 192.2 141.4 192.1 141.9 192.1 142.4 192 142.8 192 143.3 191.9 143.8 191.9 144.3 191.8 144.8 191.7 145.3 191.7 145.8 191.6 146.3 191.5 146.8 191.4 147.3 191.4 147.8 191.3 148.3 191.2 148.7 191.1 149.2 191 149.7 190.9 150.2 190.7 150.7 190.6 151.2 190.4 151.7 190.3 152.2 190.1 152.7 189.9 153.2 189.7 153.7 189.4 154.2 189.1 154.6 188.8 155.1 188.5 155.6 188.1 156.1 187.6 156.6 187.1 157.1 186.6 157.6 186 158.1 185.3 158.6 184.6 159.1 183.8 159.6 182.9 160.1 181.8 160.6 180.6 161 179.3 161.5 177.9 162 176.2 162.5 174.3 163 172.2 163.5 169.8 164 167.1 164.5 164.7 165 163.5 165.5 162.3 166 161 166.5 159.6 166.9 158.1 167.4 156.6 167.9 155 168.4 153.3" fill="none" stroke="#ff3c3c" stroke-width="1.2" stroke-linejoin="round" />
<circle cx="35.3" cy="237.22" r="1" fill="#ff3c3c"/>
<circle cx="35.3" cy="233.87" r="1" fill="#ff3c3c"/>
<circle cx="35.3" cy="230.51" r="1" fill="#ff3c3c"/>
<circle cx="35.3" cy="227.15" r="1" fill="#ff3c3c"/>
<circle cx="35.3" cy="223.79" r="1" fill="#ff3c3c"/>
<circle cx="35.3" cy="220.43" r="1" fill="#ff3c3c"/>
<circle cx="35.3" cy="217.08" r="1" fill="#ff3c3c"/>
<circle cx="35.3" cy="213.72" r="1" fill="#ff3c3c"/>
<circle cx="35.3" cy="210.36" r="1" fill="#ff3c3c"/>
<circle cx="35.3" cy="207" r="1" fill="#ff3c3c"/>
<circle cx="35.3" cy="203.64" r="1" fill="#ff3c3c"/>
<circle cx="39.27" cy="200.08" r="1" fill="#ff3c3c"/>
<circle cx="48.78" cy="198.57" r="1" fill="#ff3c3c"/>
<circle cx="62.36" cy="197.74" r="1" fill="#ff3c3c"/>
<circle cx="66.28" cy="197.5" r="1" fill="#ff3c3c"/>
<circle cx="70.21" cy="197.26" r="1" fill="#ff3c3c"/>
<circle cx="74.13" cy="197.02" r="1" fill="#ff3c3c"/>
<circle cx="78.05" cy="196.78" r="1" fill="#ff3c3c"/>
<circle cx="81.98" cy="196.54" r="1" fill="#ff3c3c"/>
<circle cx="85.9" cy="196.3" r="1" fill="#ff3c3c"/>
<circle cx="89.82" cy="196.06" r="1" fill="#ff3c3c"/>
<circle cx="93.74" cy="195.82" r="1" fill="#ff3c3c"/>
<circle cx="97.67" cy="195.58" r="1" fill="#ff3c3c"/>
<circle cx="101.59" cy="195.34" r="1" fill="#ff3c3c"/>
<circle cx="105.51" cy="195.1" r="1" fill="#ff3c3c"/>
<circle cx="109.44" cy="194.86" r="1" fill="#ff3c3c"/>
<circle cx="113.36" cy="194.62" r="1" fill="#ff3c3c"/>
<circle cx="117.28" cy="194.38" r="1" fill="#ff3c3c"/>
<circle cx="121.21" cy="194.14" r="1" fill="#ff3c3c"/>
<circle cx="125.13" cy="193.9" r="1" fill="#ff3c3c"/>
<circle cx="129.05" cy="193.66" r="1" fill="#ff3c3c"/>
<circle cx="132.98" cy="193.42" r="1" fill="#ff3c3c"/>
<circle cx="136.9" cy="193.17" r="1" fill="#ff3c3c"/>
<circle cx="140.82" cy="192.9" r="1" fill="#ff3c3c"/>
<circle cx="144.75" cy="192.59" r="1" fill="#ff3c3c"/>
<circle cx="148.67" cy="192.17" r="1" fill="#ff3c3c"/>
<circle cx="152.59" cy="191.44" r="1" fill="#ff3c3c"/>
<circle cx="156.51" cy="189.94" r="1" fill="#ff3c3c"/>
<circle cx="160.44" cy="186.4" r="1" fill="#ff3c3c"/>
<circle cx="164.36" cy="177.49" r="1" fill="#ff3c3c"/>
<circle cx="168.28" cy="154.56" r="1" fill="#ff3c3c"/>
<circle cx="116.68" cy="194.27" r="1" fill="#ff3c3c"/>
<circle cx="120.44" cy="193.95" r="1" fill="#ff3c3c"/>
<circle cx="124.2" cy="193.64" r="1" fill="#ff3c3c"/>
<circle cx="127.96" cy="193.32" r="1" fill="#ff3c3c"/>
<circle cx="131.72" cy="193" r="1" fill="#ff3c3c"/>
<circle cx="135.48" cy="192.68" r="1" fill="#ff3c3c"/>
<circle cx="139.24" cy="192.34" r="1" fill="#ff3c3c"/>
<circle cx="143" cy="191.95" r="1" fill="#ff3c3c"/>
<circle cx="146.76" cy="191.45" r="1" fill="#ff3c3c"/>
<circle cx="150.53" cy="190.65" r="1" fill="#ff3c3c"/>
<circle cx="154.29" cy="189.05" r="1" fill="#ff3c3c"/>
<circle cx="158.05" cy="185.4" r="1" fill="#ff3c3c"/>
<circle cx="161.81" cy="176.95" r="1" fill="#ff3c3c"/>
<circle cx="165.57" cy="162" r="1" fill="#ff3c3c"/>
<path d="M39.3 237.9 39.7 237.9 40.1 237.8 40.6 237.8 41 237.8 41.5 237.8 41.9 237.8 42.3 237.8 42.8 237.8 43.2 237.8 43.6 237.8 44.1 237.7 44.5 237.7 44.9 237.7 45.4 237.7 45.8 237.7 46.3 237.7 46.7 237.7 47.1 237.7 47.6 237.7 48 237.6 48.4 237.6 48.9 237.6 49.3 237.6 49.7 237.6 50.2 237.6 50.6 237.6 51 237.6 51.5 237.6 51.9 237.6 52.4 237.5 52.8 237.5 53.2 237.5 53.7 237.5 54.1 237.5 54.5 237.5 55 237.5 55.4 237.5 55.8 237.5 56.3 237.4 56.7 237.4 57.2 237.4 57.6 237.4 58 237.4 58.5 237.4 58.9 237.4 59.3 237.4 59.8 237.4 60.2 237.4 60.6 237.3 61.1 237.3 61.5 237.3 61.9 237.3 62.4 237.3 62.8 237.3 63.3 237.3 63.7 237.3 64.1 237.3 64.6 237.2 65 237.2 65.4 237.2 65.9 237.2 66.3 237.2 66.7 237.2 67.2 237.2 67.6 237.2 68.1 237.2 68.5 237.1 68.9 237.1 69.4 237.1 69.8 237.1 70.2 237.1 70.7 237.1 71.1 237.1 71.5 237.1 72 237.1 72.4 237.1 72.8 237 73.3 237 73.7 237 74.2 237 74.6 237 75 237 75.5 237 75.9 237 76.3 237 76.8 236.9 77.2 236.9 77.6 236.9 78.1 236.9 78.5 236.9 79 236.9 79.4 236.9 79.8 236.9 80.3 236.9 80.7 236.8 81.1 236.8 81.6 236.8 82 236.8 82.4 236.8 82.9 236.8 83.3 236.8 83.7 236.8 84.2 236.8 84.6 236.8 85.1 236.7 85.5 236.7 85.9 236.7 86.4 236.7 86.8 236.7 87.2 236.7 87.7 236.7 88.1 236.7 88.5 236.7 89 236.6 89.4 236.6 89.9 236.6 90.3 236.6 90.7 236.6 91.2 236.6 91.6 236.6 92 236.6 92.5 236.6 92.9 236.5 93.3 236.5 93.8 236.5 94.2 236.5 94.6 236.5 95.1 236.5 95.5 236.5 96 236.5 96.4 236.5 96.8 236.4 97.3 236.4 97.7 236.4 98.1 236.4 98.6 236.4 99 236.4 99.4 236.4 99.9 236.4 100.3 236.4 100.8 236.3 101.2 236.3 101.6 236.3 102.1 236.3 102.5 236.3 102.9 236.3 103.4 236.3 103.8 236.3 104.2 236.3 104.7 236.2 105.1 236.2 105.5 236.2 106 236.2 106.4 236.2 106.9 236.2 107.3 236.2 107.7 236.2 108.2 236.2 108.6 236.1 109 236.1 109.5 236.1 109.9 236.1 110.3 236.1 110.8 236.1 111.2 236.1 111.7 236.1 112.1 236 112.5 236 113 236 113.4 236 113.8 236 114.3 236 114.7 236 115.1 236 115.6 235.9 116 235.9 116.4 235.9 116.9 235.9 117.3 235.9 117.8 235.9 118.2 235.9 118.6 235.9 119.1 235.8 119.5 235.8 119.9 235.8 120.4 235.8 120.8 235.8 121.2 235.8 121.7 235.8 122.1 235.7 122.6 235.7 123 235.7 123.4 235.7 123.9 235.7 124.3 235.7 124.7 235.6 125.2 235.6 125.6 235.6 126 235.6 126.5 235.6 126.9 235.6 127.3 235.5 127.8 235.5 128.2 235.5 128.7 235.5 129.1 235.5 129.5 235.4 130 235.4 130.4 235.4 130.8 235.4 131.3 235.4 131.7 235.3 132.1 235.3 132.6 235.3 133 235.3 133.5 235.2 133.9 235.2 134.3 235.2 134.8 235.2 135.2 235.1 135.6 235.1 136.1 235.1 136.5 235 136.9 235 137.4 235 137.8 234.9 138.2 234.9 138.7 234.9 139.1 234.8 139.6 234.8 140 234.7 140.4 234.7 140.9 234.7 141.3 234.6 141.7 234.6 142.2 234.5 142.6 234.5 143 234.4 143.5 234.4 143.9 234.3 144.4 234.3 144.8 234.2 145.2 234.1 145.7 234.1 146.1 234 146.5 233.9 147 233.9 147.4 233.8 147.8 233.7 148.3 233.6 148.7 233.5 149.1 233.4 149.6 233.3 150 233.3 150.5 233.1 150.9 233 151.3 232.9 151.8 232.8 152.2 232.7 152.6 232.6 153.1 232.4 153.5 232.3 153.9 232.1 154.4 232 154.8 231.8 155.3 231.6 155.7 231.5 156.1 231.3 156.6 231.1 157 230.9 157.4 230.6 157.9 230.4 158.3 230.1 158.7 229.9 159.2 229.6 159.6 229.3 160 229 160.5 228.6 160.9 228.3 161.4 227.9 161.8 227.5 162.2 227 162.7 226.6 163.1 226.1 163.5 225.5 164 224.9 164.4 224.3 164.8 223.6 165.3 222.9 165.7 222.1 166.2 221.2 166.6 220.3 167 219.3 167.5 218.1 167.9 216.9 168.3 215.6 168.8 214.1 169.2 212.5 169.6 210.7" fill="none" stroke="#2464cc" stroke-width="1.2" stroke-linejoin="round" />
<path d="M103.1 236.3 103.8 236.3 104.4 236.3 105.1 236.2 105.8 236.2 106.5 236.2 107.1 236.2 107.8 236.2 108.5 236.1 109.1 236.1 109.8 236.1 110.5 236.1 111.2 236.1 111.8 236.1 112.5 236 113.2 236 113.9 236 114.5 236 115.2 235.9 115.9 235.9 116.5 235.9 117.2 235.9 117.9 235.9 118.6 235.8 119.2 235.8 119.9 235.8 120.6 235.8 121.2 235.7 121.9 235.7 122.6 235.7 123.3 235.7 123.9 235.6 124.6 235.6 125.3 235.6 126 235.6 126.6 235.5 127.3 235.5 128 235.5 128.6 235.4 129.3 235.4 130 235.4 130.7 235.3 131.3 235.3 132 235.2 132.7 235.2 133.3 235.1 134 235.1 134.7 235.1 135.4 235 136 234.9 136.7 234.9 137.4 234.8 138.1 234.8 138.7 234.7 139.4 234.6 140.1 234.5 140.7 234.5 141.4 234.4 142.1 234.3 142.8 234.2 143.4 234.1 144.1 234 144.8 233.9 145.4 233.7 146.1 233.6 146.8 233.5 147.5 233.3 148.1 233.1 148.8 233 149.5 232.8 150.1 232.5 150.8 232.3 151.5 232.1 152.2 231.8 152.8 231.5 153.5 231.2 154.2 230.9 154.9 230.5 155.5 230.1 156.2 229.6 156.9 229.1 157.5 228.6 158.2 228 158.9 227.4 159.6 226.7 160.2 225.9 160.9 225.1 161.6 224.1 162.2 223 162.9 221.7 163.6 220.3 164.3 218.7 164.9 217.6 165.6 216.7 166.3 215.7 167 214.7 167.6 213.7 168.3 212.5 169 211.3 169.6 210" fill="none" stroke="#2464cc" stroke-width="1.2" stroke-linejoin="round" />
<circle cx="39.27" cy="237.86" r="1" fill="#2464cc"/>
<circle cx="43.18" cy="237.77" r="1" fill="#2464cc"/>
<circle cx="47.09" cy="237.67" r="1" fill="#2464cc"/>
<circle cx="51" cy="237.58" r="1" fill="#2464cc"/>
<circle cx="54.91" cy="237.48" r="1" fill="#2464cc"/>
<circle cx="58.82" cy="237.38" r="1" fill="#2464cc"/>
<circle cx="62.73" cy="237.29" r="1" fill="#2464cc"/>
<circle cx="66.64" cy="237.19" r="1" fill="#2464cc"/>
<circle cx="70.55" cy="237.1" r="1" fill="#2464cc"/>
<circle cx="74.46" cy="237" r="1" fill="#2464cc"/>
<circle cx="78.37" cy="236.91" r="1" fill="#2464cc"/>
<circle cx="82.28" cy="236.81" r="1" fill="#2464cc"/>
<circle cx="86.19" cy="236.71" r="1" fill="#2464cc"/>
<circle cx="90.1" cy="236.62" r="1" fill="#2464cc"/>
<circle cx="94.01" cy="236.52" r="1" fill="#2464cc"/>
<circle cx="97.91" cy="236.42" r="1" fill="#2464cc"/>
<circle cx="101.82" cy="236.32" r="1" fill="#2464cc"/>
<circle cx="105.73" cy="236.22" r="1" fill="#2464cc"/>
<circle cx="109.64" cy="236.11" r="1" fill="#2464cc"/>
<circle cx="113.55" cy="236.01" r="1" fill="#2464cc"/>
<circle cx="117.46" cy="235.89" r="1" fill="#2464cc"/>
<circle cx="121.37" cy="235.76" r="1" fill="#2464cc"/>
<circle cx="125.28" cy="235.62" r="1" fill="#2464cc"/>
<circle cx="129.19" cy="235.45" r="1" fill="#2464cc"/>
<circle cx="133.1" cy="235.25" r="1" fill="#2464cc"/>
<circle cx="137.01" cy="234.99" r="1" fill="#2464cc"/>
<circle cx="140.92" cy="234.66" r="1" fill="#2464cc"/>
<circle cx="144.83" cy="234.19" r="1" fill="#2464cc"/>
<circle cx="148.74" cy="233.53" r="1" fill="#2464cc"/>
<circle cx="152.65" cy="232.56" r="1" fill="#2464cc"/>
<circle cx="156.56" cy="231.07" r="1" fill="#2464cc"/>
<circle cx="160.47" cy="228.66" r="1" fill="#2464cc"/>
<circle cx="164.37" cy="224.37" r="1" fill="#2464cc"/>
<circle cx="168.28" cy="215.73" r="1" fill="#2464cc"/>
<circle cx="116.68" cy="235.9" r="1" fill="#2464cc"/>
<circle cx="120.44" cy="235.77" r="1" fill="#2464cc"/>
<circle cx="124.2" cy="235.63" r="1" fill="#2464cc"/>
<circle cx="127.96" cy="235.46" r="1" fill="#2464cc"/>
<circle cx="131.72" cy="235.25" r="1" fill="#2464cc"/>
<circle cx="135.48" cy="234.99" r="1" fill="#2464cc"/>
<circle cx="139.24" cy="234.64" r="1" fill="#2464cc"/>
<circle cx="143" cy="234.15" r="1" fill="#2464cc"/>
<circle cx="146.76" cy="233.46" r="1" fill="#2464cc"/>
<circle cx="150.53" cy="232.42" r="1" fill="#2464cc"/>
<circle cx="154.29" cy="230.82" r="1" fill="#2464cc"/>
<circle cx="158.05" cy="228.19" r="1" fill="#2464cc"/>
<circle cx="161.81" cy="223.72" r="1" fill="#2464cc"/>
<circle cx="165.57" cy="216.73" r="1" fill="#2464cc"/>
<line x1="39.6" y1="156" x2="55" y2="156" stroke="#2464cc" stroke-width="1" />
<circle cx="47.3" cy="156" r="1.1" fill="#2464cc"/>
<line x1="39.6" y1="166.3" x2="55" y2="166.3" stroke="#ff3c3c" stroke-width="1" />
<circle cx="47.3" cy="166.3" r="1.1" fill="#ff3c3c"/>
<text font-size="6.8" text-anchor="start" fill="#161616" stroke="#161616" stroke-width="0.28" font-weight="bold" transform="translate(56.4 158.74) scale(1 1)">In<tspan font-size="4.62" baseline-shift="-1.36">2</tspan>O<tspan font-size="4.62" baseline-shift="-1.36">3</tspan></text>
<text font-size="6.8" text-anchor="start" fill="#161616" stroke="#161616" stroke-width="0.28" font-weight="bold" transform="translate(56.4 168.54) scale(1 1)">ZPNiIn</text>
<text font-size="7" text-anchor="start" fill="#ff3c3c" stroke="#ff3c3c" stroke-width="0.28" font-weight="normal" transform="translate(58.2 189.11) scale(1 1)">S<tspan font-size="4.76" baseline-shift="-1.4">BET</tspan>= 760.6 m<tspan font-size="4.76" baseline-shift="2.66">2</tspan> g<tspan font-size="4.76" baseline-shift="2.66">-1</tspan></text>
<text font-size="7" text-anchor="start" fill="#2464cc" stroke="#2464cc" stroke-width="0.28" font-weight="bold" transform="translate(77 230.01) scale(1 1)">S<tspan font-size="4.76" baseline-shift="-1.4">BET</tspan>= 19.1 m<tspan font-size="4.76" baseline-shift="2.66">2</tspan> g<tspan font-size="4.76" baseline-shift="2.66">-1</tspan></text>
<line x1="108" y1="186.7" x2="116" y2="192" stroke="#ff3c3c" stroke-width="0.7" />
<line x1="122" y1="228" x2="131" y2="234" stroke="#2464cc" stroke-width="0.7" />
<rect x="28.5" y="146.5" width="149" height="98" fill="none" stroke="#363636" stroke-width="1.15"/>
<line x1="35.2" y1="244.5" x2="35.2" y2="246.5" stroke="#363636" stroke-width="0.9" />
<line x1="62.36" y1="244.5" x2="62.36" y2="246.5" stroke="#363636" stroke-width="0.9" />
<line x1="89.52" y1="244.5" x2="89.52" y2="246.5" stroke="#363636" stroke-width="0.9" />
<line x1="116.68" y1="244.5" x2="116.68" y2="246.5" stroke="#363636" stroke-width="0.9" />
<line x1="143.84" y1="244.5" x2="143.84" y2="246.5" stroke="#363636" stroke-width="0.9" />
<line x1="171" y1="244.5" x2="171" y2="246.5" stroke="#363636" stroke-width="0.9" />
<line x1="48.78" y1="244.5" x2="48.78" y2="245.7" stroke="#363636" stroke-width="0.8" />
<line x1="75.94" y1="244.5" x2="75.94" y2="245.7" stroke="#363636" stroke-width="0.8" />
<line x1="103.1" y1="244.5" x2="103.1" y2="245.7" stroke="#363636" stroke-width="0.8" />
<line x1="130.26" y1="244.5" x2="130.26" y2="245.7" stroke="#363636" stroke-width="0.8" />
<line x1="157.42" y1="244.5" x2="157.42" y2="245.7" stroke="#363636" stroke-width="0.8" />
<text font-size="7" text-anchor="middle" fill="#161616" stroke="#161616" stroke-width="0.28" font-weight="bold" transform="translate(35.2 253.81) scale(1 1)">0.0</text>
<text font-size="7" text-anchor="middle" fill="#161616" stroke="#161616" stroke-width="0.28" font-weight="bold" transform="translate(62.36 253.81) scale(1 1)">0.2</text>
<text font-size="7" text-anchor="middle" fill="#161616" stroke="#161616" stroke-width="0.28" font-weight="bold" transform="translate(89.52 253.81) scale(1 1)">0.4</text>
<text font-size="7" text-anchor="middle" fill="#161616" stroke="#161616" stroke-width="0.28" font-weight="bold" transform="translate(116.68 253.81) scale(1 1)">0.6</text>
<text font-size="7" text-anchor="middle" fill="#161616" stroke="#161616" stroke-width="0.28" font-weight="bold" transform="translate(143.84 253.81) scale(1 1)">0.8</text>
<text font-size="7" text-anchor="middle" fill="#161616" stroke="#161616" stroke-width="0.28" font-weight="bold" transform="translate(171 253.81) scale(1 1)">1.0</text>
<line x1="28.5" y1="238.7" x2="26.5" y2="238.7" stroke="#363636" stroke-width="0.9" />
<line x1="28.5" y1="201.8" x2="26.5" y2="201.8" stroke="#363636" stroke-width="0.9" />
<line x1="28.5" y1="164.9" x2="26.5" y2="164.9" stroke="#363636" stroke-width="0.9" />
<line x1="28.5" y1="220.25" x2="27.3" y2="220.25" stroke="#363636" stroke-width="0.8" />
<line x1="28.5" y1="183.35" x2="27.3" y2="183.35" stroke="#363636" stroke-width="0.8" />
<text font-size="7" text-anchor="end" fill="#161616" stroke="#161616" stroke-width="0.28" font-weight="bold" transform="translate(25 241.01) scale(1 1)">0</text>
<text font-size="7" text-anchor="end" fill="#161616" stroke="#161616" stroke-width="0.28" font-weight="bold" transform="translate(25 204.11) scale(1 1)">200</text>
<text font-size="7" text-anchor="end" fill="#161616" stroke="#161616" stroke-width="0.28" font-weight="bold" transform="translate(25 167.21) scale(1 1)">400</text>
<text font-size="9.2" text-anchor="middle" fill="#161616" stroke="#161616" stroke-width="0.28" font-weight="bold" transform="translate(103.6 269) scale(1 1)">Relative pressure / P P<tspan font-size="6.26" baseline-shift="-1.84">0</tspan><tspan font-size="6.26" baseline-shift="3.5">-1</tspan></text>
<text font-size="9.2" text-anchor="middle" fill="#161616" stroke="#161616" stroke-width="0.28" font-weight="bold" transform="translate(11.71 195.3) rotate(-90)">Volume adsorbed / cm<tspan font-size="6.26" baseline-shift="3.5">3</tspan> g<tspan font-size="6.26" baseline-shift="3.5">-1</tspan></text>
<path d="M221.4 183 223.9 190.4 225.3 189.6 226.4 186.4 228.2 188.2 230.1 185.3 231.9 182.3 234.1 181.6 237 177.2 239.9 169.9 243.3 163 247.2 167 252 167.4 257.4 157.8 264 165.5 272 163 280.4 165.3 290.1 175 301.8 179.4 316.1 183.4 333.2 187.4 352.2 188.5" fill="none" stroke="#ff3c3c" stroke-width="1" stroke-linejoin="round" />
<circle cx="221.4" cy="183" r="1.3" fill="#ff3c3c"/>
<circle cx="223.9" cy="190.4" r="1.3" fill="#ff3c3c"/>
<circle cx="225.3" cy="189.6" r="1.3" fill="#ff3c3c"/>
<circle cx="226.4" cy="186.4" r="1.3" fill="#ff3c3c"/>
<circle cx="228.2" cy="188.2" r="1.3" fill="#ff3c3c"/>
<circle cx="230.1" cy="185.3" r="1.3" fill="#ff3c3c"/>
<circle cx="231.9" cy="182.3" r="1.3" fill="#ff3c3c"/>
<circle cx="234.1" cy="181.6" r="1.3" fill="#ff3c3c"/>
<circle cx="237" cy="177.2" r="1.3" fill="#ff3c3c"/>
<circle cx="239.9" cy="169.9" r="1.3" fill="#ff3c3c"/>
<circle cx="243.3" cy="163" r="1.3" fill="#ff3c3c"/>
<circle cx="247.2" cy="167" r="1.3" fill="#ff3c3c"/>
<circle cx="252" cy="167.4" r="1.3" fill="#ff3c3c"/>
<circle cx="257.4" cy="157.8" r="1.3" fill="#ff3c3c"/>
<circle cx="264" cy="165.5" r="1.3" fill="#ff3c3c"/>
<circle cx="272" cy="163" r="1.3" fill="#ff3c3c"/>
<circle cx="280.4" cy="165.3" r="1.3" fill="#ff3c3c"/>
<circle cx="290.1" cy="175" r="1.3" fill="#ff3c3c"/>
<circle cx="301.8" cy="179.4" r="1.3" fill="#ff3c3c"/>
<circle cx="316.1" cy="183.4" r="1.3" fill="#ff3c3c"/>
<circle cx="333.2" cy="187.4" r="1.3" fill="#ff3c3c"/>
<circle cx="352.2" cy="188.5" r="1.3" fill="#ff3c3c"/>
<path d="M225.3 243.3 227.5 243.3 228.7 239.6 229.7 238.9 231.2 240.4 231.9 243.3 232.6 238.2 233.4 243.3 234.5 230.9 236 229.1 237 238.9 239.2 238.2 241.4 236 243.3 238.9 245 236.4 247.2 235.3 249.4 233.1 252.3 230.9 256 230.9 259.6 228.7 264 223.3 268.4 218.9 273.5 215.3 279.3 212.6 285.2 209.4 291.6 204.3 298.4 208.2 305.7 204.6 314.9 223.3 330.3 233.4 358.3 240.4" fill="none" stroke="#2464cc" stroke-width="1" stroke-linejoin="round" />
<circle cx="225.3" cy="243.3" r="1.3" fill="#2464cc"/>
<circle cx="227.5" cy="243.3" r="1.3" fill="#2464cc"/>
<circle cx="228.7" cy="239.6" r="1.3" fill="#2464cc"/>
<circle cx="229.7" cy="238.9" r="1.3" fill="#2464cc"/>
<circle cx="231.2" cy="240.4" r="1.3" fill="#2464cc"/>
<circle cx="231.9" cy="243.3" r="1.3" fill="#2464cc"/>
<circle cx="232.6" cy="238.2" r="1.3" fill="#2464cc"/>
<circle cx="233.4" cy="243.3" r="1.3" fill="#2464cc"/>
<circle cx="234.5" cy="230.9" r="1.3" fill="#2464cc"/>
<circle cx="236" cy="229.1" r="1.3" fill="#2464cc"/>
<circle cx="237" cy="238.9" r="1.3" fill="#2464cc"/>
<circle cx="239.2" cy="238.2" r="1.3" fill="#2464cc"/>
<circle cx="241.4" cy="236" r="1.3" fill="#2464cc"/>
<circle cx="243.3" cy="238.9" r="1.3" fill="#2464cc"/>
<circle cx="245" cy="236.4" r="1.3" fill="#2464cc"/>
<circle cx="247.2" cy="235.3" r="1.3" fill="#2464cc"/>
<circle cx="249.4" cy="233.1" r="1.3" fill="#2464cc"/>
<circle cx="252.3" cy="230.9" r="1.3" fill="#2464cc"/>
<circle cx="256" cy="230.9" r="1.3" fill="#2464cc"/>
<circle cx="259.6" cy="228.7" r="1.3" fill="#2464cc"/>
<circle cx="264" cy="223.3" r="1.3" fill="#2464cc"/>
<circle cx="268.4" cy="218.9" r="1.3" fill="#2464cc"/>
<circle cx="273.5" cy="215.3" r="1.3" fill="#2464cc"/>
<circle cx="279.3" cy="212.6" r="1.3" fill="#2464cc"/>
<circle cx="285.2" cy="209.4" r="1.3" fill="#2464cc"/>
<circle cx="291.6" cy="204.3" r="1.3" fill="#2464cc"/>
<circle cx="298.4" cy="208.2" r="1.3" fill="#2464cc"/>
<circle cx="305.7" cy="204.6" r="1.3" fill="#2464cc"/>
<circle cx="314.9" cy="223.3" r="1.3" fill="#2464cc"/>
<circle cx="330.3" cy="233.4" r="1.3" fill="#2464cc"/>
<circle cx="358.3" cy="240.4" r="1.3" fill="#2464cc"/>
<line x1="221.4" y1="175.5" x2="221.4" y2="181.5" stroke="#111" stroke-width="0.8" />
<polygon points="221.4,181.5 220.5,179.49 222.3,179.49" fill="#111"/>
<line x1="257.4" y1="148.5" x2="257.4" y2="155.5" stroke="#111" stroke-width="0.8" />
<polygon points="257.4,155.5 256.5,153.49 258.3,153.49" fill="#111"/>
<line x1="291.6" y1="197.5" x2="291.6" y2="202.8" stroke="#111" stroke-width="0.8" />
<polygon points="291.6,202.8 290.7,200.79 292.5,200.79" fill="#111"/>
<line x1="321.5" y1="151.4" x2="334.6" y2="151.4" stroke="#ff3c3c" stroke-width="1" />
<circle cx="328" cy="151.4" r="1.1" fill="#ff3c3c"/>
<text font-size="6" text-anchor="start" fill="#161616" stroke="#161616" stroke-width="0.28" font-weight="bold" transform="translate(336.8 153.38) scale(1 1)">ZPNiIn</text>
<line x1="326.6" y1="203.9" x2="339.7" y2="203.9" stroke="#2464cc" stroke-width="1" />
<circle cx="333.2" cy="203.9" r="1.1" fill="#2464cc"/>
<text font-size="6.2" text-anchor="start" fill="#161616" stroke="#161616" stroke-width="0.28" font-weight="bold" transform="translate(341.2 205.95) scale(1 1)">In<tspan font-size="4.22" baseline-shift="-1.24">2</tspan>O<tspan font-size="4.22" baseline-shift="-1.24">3</tspan></text>
<rect x="215.5" y="145.5" width="148" height="100" fill="none" stroke="#363636" stroke-width="1.15"/>
<line x1="215.5" y1="195.5" x2="363.5" y2="195.5" stroke="#363636" stroke-width="1.1" />
<line x1="215.5" y1="245.5" x2="215.5" y2="247.5" stroke="#363636" stroke-width="0.9" />
<line x1="242" y1="245.5" x2="242" y2="247.5" stroke="#363636" stroke-width="0.9" />
<line x1="268.5" y1="245.5" x2="268.5" y2="247.5" stroke="#363636" stroke-width="0.9" />
<line x1="295" y1="245.5" x2="295" y2="247.5" stroke="#363636" stroke-width="0.9" />
<line x1="321.5" y1="245.5" x2="321.5" y2="247.5" stroke="#363636" stroke-width="0.9" />
<line x1="348" y1="245.5" x2="348" y2="247.5" stroke="#363636" stroke-width="0.9" />
<line x1="228.75" y1="245.5" x2="228.75" y2="246.7" stroke="#363636" stroke-width="0.8" />
<line x1="255.25" y1="245.5" x2="255.25" y2="246.7" stroke="#363636" stroke-width="0.8" />
<line x1="281.75" y1="245.5" x2="281.75" y2="246.7" stroke="#363636" stroke-width="0.8" />
<line x1="308.25" y1="245.5" x2="308.25" y2="246.7" stroke="#363636" stroke-width="0.8" />
<line x1="334.75" y1="245.5" x2="334.75" y2="246.7" stroke="#363636" stroke-width="0.8" />
<line x1="361.25" y1="245.5" x2="361.25" y2="246.7" stroke="#363636" stroke-width="0.8" />
<text font-size="6.2" text-anchor="middle" fill="#161616" stroke="#161616" stroke-width="0.28" font-weight="bold" transform="translate(215.5 254.55) scale(1 1)">0</text>
<text font-size="6.2" text-anchor="middle" fill="#161616" stroke="#161616" stroke-width="0.28" font-weight="bold" transform="translate(242 254.55) scale(1 1)">5</text>
<text font-size="6.2" text-anchor="middle" fill="#161616" stroke="#161616" stroke-width="0.28" font-weight="bold" transform="translate(268.5 254.55) scale(1 1)">10</text>
<text font-size="6.2" text-anchor="middle" fill="#161616" stroke="#161616" stroke-width="0.28" font-weight="bold" transform="translate(295 254.55) scale(1 1)">15</text>
<text font-size="6.2" text-anchor="middle" fill="#161616" stroke="#161616" stroke-width="0.28" font-weight="bold" transform="translate(321.5 254.55) scale(1 1)">20</text>
<text font-size="6.2" text-anchor="middle" fill="#161616" stroke="#161616" stroke-width="0.28" font-weight="bold" transform="translate(348 254.55) scale(1 1)">25</text>
<line x1="215.5" y1="157.2" x2="213.5" y2="157.2" stroke="#363636" stroke-width="0.9" />
<line x1="215.5" y1="174.3" x2="213.5" y2="174.3" stroke="#363636" stroke-width="0.9" />
<line x1="215.5" y1="191.1" x2="213.5" y2="191.1" stroke="#363636" stroke-width="0.9" />
<line x1="215.5" y1="195.4" x2="213.5" y2="195.4" stroke="#363636" stroke-width="0.9" />
<line x1="215.5" y1="219.2" x2="213.5" y2="219.2" stroke="#363636" stroke-width="0.9" />
<line x1="215.5" y1="243.3" x2="213.5" y2="243.3" stroke="#363636" stroke-width="0.9" />
<line x1="215.5" y1="207.2" x2="214.3" y2="207.2" stroke="#363636" stroke-width="0.8" />
<line x1="215.5" y1="231.6" x2="214.3" y2="231.6" stroke="#363636" stroke-width="0.8" />
<text font-size="6.3" text-anchor="end" fill="#161616" stroke="#161616" stroke-width="0.28" font-weight="bold" transform="translate(212.3 159.28) scale(1 1)">0.0124</text>
<text font-size="6.3" text-anchor="end" fill="#161616" stroke="#161616" stroke-width="0.28" font-weight="bold" transform="translate(212.3 176.38) scale(1 1)">0.0062</text>
<text font-size="6.3" text-anchor="end" fill="#161616" stroke="#161616" stroke-width="0.28" font-weight="bold" transform="translate(212.3 192.68) scale(1 1)">0.0000</text>
<text font-size="6.3" text-anchor="end" fill="#161616" stroke="#161616" stroke-width="0.28" font-weight="bold" transform="translate(212.3 197.68) scale(1 1)">0.002</text>
<text font-size="6.3" text-anchor="end" fill="#161616" stroke="#161616" stroke-width="0.28" font-weight="bold" transform="translate(212.3 221.28) scale(1 1)">0.001</text>
<text font-size="6.3" text-anchor="end" fill="#161616" stroke="#161616" stroke-width="0.28" font-weight="bold" transform="translate(212.3 244.88) scale(1 1)">0.000</text>
<text font-size="8.4" text-anchor="middle" fill="#161616" stroke="#161616" stroke-width="0.28" font-weight="bold" transform="translate(289.6 264.8) scale(1 1)">Pore diameter / nm</text>
<text font-size="8.2" text-anchor="middle" fill="#161616" stroke="#161616" stroke-width="0.28" font-weight="bold" transform="translate(190.95 192.7) rotate(-90)">dV/dD / (cm<tspan font-size="5.58" baseline-shift="3.12">3</tspan> g<tspan font-size="5.58" baseline-shift="3.12">-1</tspan> nm<tspan font-size="5.58" baseline-shift="3.12">-1</tspan>)</text>
<path d="M394.1 167 394.6 167.1 395.1 166.8 395.6 166.5 396.1 166.5 396.6 166.9 397.1 167 397.6 166.5 398.1 166.6 398.6 166.9 399.1 166.9 399.6 167 400.1 166.6 400.6 166.5 401.1 166.8 401.6 166.8 402.1 166.9 402.6 166.9 403.1 166.9 403.6 166.8 404.1 166.3 404.6 166.7 405.1 167.2 405.6 167 406.1 166.9 406.6 166.7 407.1 166.4 407.6 166.6 408.1 167.2 408.6 167.2 409.1 166.4 409.6 165.9 410.1 166.2 410.6 166.9 411.1 166.8 411.6 166.7 412.1 166.6 412.6 166.8 413.1 167.1 413.6 166.5 414.1 166.3 414.6 166.8 415.1 166.9 415.6 166.2 416.1 166.1 416.6 166.5 417.1 165.9 417.6 166.1 418.1 166.9 418.6 166.7 419.1 166.2 419.6 166.2 420.1 166.2 420.6 166.2 421.1 166.3 421.6 165.9 422.1 165.6 422.6 166.2 423.1 166.1 423.6 165.6 424.1 165.6 424.6 165.2 425.1 164.6 425.6 165.1 426.1 165.1 426.6 164.2 427.1 164.1 427.6 164 428.1 163.3 428.6 163 429.1 162.6 429.6 162.2 430.1 162.3 430.6 162.2 431.1 161.6 431.6 161.6 432.1 161.5 432.6 160.8 433.1 160.1 433.6 159.8 434.1 160.1 434.6 159.8 435.1 159.8 435.6 159.8 436.1 159 436.6 158.8 437.1 159.4 437.6 159.3 438.1 159.2 438.6 159.5 439.1 159.4 439.6 159.6 440.1 160.2 440.6 160.4 441.1 159.9 441.6 160.1 442.1 160.9 442.6 161.3 443.1 161.8 443.6 162 444.1 162 444.6 161.8 445.1 161.9 445.6 162.9 446.1 163.2 446.6 163.2 447.1 163.4 447.6 163.6 448.1 164 448.6 164.4 449.1 164.9 449.6 165.1 450.1 164.9 450.6 165 451.1 165.7 451.6 165.2 452.1 165 452.6 165.8 453.1 166.2 453.6 166.4 454.1 166.5 454.6 166.5 455.1 166.6 455.6 166.5 456.1 166.4 456.6 166.2 457.1 166.2 457.6 166.4 458.1 166.8 458.6 166.6 459.1 166.4 459.6 166.6 460.1 166.5 460.6 166.8 461.1 166.8 461.6 166.4 462.1 166.4 462.6 166.8 463.1 166.9 463.6 166.8 464.1 166.5 464.6 166.5 465.1 166.7 465.6 166.3 466.1 166.4 466.6 166.4 467.1 166.4 467.6 167 468.1 166.8 468.6 166.3 469.1 166.7 469.6 167 470.1 166.9 470.6 166.4 471.1 166 471.6 166.8 472.1 166.8 472.6 166.3 473.1 166.5 473.6 166.7 474.1 166.6 474.6 166 475.1 166.2 475.6 166.5 476.1 166.5 476.6 167 477.1 166.6 477.6 166.4 478.1 166.9 478.6 167.2 479.1 167.1 479.6 166.6 480.1 166.4 480.6 166.3 481.1 166.5 481.6 166.8 482.1 166.7 482.6 166 483.1 165.5 483.6 165.9 484.1 165.8 484.6 165.6 485.1 165.6 485.6 165.6 486.1 165.8 486.6 165.7 487.1 165 487.6 164.8 488.1 164.8 488.6 164.8 489.1 164.2 489.6 163.2 490.1 163 490.6 163.2 491.1 162.9 491.6 162.5 492.1 162.2 492.6 161.8 493.1 161.4 493.6 161.1 494.1 160.9 494.6 160.5 495.1 160 495.6 159.5 496.1 158.9 496.6 158.4 497.1 157.8 497.6 157.6 498.1 157.6 498.6 157.5 499.1 157.4 499.6 157.2 500.1 157.3 500.6 156.8 501.1 156 501.6 155.8 502.1 156.2 502.6 156.3 503.1 156.4 503.6 156.4 504.1 156.3 504.6 156.8 505.1 157.2 505.6 157.3 506.1 157.5 506.6 157.9 507.1 158.2 507.6 158.7 508.1 158.9 508.6 159.8 509.1 160.4 509.6 160 510.1 160 510.6 160.4 511.1 161.3 511.6 161.8 512.1 162.3 512.6 162.7 513.1 162.6 513.6 163 514.1 163.4 514.6 163.7 515.1 163.9 515.6 164.1 516.1 164.2 516.6 164.5 517.1 165.1 517.6 165.2 518.1 165.2 518.6 165.4 519.1 165.7 519.6 165.5 520.1 165.8 520.6 166.2 521.1 166.2 521.6 166.6 522.1 166.3 522.6 165.8 523.1 165.9 523.6 166.2 524.1 166.2 524.6 166 525.1 166.6 525.6 166.8 526.1 166.5 526.6 166.8 527.1 167 527.6 166.5 528.1 166.3 528.6 166.7 529.1 166.9 529.6 166.6 530.1 166.3 530.6 166.5 531.1 166.6 531.6 166.5 532.1 166.3 532.6 166.4 533.1 166.4 533.6 166.5 534.1 166.4 534.6 166.2 535.1 166.2 535.6 166.4 536.1 166.7 536.6 166.7 537.1 166 537.6 166.5 538.1 167.2 538.6 166.9" fill="none" stroke="#ff3c3c" stroke-width="1.1" stroke-linejoin="round" />
<path d="M394.1 192.4 394.6 192.4 395.1 192.5 395.6 192.4 396.1 192.3 396.6 192.5 397.1 192.7 397.6 192.6 398.1 192.5 398.6 192.5 399.1 192.3 399.6 192.1 400.1 192.4 400.6 192.4 401.1 192.2 401.6 192.5 402.1 192.4 402.6 192.3 403.1 192.6 403.6 192.7 404.1 192.6 404.6 192.4 405.1 192.5 405.6 192.6 406.1 192.5 406.6 192.3 407.1 192.1 407.6 192.2 408.1 192.4 408.6 192.2 409.1 192.3 409.6 192.5 410.1 192.4 410.6 192.3 411.1 192.4 411.6 192.5 412.1 192.4 412.6 192.4 413.1 192.5 413.6 192.3 414.1 192.3 414.6 192.4 415.1 192.6 415.6 192.7 416.1 192.3 416.6 192.1 417.1 192.4 417.6 192.6 418.1 192.4 418.6 192.3 419.1 192.6 419.6 192.4 420.1 192.3 420.6 192.7 421.1 192.5 421.6 192.3 422.1 192.4 422.6 192.4 423.1 192.3 423.6 192.4 424.1 192.2 424.6 192 425.1 192 425.6 191.8 426.1 191.6 426.6 191.6 427.1 191.2 427.6 190.9 428.1 190.8 428.6 190.3 429.1 190 429.6 189.8 430.1 189.5 430.6 189 431.1 188.5 431.6 188.3 432.1 187.7 432.6 187.1 433.1 186.6 433.6 186 434.1 185.3 434.6 184.8 435.1 184.5 435.6 184 436.1 183.6 436.6 182.9 437.1 182.6 437.6 182.5 438.1 182.2 438.6 181.9 439.1 181.6 439.6 181.7 440.1 181.7 440.6 181.8 441.1 182.1 441.6 182.2 442.1 182.5 442.6 182.8 443.1 183.4 443.6 183.8 444.1 184.3 444.6 184.9 445.1 185.5 445.6 186.1 446.1 186.5 446.6 187 447.1 187.6 447.6 188.1 448.1 188.6 448.6 189.3 449.1 189.9 449.6 190.1 450.1 190.3 450.6 190.8 451.1 191.2 451.6 191.5 452.1 191.6 452.6 191.7 453.1 191.9 453.6 191.6 454.1 191.9 454.6 192.2 455.1 192.3 455.6 192.5 456.1 192.6 456.6 192.5 457.1 192.3 457.6 192.6 458.1 192.9 458.6 192.8 459.1 192.5 459.6 192.6 460.1 193.1 460.6 193 461.1 192.7 461.6 192.6 462.1 192.7 462.6 192.8 463.1 192.6 463.6 192.5 464.1 192.8 464.6 192.8 465.1 192.7 465.6 192.9 466.1 193 466.6 192.7 467.1 192.7 467.6 192.8 468.1 192.5 468.6 192.6 469.1 192.7 469.6 192.6 470.1 192.9 470.6 193 471.1 192.9 471.6 192.9 472.1 192.9 472.6 192.9 473.1 193 473.6 192.9 474.1 192.9 474.6 193 475.1 192.8 475.6 192.9 476.1 192.9 476.6 192.8 477.1 192.9 477.6 192.9 478.1 192.9 478.6 193 479.1 192.9 479.6 192.8 480.1 192.9 480.6 192.9 481.1 192.9 481.6 192.9 482.1 192.8 482.6 192.8 483.1 192.9 483.6 193 484.1 192.7 484.6 192.5 485.1 192.6 485.6 192.6 486.1 192.5 486.6 192.6 487.1 192.7 487.6 192.4 488.1 192 488.6 192 489.1 192 489.6 191.6 490.1 191.3 490.6 191.2 491.1 190.9 491.6 190.5 492.1 190 492.6 189.6 493.1 189.1 493.6 188.6 494.1 188 494.6 187.3 495.1 186.5 495.6 185.8 496.1 185.1 496.6 184.2 497.1 183.4 497.6 182.8 498.1 181.9 498.6 180.7 499.1 179.9 499.6 179.2 500.1 178.6 500.6 177.8 501.1 177 501.6 176.9 502.1 176.5 502.6 176.2 503.1 176.3 503.6 175.9 504.1 175.8 504.6 176.3 505.1 176.5 505.6 176.9 506.1 177.3 506.6 177.9 507.1 178.7 507.6 179.4 508.1 179.8 508.6 180.7 509.1 181.7 509.6 182.6 510.1 183.3 510.6 184.1 511.1 185.1 511.6 185.8 512.1 186.2 512.6 187.1 513.1 187.8 513.6 188.5 514.1 189 514.6 189.4 515.1 190 515.6 190.5 516.1 190.8 516.6 191.3 517.1 191.6 517.6 191.8 518.1 192 518.6 192.1 519.1 192.3 519.6 192.5 520.1 192.7 520.6 192.8 521.1 192.9 521.6 193 522.1 193.2 522.6 193.1 523.1 193 523.6 193.2 524.1 193.2 524.6 193.3 525.1 193.2 525.6 193.1 526.1 193.2 526.6 193.3 527.1 193.1 527.6 193 528.1 193.1 528.6 193.2 529.1 193.2 529.6 193.1 530.1 193.1 530.6 193.2 531.1 193.1 531.6 193 532.1 193.2 532.6 193.2 533.1 193.3 533.6 193 534.1 193.1 534.6 193.5 535.1 193.5 535.6 193.5 536.1 193.5 536.6 193.4 537.1 193.5 537.6 193.3 538.1 193.1 538.6 193.2" fill="none" stroke="#18938f" stroke-width="1.3" stroke-linejoin="round" />
<path d="M394.1 218.4 394.6 218.4 395.1 218.5 395.6 218.5 396.1 218.4 396.6 218.4 397.1 218.4 397.6 218.4 398.1 218.4 398.6 218.4 399.1 218.4 399.6 218.4 400.1 218.4 400.6 218.4 401.1 218.5 401.6 218.5 402.1 218.5 402.6 218.4 403.1 218.5 403.6 218.5 404.1 218.5 404.6 218.5 405.1 218.5 405.6 218.5 406.1 218.5 406.6 218.6 407.1 218.6 407.6 218.6 408.1 218.6 408.6 218.6 409.1 218.5 409.6 218.5 410.1 218.6 410.6 218.6 411.1 218.6 411.6 218.5 412.1 218.6 412.6 218.6 413.1 218.6 413.6 218.6 414.1 218.6 414.6 218.6 415.1 218.6 415.6 218.6 416.1 218.6 416.6 218.7 417.1 218.6 417.6 218.7 418.1 218.7 418.6 218.6 419.1 218.6 419.6 218.6 420.1 218.6 420.6 218.6 421.1 218.6 421.6 218.6 422.1 218.6 422.6 218.6 423.1 218.6 423.6 218.5 424.1 218.5 424.6 218.5 425.1 218.3 425.6 218.2 426.1 218.1 426.6 217.9 427.1 217.8 427.6 217.6 428.1 217.3 428.6 217 429.1 216.8 429.6 216.4 430.1 216 430.6 215.6 431.1 215.1 431.6 214.6 432.1 214.1 432.6 213.5 433.1 212.9 433.6 212.2 434.1 211.6 434.6 210.9 435.1 210.3 435.6 209.6 436.1 208.9 436.6 208.4 437.1 207.8 437.6 207.2 438.1 206.8 438.6 206.5 439.1 206.2 439.6 205.9 440.1 205.9 440.6 205.9 441.1 205.9 441.6 206.1 442.1 206.4 442.6 206.8 443.1 207.2 443.6 207.7 444.1 208.3 444.6 208.9 445.1 209.5 445.6 210.2 446.1 210.8 446.6 211.5 447.1 212.2 447.6 212.9 448.1 213.5 448.6 214.1 449.1 214.7 449.6 215.2 450.1 215.7 450.6 216.2 451.1 216.5 451.6 216.9 452.1 217.3 452.6 217.5 453.1 217.8 453.6 218 454.1 218.2 454.6 218.3 455.1 218.5 455.6 218.6 456.1 218.7 456.6 218.7 457.1 218.8 457.6 218.9 458.1 218.9 458.6 219 459.1 219 459.6 219 460.1 219.1 460.6 219 461.1 219 461.6 219 462.1 219.1 462.6 219.1 463.1 219.1 463.6 219.1 464.1 219 464.6 219.1 465.1 219 465.6 219 466.1 219.1 466.6 219.1 467.1 219.1 467.6 219.1 468.1 219 468.6 219.1 469.1 219.2 469.6 219.2 470.1 219.2 470.6 219.2 471.1 219.1 471.6 219.1 472.1 219.1 472.6 219.2 473.1 219.2 473.6 219.2 474.1 219.1 474.6 219.2 475.1 219.2 475.6 219.2 476.1 219.2 476.6 219.2 477.1 219.2 477.6 219.2 478.1 219.2 478.6 219.2 479.1 219.2 479.6 219.3 480.1 219.3 480.6 219.2 481.1 219.3 481.6 219.2 482.1 219.3 482.6 219.3 483.1 219.2 483.6 219.2 484.1 219.3 484.6 219.3 485.1 219.2 485.6 219.2 486.1 219.1 486.6 219.1 487.1 219.1 487.6 219.1 488.1 219 488.6 219 489.1 218.9 489.6 218.7 490.1 218.6 490.6 218.4 491.1 218.2 491.6 218 492.1 217.8 492.6 217.4 493.1 217 493.6 216.6 494.1 216.2 494.6 215.7 495.1 215.1 495.6 214.4 496.1 213.7 496.6 212.9 497.1 212.1 497.6 211.2 498.1 210.3 498.6 209.3 499.1 208.3 499.6 207.3 500.1 206.3 500.6 205.3 501.1 204.3 501.6 203.4 502.1 202.6 502.6 201.8 503.1 201.2 503.6 200.6 504.1 200.1 504.6 199.8 505.1 199.5 505.6 199.4 506.1 199.5 506.6 199.8 507.1 200.2 507.6 200.6 508.1 201.2 508.6 201.9 509.1 202.6 509.6 203.5 510.1 204.5 510.6 205.4 511.1 206.3 511.6 207.4 512.1 208.4 512.6 209.4 513.1 210.4 513.6 211.3 514.1 212.2 514.6 213.1 515.1 213.8 515.6 214.6 516.1 215.3 516.6 215.9 517.1 216.4 517.6 216.9 518.1 217.3 518.6 217.7 519.1 218 519.6 218.3 520.1 218.5 520.6 218.7 521.1 218.9 521.6 219 522.1 219.2 522.6 219.3 523.1 219.4 523.6 219.5 524.1 219.5 524.6 219.5 525.1 219.6 525.6 219.6 526.1 219.6 526.6 219.6 527.1 219.7 527.6 219.7 528.1 219.6 528.6 219.7 529.1 219.7 529.6 219.7 530.1 219.7 530.6 219.8 531.1 219.7 531.6 219.7 532.1 219.7 532.6 219.7 533.1 219.7 533.6 219.7 534.1 219.8 534.6 219.8 535.1 219.8 535.6 219.8 536.1 219.8 536.6 219.8 537.1 219.8 537.6 219.8 538.1 219.8 538.6 219.8" fill="none" stroke="#555555" stroke-width="1.2" stroke-linejoin="round" />
<path d="M394.1 242.4 394.6 242.4 395.1 242.4 395.6 242.4 396.1 242.4 396.6 242.4 397.1 242.4 397.6 242.4 398.1 242.4 398.6 242.5 399.1 242.4 399.6 242.4 400.1 242.4 400.6 242.4 401.1 242.4 401.6 242.5 402.1 242.5 402.6 242.5 403.1 242.5 403.6 242.5 404.1 242.5 404.6 242.5 405.1 242.5 405.6 242.5 406.1 242.5 406.6 242.4 407.1 242.5 407.6 242.5 408.1 242.5 408.6 242.5 409.1 242.5 409.6 242.5 410.1 242.5 410.6 242.5 411.1 242.5 411.6 242.5 412.1 242.5 412.6 242.5 413.1 242.5 413.6 242.5 414.1 242.5 414.6 242.5 415.1 242.5 415.6 242.5 416.1 242.6 416.6 242.5 417.1 242.5 417.6 242.5 418.1 242.5 418.6 242.5 419.1 242.6 419.6 242.6 420.1 242.5 420.6 242.5 421.1 242.5 421.6 242.6 422.1 242.6 422.6 242.5 423.1 242.5 423.6 242.5 424.1 242.4 424.6 242.4 425.1 242.4 425.6 242.3 426.1 242.3 426.6 242.2 427.1 242.1 427.6 241.9 428.1 241.8 428.6 241.6 429.1 241.3 429.6 241.1 430.1 240.8 430.6 240.4 431.1 240 431.6 239.6 432.1 239.1 432.6 238.6 433.1 238 433.6 237.4 434.1 236.7 434.6 236 435.1 235.3 435.6 234.6 436.1 233.9 436.6 233.4 437.1 232.8 437.6 232.2 438.1 231.7 438.6 231.3 439.1 231 439.6 230.8 440.1 230.7 440.6 230.6 441.1 230.7 441.6 230.9 442.1 231.3 442.6 231.7 443.1 232.1 443.6 232.7 444.1 233.3 444.6 233.9 445.1 234.6 445.6 235.3 446.1 236 446.6 236.6 447.1 237.3 447.6 237.9 448.1 238.5 448.6 239.1 449.1 239.6 449.6 240 450.1 240.4 450.6 240.8 451.1 241.1 451.6 241.4 452.1 241.7 452.6 241.9 453.1 242.1 453.6 242.2 454.1 242.3 454.6 242.4 455.1 242.5 455.6 242.5 456.1 242.6 456.6 242.7 457.1 242.7 457.6 242.7 458.1 242.7 458.6 242.7 459.1 242.7 459.6 242.8 460.1 242.8 460.6 242.8 461.1 242.7 461.6 242.8 462.1 242.8 462.6 242.7 463.1 242.7 463.6 242.7 464.1 242.8 464.6 242.8 465.1 242.8 465.6 242.8 466.1 242.8 466.6 242.8 467.1 242.8 467.6 242.8 468.1 242.8 468.6 242.8 469.1 242.8 469.6 242.8 470.1 242.8 470.6 242.8 471.1 242.8 471.6 242.8 472.1 242.8 472.6 242.8 473.1 242.8 473.6 242.8 474.1 242.8 474.6 242.8 475.1 242.8 475.6 242.8 476.1 242.8 476.6 242.9 477.1 242.9 477.6 242.9 478.1 242.9 478.6 242.9 479.1 242.9 479.6 242.9 480.1 242.9 480.6 242.9 481.1 242.9 481.6 242.9 482.1 242.9 482.6 242.9 483.1 242.9 483.6 242.9 484.1 242.9 484.6 242.9 485.1 242.9 485.6 242.9 486.1 242.9 486.6 242.9 487.1 242.8 487.6 242.8 488.1 242.8 488.6 242.7 489.1 242.7 489.6 242.7 490.1 242.7 490.6 242.5 491.1 242.4 491.6 242.3 492.1 242.1 492.6 241.9 493.1 241.6 493.6 241.3 494.1 240.9 494.6 240.5 495.1 240.1 495.6 239.5 496.1 238.9 496.6 238.2 497.1 237.5 497.6 236.7 498.1 235.9 498.6 234.9 499.1 234.1 499.6 233.1 500.1 232 500.6 231.1 501.1 230.1 501.6 229.1 502.1 228.2 502.6 227.5 503.1 226.8 503.6 226.1 504.1 225.6 504.6 225.3 505.1 225.1 505.6 225 506.1 225.1 506.6 225.3 507.1 225.7 507.6 226.2 508.1 226.7 508.6 227.5 509.1 228.3 509.6 229.2 510.1 230.1 510.6 231.2 511.1 232.2 511.6 233.1 512.1 234.1 512.6 235 513.1 235.9 513.6 236.8 514.1 237.6 514.6 238.4 515.1 239.1 515.6 239.6 516.1 240.1 516.6 240.6 517.1 241 517.6 241.4 518.1 241.7 518.6 242 519.1 242.2 519.6 242.4 520.1 242.6 520.6 242.7 521.1 242.8 521.6 242.8 522.1 242.9 522.6 243 523.1 243 523.6 243 524.1 243.1 524.6 243.1 525.1 243.1 525.6 243.1 526.1 243.1 526.6 243.1 527.1 243.1 527.6 243.1 528.1 243.1 528.6 243.2 529.1 243.2 529.6 243.2 530.1 243.1 530.6 243.2 531.1 243.2 531.6 243.2 532.1 243.1 532.6 243.1 533.1 243.2 533.6 243.2 534.1 243.2 534.6 243.2 535.1 243.2 535.6 243.2 536.1 243.2 536.6 243.2 537.1 243.2 537.6 243.1 538.1 243.2 538.6 243.2" fill="none" stroke="#2b6fd6" stroke-width="1.5" stroke-linejoin="round" />
<line x1="440.4" y1="157" x2="440.4" y2="246" stroke="#222" stroke-width="0.9" stroke-dasharray="1.8 1.5"/>
<line x1="505.4" y1="155" x2="505.4" y2="246" stroke="#222" stroke-width="0.9" stroke-dasharray="1.8 1.5"/>
<text font-size="7.2" text-anchor="start" fill="#161616" stroke="#161616" stroke-width="0.28" font-weight="bold" transform="translate(430.9 155.18) scale(1 1)">In 3d<tspan font-size="4.9" baseline-shift="-1.44">3/2</tspan></text>
<text font-size="7.2" text-anchor="start" fill="#161616" stroke="#161616" stroke-width="0.28" font-weight="bold" transform="translate(493.5 152.58) scale(1 1)">In 3d<tspan font-size="4.9" baseline-shift="-1.44">5/2</tspan></text>
<text font-size="6.1" text-anchor="start" fill="#161616" stroke="#161616" stroke-width="0.28" font-weight="bold" transform="translate(521.2 151.01) scale(1 1)">In 3d</text>
<text font-size="6.1" text-anchor="end" fill="#161616" stroke="#161616" stroke-width="0.28" font-weight="bold" transform="translate(481 163.21) scale(1 1)">ZPNiIn</text>
<text font-size="6.3" text-anchor="end" fill="#161616" stroke="#161616" stroke-width="0.28" font-weight="bold" transform="translate(480.5 190.28) scale(1 1)">ZNiIn</text>
<text font-size="6.5" text-anchor="start" fill="#161616" stroke="#161616" stroke-width="0.28" font-weight="bold" transform="translate(465.7 215.84) scale(1 1)">NiIn</text>
<text font-size="6.5" text-anchor="start" fill="#161616" stroke="#161616" stroke-width="0.28" font-weight="bold" transform="translate(465.7 239.45) scale(1 1)">In<tspan font-size="4.42" baseline-shift="-1.3">2</tspan>O<tspan font-size="4.42" baseline-shift="-1.3">3</tspan></text>
<rect x="393.5" y="143.5" width="146" height="105" fill="none" stroke="#363636" stroke-width="1.15"/>
<line x1="411.2" y1="248.5" x2="411.2" y2="250.5" stroke="#363636" stroke-width="0.9" />
<line x1="453.5" y1="248.5" x2="453.5" y2="250.5" stroke="#363636" stroke-width="0.9" />
<line x1="495.8" y1="248.5" x2="495.8" y2="250.5" stroke="#363636" stroke-width="0.9" />
<line x1="538.1" y1="248.5" x2="538.1" y2="250.5" stroke="#363636" stroke-width="0.9" />
<line x1="432.35" y1="248.5" x2="432.35" y2="249.7" stroke="#363636" stroke-width="0.8" />
<line x1="474.65" y1="248.5" x2="474.65" y2="249.7" stroke="#363636" stroke-width="0.8" />
<line x1="516.95" y1="248.5" x2="516.95" y2="249.7" stroke="#363636" stroke-width="0.8" />
<text font-size="7" text-anchor="middle" fill="#161616" stroke="#161616" stroke-width="0.28" font-weight="bold" transform="translate(411.2 257.11) scale(1 1)">455</text>
<text font-size="7" text-anchor="middle" fill="#161616" stroke="#161616" stroke-width="0.28" font-weight="bold" transform="translate(453.5 257.11) scale(1 1)">450</text>
<text font-size="7" text-anchor="middle" fill="#161616" stroke="#161616" stroke-width="0.28" font-weight="bold" transform="translate(495.8 257.11) scale(1 1)">445</text>
<text font-size="7" text-anchor="middle" fill="#161616" stroke="#161616" stroke-width="0.28" font-weight="bold" transform="translate(538.1 257.11) scale(1 1)">440</text>
<text font-size="9.2" text-anchor="middle" fill="#161616" stroke="#161616" stroke-width="0.28" font-weight="bold" transform="translate(466.8 269.2) scale(1 1)">Binding energy / eV</text>
<text font-size="8.6" text-anchor="middle" fill="#161616" stroke="#161616" stroke-width="0.28" font-weight="bold" transform="translate(387.9 192.8) rotate(-90)">Intensity / a.u.</text>
<path d="M28.1 304.2 28.6 303.8 29.1 303.5 29.6 303.5 30.1 303.8 30.6 304.3 31.1 304.2 31.6 304.3 32.1 304.1 32.6 304.2 33.1 303.5 33.6 303.4 34.1 303.1 34.6 303.9 35.1 304.3 35.6 304.8 36.1 305.1 36.6 304.9 37.1 305 37.6 304.4 38.1 304.4 38.6 304 39.1 304 39.6 304.2 40.1 304.4 40.6 304.4 41.1 304.1 41.6 304.3 42.1 304.7 42.6 304.4 43.1 304.2 43.6 303.8 44.1 304.2 44.6 304.2 45.1 304.3 45.6 304.7 46.1 304.3 46.6 303.8 47.1 303.6 47.6 303.7 48.1 304.1 48.6 303.8 49.1 304.2 49.6 303.8 50.1 303.7 50.6 304.5 51.1 304.7 51.6 305.3 52.1 304.6 52.6 304.9 53.1 304.3 53.6 304.4 54.1 304.1 54.6 303.6 55.1 302.8 55.6 302.9 56.1 303.8 56.6 304.3 57.1 304 57.6 303.7 58.1 304.3 58.6 304.1 59.1 304.3 59.6 304.1 60.1 304 60.6 303.4 61.1 302.6 61.6 302.3 62.1 302.2 62.6 301.6 63.1 300.8 63.6 299.8 64.1 299.3 64.6 298.6 65.1 297.8 65.6 297.4 66.1 297.9 66.6 298.8 67.1 299.3 67.6 299.5 68.1 300.1 68.6 300.9 69.1 301.9 69.6 302.5 70.1 303.2 70.6 303.8 71.1 303.9 71.6 304.1 72.1 303.8 72.6 304.3 73.1 304.2 73.6 304.6 74.1 304.5 74.6 304.5 75.1 304.2 75.6 304.2 76.1 304 76.6 304.2 77.1 304.2 77.6 304.7 78.1 304.5 78.6 304.8 79.1 304.9 79.6 304.5 80.1 304.4 80.6 304.3 81.1 304.5 81.6 304.3 82.1 304.4 82.6 304.9 83.1 305.2 83.6 305.3 84.1 305.1 84.6 305.4 85.1 305.3 85.6 305.4 86.1 305.8 86.6 305.9 87.1 305.7 87.6 304.4 88.1 303.9 88.6 304.4 89.1 304.9 89.6 305.1 90.1 304.4 90.6 304.1 91.1 304.3 91.6 304.3 92.1 304.7 92.6 305.1 93.1 305.4 93.6 305.3 94.1 304.9 94.6 305.1 95.1 304.8 95.6 304.5 96.1 304.1 96.6 304.1 97.1 304.5 97.6 304.5 98.1 304.6 98.6 304.6 99.1 304.7 99.6 305 100.1 304.9 100.6 304.8 101.1 304.4 101.6 304.5 102.1 304.4 102.6 305 103.1 304.9 103.6 305.2 104.1 304.7 104.6 305.1 105.1 305 105.6 305.4 106.1 304.8 106.6 305.2 107.1 305.1 107.6 305.6 108.1 305.5 108.6 305.4 109.1 304.9 109.6 304.7 110.1 304.5 110.6 304.7 111.1 305.1 111.6 305.5 112.1 305.7 112.6 305.5 113.1 305.5 113.6 305.4 114.1 305.3 114.6 305.1 115.1 305.1 115.6 305.7 116.1 305.4 116.6 305.3 117.1 304.6 117.6 305.5 118.1 305.4 118.6 305.8 119.1 305.4 119.6 305.7 120.1 305.6 120.6 305.6 121.1 305.4 121.6 305.6 122.1 305.2 122.6 304.8 123.1 304.1 123.6 304.6 124.1 304.9 124.6 305.1 125.1 305.2 125.6 305.6 126.1 305.7 126.6 305.7 127.1 305.5 127.6 305.7 128.1 305.5 128.6 305.9 129.1 305.9 129.6 305.9 130.1 305.8 130.6 305.8 131.1 306 131.6 305.8 132.1 305.2 132.6 304.9 133.1 305.1 133.6 305.7 134.1 305.4 134.6 305 135.1 304.1 135.6 304.2 136.1 304.6 136.6 304.9 137.1 305.4 137.6 305.6 138.1 305.3 138.6 305.2 139.1 305 139.6 305.5 140.1 305.8 140.6 306 141.1 306 141.6 305.5 142.1 305.5 142.6 305.9 143.1 305.9 143.6 305.6 144.1 305.1 144.6 305.2 145.1 305.2 145.6 305 146.1 305.1 146.6 304.6 147.1 303.9 147.6 303.3 148.1 302.7 148.6 301.4 149.1 299.1 149.6 297.2 150.1 295.8 150.6 294.4 151.1 292.6 151.6 291 152.1 290.2 152.6 290.4 153.1 291.2 153.6 292.5 154.1 293.6 154.6 294.8 155.1 295.8 155.6 297.4 156.1 299.1 156.6 300.8 157.1 302.2 157.6 303.2 158.1 303.9 158.6 304.1 159.1 304.4 159.6 304.8 160.1 305.1 160.6 306 161.1 305.3 161.6 305.2 162.1 304.2 162.6 304.7 163.1 304.9 163.6 305.1 164.1 305.5 164.6 305.9 165.1 305.9 165.6 306 166.1 305.5 166.6 305.4 167.1 305 167.6 305.3 168.1 305.4 168.6 305.3 169.1 305.2 169.6 304.9 170.1 304.7 170.6 304.8 171.1 305.2 171.6 305.6 172.1 305.9 172.6 305.2 173.1 304.8 173.6 304.3 174.1 304.9 174.6 305.2 175.1 305.4 175.6 305.6 176.1 305.5 176.6 305.7 177.1 305.5 177.6 305.7" fill="none" stroke="#ff3c3c" stroke-width="1.1" stroke-linejoin="round" />
<path d="M28.1 332.6 28.6 332.9 29.1 333 29.6 333.3 30.1 333 30.6 332.9 31.1 332.5 31.6 332.1 32.1 331.8 32.6 331.6 33.1 332.1 33.6 332 34.1 332.3 34.6 332.1 35.1 332.4 35.6 332.5 36.1 333.1 36.6 333.3 37.1 333.7 37.6 333.4 38.1 332.8 38.6 332.7 39.1 333.2 39.6 333.5 40.1 333.6 40.6 333.1 41.1 333.3 41.6 332.9 42.1 332.9 42.6 332.7 43.1 332.4 43.6 332.6 44.1 332.7 44.6 333.3 45.1 333.3 45.6 333.4 46.1 333.7 46.6 334 47.1 333.9 47.6 333.4 48.1 333.2 48.6 333.6 49.1 333.4 49.6 333.7 50.1 333.5 50.6 333 51.1 332.9 51.6 332.7 52.1 333.1 52.6 333 53.1 333.2 53.6 334 54.1 334 54.6 333.8 55.1 333.2 55.6 333.3 56.1 333.3 56.6 333.3 57.1 332.8 57.6 332.7 58.1 332.5 58.6 332.9 59.1 332.8 59.6 332.3 60.1 331.7 60.6 330.9 61.1 330.1 61.6 328.8 62.1 328.2 62.6 326.8 63.1 325.8 63.6 324 64.1 323.2 64.6 321.7 65.1 321.1 65.6 320 66.1 320.9 66.6 321.8 67.1 323.4 67.6 324.9 68.1 327 68.6 328.9 69.1 330.2 69.6 330.8 70.1 331.3 70.6 331.4 71.1 332.3 71.6 332.5 72.1 333.1 72.6 333.5 73.1 334.1 73.6 333.9 74.1 333.4 74.6 333.6 75.1 333.7 75.6 333.7 76.1 333.1 76.6 333.3 77.1 333.3 77.6 333.8 78.1 333.6 78.6 333.6 79.1 332.7 79.6 333.2 80.1 333.6 80.6 334 81.1 333.7 81.6 333.5 82.1 333.8 82.6 333.3 83.1 333 83.6 333.2 84.1 333.8 84.6 334.1 85.1 333.6 85.6 333.5 86.1 333.5 86.6 333.7 87.1 333.2 87.6 333 88.1 332.9 88.6 333.2 89.1 333 89.6 332.8 90.1 332.6 90.6 332.7 91.1 332.9 91.6 333.3 92.1 333.5 92.6 333.7 93.1 333.7 93.6 333.3 94.1 333.2 94.6 333.1 95.1 333 95.6 333 96.1 333.2 96.6 333.9 97.1 334.1 97.6 333.8 98.1 333.6 98.6 333.5 99.1 334.2 99.6 334 100.1 334.4 100.6 334.2 101.1 334.6 101.6 334.3 102.1 334.5 102.6 334.5 103.1 334.7 103.6 334.4 104.1 334.3 104.6 334 105.1 334.4 105.6 334.5 106.1 335.3 106.6 334.9 107.1 335.4 107.6 335.1 108.1 335.4 108.6 335.2 109.1 334.8 109.6 334.7 110.1 334.9 110.6 334.7 111.1 335.1 111.6 335.1 112.1 335.6 112.6 336 113.1 335.6 113.6 335.4 114.1 335.4 114.6 335.7 115.1 335.9 115.6 335.9 116.1 335.5 116.6 335.8 117.1 335.4 117.6 335.7 118.1 335.5 118.6 335.7 119.1 335.7 119.6 336.1 120.1 336.4 120.6 336.3 121.1 336 121.6 335.4 122.1 335.8 122.6 336 123.1 336.1 123.6 335.8 124.1 336 124.6 336 125.1 336 125.6 335.7 126.1 335.8 126.6 335.8 127.1 335.3 127.6 335.6 128.1 335.5 128.6 336 129.1 335.5 129.6 336.1 130.1 336.3 130.6 336.2 131.1 335.5 131.6 335.3 132.1 335.5 132.6 335.4 133.1 335.2 133.6 335.2 134.1 335.6 134.6 336 135.1 336.5 135.6 336.4 136.1 335.8 136.6 335.5 137.1 335.8 137.6 336.1 138.1 336.2 138.6 336 139.1 336.1 139.6 336 140.1 335.7 140.6 336.3 141.1 336.5 141.6 336.8 142.1 336.6 142.6 336.6 143.1 336.4 143.6 335.9 144.1 335.4 144.6 335.2 145.1 335.5 145.6 335.8 146.1 336 146.6 334.7 147.1 333.4 147.6 331.9 148.1 330.7 148.6 328.3 149.1 325.1 149.6 321.4 150.1 318.2 150.6 315.2 151.1 312.6 151.6 310 152.1 308.6 152.6 307.7 153.1 308.5 153.6 310 154.1 312.9 154.6 315.8 155.1 318.7 155.6 321.8 156.1 324.8 156.6 327.6 157.1 329.8 157.6 332.1 158.1 333.5 158.6 334.7 159.1 335.5 159.6 336.4 160.1 337.3 160.6 337.5 161.1 337.7 161.6 337.6 162.1 337 162.6 337 163.1 337.2 163.6 337.6 164.1 337.6 164.6 337.9 165.1 338 165.6 337.6 166.1 337.3 166.6 336.5 167.1 337 167.6 336.8 168.1 337.3 168.6 337 169.1 336.9 169.6 337.6 170.1 337.6 170.6 337.5 171.1 336.8 171.6 337 172.1 337.6 172.6 337.7 173.1 337.8 173.6 337.6 174.1 337.6 174.6 337.6 175.1 337.4 175.6 337.3 176.1 337.3 176.6 337.3 177.1 337.4 177.6 337.4" fill="none" stroke="#18938f" stroke-width="1.3" stroke-linejoin="round" />
<path d="M28.1 350.6 28.6 350.7 29.1 350.6 29.6 350.9 30.1 350.8 30.6 350.9 31.1 350.8 31.6 351 32.1 350.9 32.6 351 33.1 350.9 33.6 351 34.1 351.4 34.6 351 35.1 351.1 35.6 350.6 36.1 350.6 36.6 350.4 37.1 350.6 37.6 350.4 38.1 350.8 38.6 350.7 39.1 351.3 39.6 351 40.1 351.3 40.6 351.1 41.1 351.1 41.6 351 42.1 350.9 42.6 351.1 43.1 351.2 43.6 351.3 44.1 350.9 44.6 350.7 45.1 350.7 45.6 350.5 46.1 351 46.6 350.9 47.1 351.2 47.6 350.7 48.1 350.8 48.6 351.1 49.1 351.4 49.6 351.2 50.1 350.8 50.6 350.6 51.1 350.7 51.6 350.8 52.1 351.2 52.6 351 53.1 350.9 53.6 350.9 54.1 351.1 54.6 351.2 55.1 350.8 55.6 350.6 56.1 350.4 56.6 350.2 57.1 350.8 57.6 351 58.1 352 58.6 351.8 59.1 351.6 59.6 351.3 60.1 351.2 60.6 351.6 61.1 351.3 61.6 351 62.1 350.6 62.6 350.7 63.1 351.3 63.6 351.3 64.1 351.4 64.6 351.4 65.1 351.3 65.6 350.9 66.1 350.7 66.6 350.5 67.1 350.8 67.6 351.2 68.1 351.5 68.6 351.3 69.1 350.9 69.6 351.1 70.1 351.6 70.6 351.3 71.1 351.7 71.6 351.9 72.1 352.3 72.6 351.8 73.1 351.4 73.6 351.7 74.1 351.6 74.6 351.7 75.1 351.7 75.6 352.5 76.1 352.4 76.6 352 77.1 351.7 77.6 351.7 78.1 351.9 78.6 351.7 79.1 351.6 79.6 351.5 80.1 351.3 80.6 351.3 81.1 351.3 81.6 351.9 82.1 352.1 82.6 352 83.1 351.3 83.6 351.6 84.1 351.7 84.6 352 85.1 351.2 85.6 350.9 86.1 350.9 86.6 350.9 87.1 351.5 87.6 351.7 88.1 351.9 88.6 351.7 89.1 351.4 89.6 351.4 90.1 351.5 90.6 351.5 91.1 351.6 91.6 351.8 92.1 352 92.6 352.2 93.1 352.2 93.6 351.9 94.1 351.9 94.6 352.1 95.1 352.3 95.6 352.1 96.1 352.5 96.6 351.9 97.1 352.2 97.6 351.7 98.1 352.6 98.6 353 99.1 353.1 99.6 352.6 100.1 352.3 100.6 351.9 101.1 352 101.6 351.7 102.1 352.1 102.6 351.7 103.1 351.8 103.6 351.7 104.1 352.1 104.6 352.1 105.1 351.9 105.6 351.9 106.1 352.4 106.6 352.4 107.1 352.2 107.6 351.5 108.1 351.6 108.6 352.1 109.1 352.3 109.6 352.6 110.1 352.8 110.6 352.7 111.1 352.5 111.6 352.1 112.1 352.6 112.6 352.7 113.1 352.9 113.6 352.4 114.1 352.1 114.6 352 115.1 352.3 115.6 352.2 116.1 352.3 116.6 352.5 117.1 352.7 117.6 352.5 118.1 352.3 118.6 351.9 119.1 351.9 119.6 352.2 120.1 352.4 120.6 352.6 121.1 352.7 121.6 352.6 122.1 352.7 122.6 352.1 123.1 352.5 123.6 352.4 124.1 353 124.6 353 125.1 353 125.6 353 126.1 352.4 126.6 352.3 127.1 351.7 127.6 352.3 128.1 352.6 128.6 353.5 129.1 353.6 129.6 353.8 130.1 353.4 130.6 352.7 131.1 352.3 131.6 352.8 132.1 353.4 132.6 353.8 133.1 353.4 133.6 353.5 134.1 353.1 134.6 352.6 135.1 352.7 135.6 352.6 136.1 353.3 136.6 353.2 137.1 353.6 137.6 353.2 138.1 352.7 138.6 352.3 139.1 352.5 139.6 352.7 140.1 352.6 140.6 352.7 141.1 352.5 141.6 352.8 142.1 352.6 142.6 353.6 143.1 353.9 143.6 353.9 144.1 353 144.6 352.6 145.1 352.1 145.6 352.6 146.1 352.3 146.6 352.9 147.1 352.9 147.6 353 148.1 352.8 148.6 352.6 149.1 352.6 149.6 352.4 150.1 352.4 150.6 352.2 151.1 352 151.6 351.8 152.1 351.6 152.6 352 153.1 352.1 153.6 351.9 154.1 351.6 154.6 351.5 155.1 352.1 155.6 352.5 156.1 353 156.6 353.6 157.1 353.1 157.6 353.1 158.1 352.4 158.6 353.2 159.1 353.2 159.6 353.5 160.1 353.1 160.6 352.9 161.1 353.5 161.6 353.5 162.1 353.5 162.6 353.3 163.1 353.9 163.6 353.9 164.1 353.8 164.6 353.3 165.1 353.7 165.6 353.3 166.1 353.6 166.6 353.5 167.1 353.7 167.6 353.9 168.1 354.3 168.6 354.4 169.1 354.2 169.6 353.8 170.1 354.1 170.6 354.2 171.1 354.2 171.6 353.9 172.1 353.5 172.6 353.4 173.1 353.4 173.6 354.1 174.1 354.4 174.6 353.8 175.1 353.3 175.6 353.4 176.1 354.2 176.6 353.9 177.1 353.6 177.6 353.3" fill="none" stroke="#555555" stroke-width="1" stroke-linejoin="round" />
<path d="M28.1 369.7 28.6 369.6 29.1 369.3 29.6 369.2 30.1 369.6 30.6 369.6 31.1 369.9 31.6 369.5 32.1 369.7 32.6 369.5 33.1 369.5 33.6 369.2 34.1 369 34.6 369 35.1 369.6 35.6 369.8 36.1 369.7 36.6 369.1 37.1 369.4 37.6 369.7 38.1 369.8 38.6 369.3 39.1 369.1 39.6 368.5 40.1 369.1 40.6 369.3 41.1 370.1 41.6 369.5 42.1 368.9 42.6 368.7 43.1 368.8 43.6 369 44.1 368.8 44.6 368.7 45.1 368.5 45.6 368.8 46.1 369.3 46.6 369.9 47.1 369.9 47.6 369.9 48.1 369.8 48.6 369.6 49.1 369.7 49.6 369.5 50.1 369 50.6 369.1 51.1 369.6 51.6 370.5 52.1 370.4 52.6 370 53.1 369.7 53.6 370.2 54.1 370.5 54.6 370.3 55.1 369.7 55.6 369.1 56.1 369.2 56.6 369.8 57.1 369.4 57.6 369.3 58.1 368.5 58.6 368.8 59.1 369.3 59.6 369.4 60.1 369.7 60.6 370 61.1 370.3 61.6 370.4 62.1 369.9 62.6 370 63.1 369.6 63.6 370 64.1 370 64.6 370.2 65.1 370.2 65.6 370.3 66.1 369.9 66.6 369.8 67.1 369.3 67.6 369.5 68.1 369.4 68.6 369.7 69.1 369.8 69.6 369.8 70.1 370 70.6 370.1 71.1 369.6 71.6 369.4 72.1 369.2 72.6 369.9 73.1 370 73.6 370.5 74.1 370.3 74.6 370.3 75.1 369.8 75.6 369.7 76.1 369.1 76.6 369.2 77.1 369.8 77.6 370.1 78.1 370.3 78.6 370 79.1 370.2 79.6 369.9 80.1 370.1 80.6 369.6 81.1 369.8 81.6 370.2 82.1 370.7 82.6 370.4 83.1 369.4 83.6 369.2 84.1 369.1 84.6 369.5 85.1 369.7 85.6 369.4 86.1 369.4 86.6 369.1 87.1 369.9 87.6 370 88.1 370.5 88.6 370.4 89.1 370.5 89.6 369.6 90.1 369.5 90.6 369.2 91.1 369.7 91.6 370 92.1 369.8 92.6 369.1 93.1 369.3 93.6 369.6 94.1 370.1 94.6 370 95.1 370.3 95.6 370.5 96.1 370.2 96.6 370.2 97.1 369.9 97.6 369.8 98.1 370.2 98.6 370.6 99.1 370.6 99.6 370.6 100.1 370.5 100.6 370.9 101.1 370.5 101.6 370.3 102.1 370 102.6 370 103.1 369.7 103.6 370.2 104.1 370.2 104.6 371.1 105.1 370.4 105.6 370.2 106.1 369.3 106.6 369.5 107.1 369.7 107.6 370.6 108.1 370.5 108.6 370.3 109.1 370 109.6 370.2 110.1 370.2 110.6 369.8 111.1 369.5 111.6 370 112.1 369.9 112.6 370 113.1 370 113.6 370 114.1 370.4 114.6 369.7 115.1 369.7 115.6 369.8 116.1 370.3 116.6 370.2 117.1 369.6 117.6 369 118.1 369.3 118.6 369.6 119.1 370.1 119.6 370 120.1 370.7 120.6 371 121.1 370.6 121.6 370 122.1 369.3 122.6 369.8 123.1 369.6 123.6 370 124.1 369.9 124.6 369.4 125.1 369.5 125.6 369.1 126.1 369.4 126.6 369.1 127.1 369.6 127.6 369.5 128.1 369.6 128.6 369.6 129.1 370.3 129.6 370.1 130.1 370.1 130.6 369.7 131.1 369.8 131.6 369.7 132.1 369.6 132.6 369.4 133.1 368.5 133.6 368.1 134.1 368.3 134.6 369.2 135.1 369.4 135.6 369.6 136.1 369.6 136.6 369.3 137.1 368.8 137.6 368.6 138.1 369.1 138.6 369.3 139.1 369.5 139.6 369.8 140.1 369.6 140.6 370.1 141.1 369.5 141.6 369.8 142.1 369.5 142.6 369.8 143.1 369.9 143.6 370.3 144.1 370 144.6 370.6 145.1 370.3 145.6 370 146.1 369.2 146.6 369.1 147.1 369.6 147.6 369.5 148.1 370.1 148.6 369.8 149.1 370 149.6 370 150.1 369.7 150.6 370.3 151.1 369.8 151.6 369.9 152.1 369.7 152.6 369.9 153.1 370 153.6 369.7 154.1 370.2 154.6 371.1 155.1 371.1 155.6 370.4 156.1 369.9 156.6 369.9 157.1 370.3 157.6 370.4 158.1 370.5 158.6 370.1 159.1 370.6 159.6 369.9 160.1 370.1 160.6 369.7 161.1 370.2 161.6 370.6 162.1 370.2 162.6 369.8 163.1 369.3 163.6 369.7 164.1 369.7 164.6 369.6 165.1 370 165.6 370.4 166.1 370.7 166.6 370.6 167.1 370.3 167.6 369.9 168.1 369.2 168.6 369.4 169.1 369.8 169.6 370.3 170.1 369.9 170.6 369.9 171.1 370 171.6 370.6 172.1 371 172.6 370.7 173.1 370.9 173.6 370.8 174.1 371.3 174.6 370.8 175.1 370.8 175.6 370 176.1 370.4 176.6 369.9 177.1 370.5 177.6 370.1" fill="none" stroke="#2464cc" stroke-width="1.1" stroke-linejoin="round" />
<line x1="65.9" y1="298" x2="65.9" y2="366" stroke="#222" stroke-width="0.9" stroke-dasharray="1.8 1.5"/>
<line x1="152.7" y1="291" x2="152.7" y2="371" stroke="#222" stroke-width="0.9" stroke-dasharray="1.8 1.5"/>
<text font-size="7.3" text-anchor="start" fill="#161616" stroke="#161616" stroke-width="0.28" font-weight="bold" transform="translate(55 294.31) scale(1 1)">Zn 2p<tspan font-size="4.96" baseline-shift="-1.46">3/2</tspan></text>
<text font-size="7.3" text-anchor="start" fill="#161616" stroke="#161616" stroke-width="0.28" font-weight="bold" transform="translate(138.7 287.01) scale(1 1)">Zn 2p<tspan font-size="4.96" baseline-shift="-1.46">1/2</tspan></text>
<text font-size="6.6" text-anchor="start" fill="#161616" stroke="#161616" stroke-width="0.28" font-weight="bold" transform="translate(159.1 282.38) scale(1 1)">Zn 2p</text>
<text font-size="6.8" text-anchor="start" fill="#161616" stroke="#161616" stroke-width="0.28" font-weight="bold" transform="translate(89.2 300.74) scale(1 1)">ZPNiIn</text>
<text font-size="6.8" text-anchor="start" fill="#161616" stroke="#161616" stroke-width="0.28" font-weight="bold" transform="translate(91.4 330.24) scale(1 1)">ZNiIn</text>
<text font-size="6.8" text-anchor="start" fill="#161616" stroke="#161616" stroke-width="0.28" font-weight="bold" transform="translate(94.8 349.74) scale(1 1)">NiIn</text>
<text font-size="6.8" text-anchor="start" fill="#161616" stroke="#161616" stroke-width="0.28" font-weight="bold" transform="translate(94.8 366.24) scale(1 1)">In<tspan font-size="4.62" baseline-shift="-1.36">2</tspan>O<tspan font-size="4.62" baseline-shift="-1.36">3</tspan></text>
<rect x="27.5" y="274.5" width="151" height="109" fill="none" stroke="#363636" stroke-width="1.15"/>
<line x1="27.6" y1="383.5" x2="27.6" y2="385.5" stroke="#363636" stroke-width="0.9" />
<line x1="46.12" y1="383.5" x2="46.12" y2="385.5" stroke="#363636" stroke-width="0.9" />
<line x1="64.65" y1="383.5" x2="64.65" y2="385.5" stroke="#363636" stroke-width="0.9" />
<line x1="83.18" y1="383.5" x2="83.18" y2="385.5" stroke="#363636" stroke-width="0.9" />
<line x1="101.7" y1="383.5" x2="101.7" y2="385.5" stroke="#363636" stroke-width="0.9" />
<line x1="120.22" y1="383.5" x2="120.22" y2="385.5" stroke="#363636" stroke-width="0.9" />
<line x1="138.75" y1="383.5" x2="138.75" y2="385.5" stroke="#363636" stroke-width="0.9" />
<line x1="157.28" y1="383.5" x2="157.28" y2="385.5" stroke="#363636" stroke-width="0.9" />
<line x1="175.8" y1="383.5" x2="175.8" y2="385.5" stroke="#363636" stroke-width="0.9" />
<line x1="36.86" y1="383.5" x2="36.86" y2="384.7" stroke="#363636" stroke-width="0.8" />
<line x1="55.39" y1="383.5" x2="55.39" y2="384.7" stroke="#363636" stroke-width="0.8" />
<line x1="73.91" y1="383.5" x2="73.91" y2="384.7" stroke="#363636" stroke-width="0.8" />
<line x1="92.44" y1="383.5" x2="92.44" y2="384.7" stroke="#363636" stroke-width="0.8" />
<line x1="110.96" y1="383.5" x2="110.96" y2="384.7" stroke="#363636" stroke-width="0.8" />
<line x1="129.49" y1="383.5" x2="129.49" y2="384.7" stroke="#363636" stroke-width="0.8" />
<line x1="148.01" y1="383.5" x2="148.01" y2="384.7" stroke="#363636" stroke-width="0.8" />
<line x1="166.54" y1="383.5" x2="166.54" y2="384.7" stroke="#363636" stroke-width="0.8" />
<text font-size="7" text-anchor="middle" fill="#161616" stroke="#161616" stroke-width="0.28" font-weight="bold" transform="translate(27.6 392.51) scale(1 1)">1055</text>
<text font-size="7" text-anchor="middle" fill="#161616" stroke="#161616" stroke-width="0.28" font-weight="bold" transform="translate(46.12 392.51) scale(1 1)">1050</text>
<text font-size="7" text-anchor="middle" fill="#161616" stroke="#161616" stroke-width="0.28" font-weight="bold" transform="translate(64.65 392.51) scale(1 1)">1045</text>
<text font-size="7" text-anchor="middle" fill="#161616" stroke="#161616" stroke-width="0.28" font-weight="bold" transform="translate(83.18 392.51) scale(1 1)">1040</text>
<text font-size="7" text-anchor="middle" fill="#161616" stroke="#161616" stroke-width="0.28" font-weight="bold" transform="translate(101.7 392.51) scale(1 1)">1035</text>
<text font-size="7" text-anchor="middle" fill="#161616" stroke="#161616" stroke-width="0.28" font-weight="bold" transform="translate(120.22 392.51) scale(1 1)">1030</text>
<text font-size="7" text-anchor="middle" fill="#161616" stroke="#161616" stroke-width="0.28" font-weight="bold" transform="translate(138.75 392.51) scale(1 1)">1025</text>
<text font-size="7" text-anchor="middle" fill="#161616" stroke="#161616" stroke-width="0.28" font-weight="bold" transform="translate(157.28 392.51) scale(1 1)">1020</text>
<text font-size="7" text-anchor="middle" fill="#161616" stroke="#161616" stroke-width="0.28" font-weight="bold" transform="translate(175.8 392.51) scale(1 1)">1015</text>
<text font-size="9.6" text-anchor="middle" fill="#161616" stroke="#161616" stroke-width="0.28" font-weight="bold" transform="translate(102.2 405.8) scale(1 1)">Binding energy / eV</text>
<text font-size="9.2" text-anchor="middle" fill="#161616" stroke="#161616" stroke-width="0.28" font-weight="bold" transform="translate(20.31 327.3) rotate(-90)">Intensity / a.u.</text>
<path d="M216.1 299.6 216.7 299.7 217.3 300 217.9 299.3 218.5 299.3 219.1 300.6 219.7 300.5 220.3 300.6 220.9 301.8 221.5 301.2 222.1 300.7 222.7 300.7 223.3 299.3 223.9 299.6 224.5 299.6 225.1 299.2 225.7 301 226.3 300.6 226.9 298.7 227.5 298.9 228.1 299.7 228.7 300.4 229.3 299.8 229.9 299 230.5 299.6 231.1 299.9 231.7 300.1 232.3 299.7 232.9 299.9 233.5 300.5 234.1 299.6 234.7 298.6 235.3 298.4 235.9 299.2 236.5 300 237.1 300.1 237.7 299 238.3 298.1 238.9 299.1 239.5 299.2 240.1 299.7 240.7 300.4 241.3 299.2 241.9 298.5 242.5 299.6 243.1 299.9 243.7 299.2 244.3 298.2 244.9 298.2 245.5 298.7 246.1 297.3 246.7 297.8 247.3 298.9 247.9 298.3 248.5 299.9 249.1 299.9 249.7 297.8 250.3 298.6 250.9 299.1 251.5 299 252.1 298.5 252.7 299 253.3 298.6 253.9 296.6 254.5 296.3 255.1 297.1 255.7 297.6 256.3 298.6 256.9 298.3 257.5 296.7 258.1 296.1 258.7 295.5 259.3 295.7 259.9 295 260.5 294.9 261.1 294.7 261.7 293.5 262.3 294.3 262.9 294.3 263.5 295.2 264.1 296.9 264.7 298.5 265.3 299.7 265.9 298.4 266.5 298.8 267.1 300 267.7 299.4 268.3 299.4 268.9 300.9 269.5 300.9 270.1 299.5 270.7 300 271.3 300.8 271.9 300 272.5 298.9 273.1 299.2 273.7 299.1 274.3 298.9 274.9 298.2 275.5 298 276.1 298.1 276.7 297.8 277.3 298 277.9 298.4 278.5 298.3 279.1 298.1 279.7 299 280.3 299.6 280.9 298.5 281.5 297.1 282.1 299 282.7 299.9 283.3 299.4 283.9 299.5 284.5 299.4 285.1 299.7 285.7 298.6 286.3 298 286.9 297.9 287.5 297.6 288.1 297.8 288.7 298.2 289.3 298.3 289.9 298.5 290.5 297.5 291.1 297.3 291.7 297.9 292.3 298.2 292.9 299 293.5 298.2 294.1 296 294.7 296.2 295.3 297.2 295.9 296.6 296.5 296.8 297.1 297.1 297.7 297.2 298.3 296.6 298.9 296.3 299.5 296.8 300.1 296.5 300.7 297 301.3 296.7 301.9 295.9 302.5 296.6 303.1 295.9 303.7 295.8 304.3 296.2 304.9 294.5 305.5 295.5 306.1 297.6 306.7 296.8 307.3 295.3 307.9 294.2 308.5 294.9 309.1 296.6 309.7 295.5 310.3 294.6 310.9 296.2 311.5 296.7 312.1 295.7 312.7 296.3 313.3 295.7 313.9 294.8 314.5 296.1 315.1 295 315.7 294.1 316.3 294.6 316.9 296.4 317.5 296.5 318.1 294.9 318.7 294.6 319.3 296 319.9 297.4 320.5 295.5 321.1 294 321.7 294.7 322.3 295.2 322.9 295.1 323.5 294.5 324.1 293.3 324.7 293.7 325.3 294.2 325.9 295.5 326.5 296.1 327.1 294.7 327.7 294.7 328.3 293.9 328.9 293.3 329.5 292.6 330.1 292 330.7 292.3 331.3 291.8 331.9 289.5 332.5 289.4 333.1 290.5 333.7 290.9 334.3 291.9 334.9 292 335.5 293 336.1 293.4 336.7 293.9 337.3 294.7 337.9 295.5 338.5 296.5 339.1 295.9 339.7 295.2 340.3 295.2 340.9 296.4 341.5 296.4 342.1 295.4 342.7 295.6 343.3 295.1 343.9 295.5 344.5 295.9 345.1 296.1 345.7 295.7 346.3 295.3 346.9 297 347.5 297.3 348.1 296 348.7 296 349.3 295.3 349.9 295.1 350.5 295.9 351.1 295.9 351.7 296 352.3 296 352.9 295.4 353.5 294.7 354.1 294.4 354.7 295 355.3 294.5 355.9 294.2 356.5 294.7 357.1 294.8 357.7 296.4 358.3 296 358.9 295.3 359.5 296.4 360.1 295.1 360.7 294.3 361.3 295 361.9 294.6 362.5 294.2 363.1 294.5 363.7 294.8" fill="none" stroke="#ff3c3c" stroke-width="1" stroke-linejoin="round" />
<path d="M216.1 323.7 216.7 324.3 217.3 324.9 217.9 324.2 218.5 324 219.1 323.1 219.7 322 220.3 322.2 220.9 323.1 221.5 324.7 222.1 324.3 222.7 322.8 223.3 322.5 223.9 323.3 224.5 323 225.1 322.4 225.7 323.5 226.3 324.7 226.9 324.3 227.5 323.6 228.1 323.3 228.7 323.6 229.3 322.1 229.9 321.9 230.5 323.6 231.1 323.3 231.7 322.9 232.3 323.3 232.9 323.2 233.5 323.3 234.1 323.1 234.7 323 235.3 323.9 235.9 323.1 236.5 323.1 237.1 323.9 237.7 323.5 238.3 324 238.9 324 239.5 322.7 240.1 322.8 240.7 323.8 241.3 323.2 241.9 322.3 242.5 322.2 243.1 322 243.7 321.5 244.3 322.1 244.9 323.1 245.5 321.8 246.1 321 246.7 321.4 247.3 321.8 247.9 322.4 248.5 322.1 249.1 322 249.7 322.1 250.3 321.6 250.9 321.2 251.5 321.1 252.1 320.2 252.7 318.7 253.3 319.2 253.9 320 254.5 320.1 255.1 319.3 255.7 317.4 256.3 317.3 256.9 318.5 257.5 317.6 258.1 316.5 258.7 316.3 259.3 315.5 259.9 316.5 260.5 317.3 261.1 317.9 261.7 318.3 262.3 316.8 262.9 316.9 263.5 317.8 264.1 318.3 264.7 319.1 265.3 319.6 265.9 320.9 266.5 320.1 267.1 318.8 267.7 320.3 268.3 321.5 268.9 321.7 269.5 321.4 270.1 321.8 270.7 321.9 271.3 321.6 271.9 322.1 272.5 321.6 273.1 321.6 273.7 322.1 274.3 322.4 274.9 322.8 275.5 323.5 276.1 323.9 276.7 323.3 277.3 322.6 277.9 322.7 278.5 321.9 279.1 322 279.7 323.7 280.3 323.2 280.9 323.1 281.5 322.2 282.1 321.5 282.7 321.7 283.3 322.3 283.9 323.1 284.5 323.6 285.1 322.6 285.7 321.2 286.3 322 286.9 322.1 287.5 321.4 288.1 322.1 288.7 322.4 289.3 321.7 289.9 322.2 290.5 322.3 291.1 320.7 291.7 320.4 292.3 321 292.9 320.5 293.5 320.9 294.1 321.2 294.7 320.8 295.3 320.9 295.9 320.1 296.5 319.3 297.1 319.3 297.7 319 298.3 319.5 298.9 319 299.5 317.2 300.1 317.8 300.7 318.2 301.3 316.9 301.9 317.2 302.5 318.2 303.1 317.2 303.7 316.1 304.3 317.2 304.9 318.5 305.5 318.8 306.1 318.7 306.7 319.2 307.3 320.8 307.9 321.2 308.5 321.1 309.1 321.8 309.7 322.2 310.3 322 310.9 322.4 311.5 323.4 312.1 323.8 312.7 324.1 313.3 324 313.9 323.7 314.5 323.1 315.1 323.4 315.7 324 316.3 322.4 316.9 321.9 317.5 321.5 318.1 321 318.7 321.9 319.3 321.1 319.9 319.1 320.5 318.2 321.1 318.2 321.7 317.6 322.3 317.3 322.9 315.9 323.5 315.7 324.1 316.1 324.7 314.7 325.3 315 325.9 315 326.5 312.8 327.1 311.1 327.7 312.2 328.3 312.6 328.9 311.4 329.5 311.9 330.1 312.2 330.7 311.8 331.3 311.2 331.9 310.5 332.5 310.5 333.1 310.6 333.7 311.2 334.3 310.6 334.9 310.5 335.5 312.6 336.1 315 336.7 316.9 337.3 318.6 337.9 320.8 338.5 321.6 339.1 322 339.7 322 340.3 320.2 340.9 320.1 341.5 321.2 342.1 320.7 342.7 320.4 343.3 321.3 343.9 321.6 344.5 320.2 345.1 319.1 345.7 320.1 346.3 321 346.9 320 347.5 319.5 348.1 320.2 348.7 320.8 349.3 321.2 349.9 322 350.5 321.1 351.1 318.8 351.7 319.1 352.3 320.6 352.9 320 353.5 318.8 354.1 319.5 354.7 320.1 355.3 320.5 355.9 320.1 356.5 320.7 357.1 321.3 357.7 320.1 358.3 318.7 358.9 318.2 359.5 319.8 360.1 319.2 360.7 319 361.3 319.4 361.9 318.9 362.5 318.5 363.1 318.2 363.7 316.9" fill="none" stroke="#18938f" stroke-width="1.1" stroke-linejoin="round" />
<path d="M216.1 345.5 216.7 345.4 217.3 345.5 217.9 345.5 218.5 345.1 219.1 345.3 219.7 345.7 220.3 345.5 220.9 345.7 221.5 345.6 222.1 345.6 222.7 345.9 223.3 345.3 223.9 345.3 224.5 345.5 225.1 345.3 225.7 345.3 226.3 345.5 226.9 345.8 227.5 344.6 228.1 344.2 228.7 344.6 229.3 344.7 229.9 345.3 230.5 345.3 231.1 344.6 231.7 344 232.3 344.5 232.9 345 233.5 345.2 234.1 345.4 234.7 345.2 235.3 345.4 235.9 345.4 236.5 345.2 237.1 345 237.7 344.9 238.3 345.5 238.9 345 239.5 344.2 240.1 344.3 240.7 345 241.3 345.1 241.9 344.6 242.5 344.7 243.1 344.9 243.7 344.7 244.3 344.3 244.9 343.8 245.5 344.2 246.1 344.6 246.7 344.6 247.3 345.4 247.9 345.4 248.5 344.4 249.1 344.2 249.7 344.4 250.3 344.3 250.9 344.6 251.5 344.3 252.1 344.1 252.7 344.1 253.3 344 253.9 344.1 254.5 343.8 255.1 343.8 255.7 344 256.3 343.3 256.9 342.8 257.5 342.9 258.1 342.3 258.7 341.9 259.3 342.7 259.9 343 260.5 342.6 261.1 342.4 261.7 342.7 262.3 342.4 262.9 342.8 263.5 343.2 264.1 343.1 264.7 343.3 265.3 343.9 265.9 344.4 266.5 344.7 267.1 345.1 267.7 345.9 268.3 346.9 268.9 346.8 269.5 346.4 270.1 346.7 270.7 347.7 271.3 348 271.9 347.9 272.5 348.6 273.1 349.5 273.7 349.6 274.3 349.2 274.9 349.3 275.5 348.9 276.1 348.3 276.7 349 277.3 349.5 277.9 349.3 278.5 349 279.1 348.7 279.7 348.5 280.3 349 280.9 348.7 281.5 348.4 282.1 348.6 282.7 347.8 283.3 347.8 283.9 348 284.5 347.8 285.1 348 285.7 348.4 286.3 348 286.9 346.6 287.5 346.7 288.1 347.3 288.7 346.9 289.3 346.4 289.9 346.4 290.5 346.6 291.1 346.2 291.7 346.1 292.3 346 292.9 345.6 293.5 345 294.1 344.6 294.7 344.9 295.3 345.2 295.9 345.1 296.5 344.5 297.1 343.9 297.7 343.5 298.3 343.1 298.9 343 299.5 343.3 300.1 343.5 300.7 343.1 301.3 342.7 301.9 342.1 302.5 341.7 303.1 341.9 303.7 341.8 304.3 341.5 304.9 341 305.5 341.2 306.1 341.6 306.7 341.1 307.3 341.4 307.9 340.8 308.5 340.9 309.1 342.8 309.7 343 310.3 343 310.9 342.9 311.5 342.5 312.1 342.8 312.7 343.8 313.3 344 313.9 344 314.5 344.5 315.1 344.8 315.7 344.9 316.3 344.5 316.9 344.8 317.5 344.2 318.1 343.1 318.7 343.6 319.3 343.7 319.9 342.7 320.5 342.2 321.1 341.6 321.7 341 322.3 340.5 322.9 339.6 323.5 338.2 324.1 337.8 324.7 338.6 325.3 338.2 325.9 337 326.5 337.6 327.1 338.5 327.7 338.2 328.3 338.3 328.9 338.6 329.5 337.9 330.1 337.7 330.7 337.6 331.3 336.8 331.9 336.4 332.5 335.5 333.1 335.5 333.7 337.4 334.3 339.2 334.9 340.2 335.5 342 336.1 344.2 336.7 345.8 337.3 347 337.9 348.1 338.5 349.4 339.1 349.6 339.7 349.4 340.3 349.2 340.9 348.9 341.5 349.3 342.1 349.6 342.7 349.3 343.3 348.9 343.9 348.5 344.5 349 345.1 349.5 345.7 349.3 346.3 349.1 346.9 348.7 347.5 348.5 348.1 348.7 348.7 349 349.3 349.3 349.9 349.1 350.5 349 351.1 349 351.7 348.8 352.3 349.3 352.9 349.8 353.5 349.4 354.1 349.6 354.7 349.2 355.3 349.5 355.9 349.8 356.5 349.4 357.1 349.6 357.7 349.4 358.3 349.3 358.9 350.1 359.5 349.8 360.1 349.4 360.7 349.2 361.3 349.2 361.9 349.6 362.5 349.1 363.1 349.5 363.7 350.6" fill="none" stroke="#555555" stroke-width="1" stroke-linejoin="round" />
<path d="M216.1 365.9 216.7 366 217.3 366.5 217.9 366.3 218.5 366.6 219.1 366.7 219.7 366.4 220.3 366.5 220.9 366.4 221.5 366.4 222.1 366.3 222.7 366.5 223.3 367.4 223.9 367.1 224.5 366.3 225.1 366.7 225.7 366.1 226.3 365.6 226.9 365.9 227.5 365.7 228.1 365.7 228.7 365.8 229.3 366.6 229.9 366.4 230.5 365.9 231.1 366.6 231.7 366.8 232.3 366.7 232.9 366.4 233.5 366 234.1 365.8 234.7 365.9 235.3 365.5 235.9 364.8 236.5 365.1 237.1 366 237.7 366 238.3 366.3 238.9 366.8 239.5 366.5 240.1 365.9 240.7 366.1 241.3 366 241.9 365.7 242.5 365.6 243.1 365.4 243.7 365.9 244.3 366 244.9 366 245.5 366.1 246.1 365.9 246.7 366 247.3 365.2 247.9 364.9 248.5 365.8 249.1 366.5 249.7 366.5 250.3 366.9 250.9 367.2 251.5 366.3 252.1 365.4 252.7 365.2 253.3 365.6 253.9 365.7 254.5 365.9 255.1 365.4 255.7 365.4 256.3 365.8 256.9 365.4 257.5 365 258.1 365.3 258.7 365.6 259.3 364.7 259.9 364.9 260.5 365.6 261.1 365 261.7 365.2 262.3 365.7 262.9 365.6 263.5 365.3 264.1 364.9 264.7 365.5 265.3 365.9 265.9 365.5 266.5 364.3 267.1 364.6 267.7 365.5 268.3 365.9 268.9 365.6 269.5 365.2 270.1 365.1 270.7 365 271.3 365.4 271.9 365.3 272.5 365.4 273.1 365.3 273.7 365.8 274.3 366.3 274.9 365.7 275.5 365 276.1 364.7 276.7 365.4 277.3 365.7 277.9 365 278.5 364.7 279.1 365.5 279.7 365.7 280.3 364.9 280.9 365.4 281.5 365.8 282.1 364.8 282.7 364.2 283.3 364.8 283.9 365 284.5 364.7 285.1 365.6 285.7 366.4 286.3 366.4 286.9 365.9 287.5 365.3 288.1 364.7 288.7 364.2 289.3 364.7 289.9 365.1 290.5 365.4 291.1 365.6 291.7 365.4 292.3 365.4 292.9 365.3 293.5 365.5 294.1 365 294.7 365.2 295.3 365.8 295.9 364.6 296.5 364.5 297.1 365.6 297.7 365.3 298.3 364.8 298.9 365 299.5 365.3 300.1 365.4 300.7 364.7 301.3 364.7 301.9 365.1 302.5 365 303.1 364.6 303.7 364.1 304.3 364.2 304.9 364.1 305.5 363.8 306.1 364.4 306.7 365.1 307.3 365.4 307.9 364.4 308.5 364.4 309.1 364.3 309.7 364 310.3 364.7 310.9 365 311.5 365 312.1 365 312.7 364.7 313.3 364.3 313.9 364.8 314.5 364.7 315.1 364.1 315.7 364.3 316.3 364 316.9 363.9 317.5 364 318.1 364.6 318.7 365.4 319.3 365.1 319.9 365.4 320.5 365.3 321.1 364.3 321.7 364.4 322.3 364.6 322.9 364.4 323.5 364.4 324.1 364 324.7 363.6 325.3 364.1 325.9 364 326.5 364.3 327.1 364.8 327.7 364.2 328.3 364.4 328.9 364.7 329.5 364.9 330.1 364.7 330.7 364 331.3 364.2 331.9 364 332.5 364.2 333.1 364.7 333.7 363.1 334.3 363 334.9 364.2 335.5 363.7 336.1 363.6 336.7 363.9 337.3 363.2 337.9 363.4 338.5 364.1 339.1 363.8 339.7 363.6 340.3 363.9 340.9 364.4 341.5 364.5 342.1 364 342.7 363.7 343.3 363.6 343.9 364.1 344.5 364.4 345.1 363.8 345.7 364.2 346.3 364.6 346.9 363.9 347.5 363.8 348.1 364.1 348.7 364 349.3 364.2 349.9 364 350.5 363.5 351.1 363.2 351.7 363.5 352.3 363.8 352.9 363.1 353.5 363.1 354.1 363.9 354.7 363.9 355.3 363.7 355.9 363.9 356.5 363.7 357.1 362.9 357.7 363.7 358.3 363.7 358.9 363.2 359.5 364.4 360.1 364.1 360.7 363.9 361.3 363.9 361.9 363.4 362.5 362.9 363.1 363.2 363.7 363.6" fill="none" stroke="#2464cc" stroke-width="1.1" stroke-linejoin="round" />
<line x1="263.2" y1="293" x2="263.2" y2="372.5" stroke="#222" stroke-width="0.9" stroke-dasharray="1.8 1.5"/>
<line x1="333.2" y1="290" x2="333.2" y2="372" stroke="#222" stroke-width="0.9" stroke-dasharray="1.8 1.5"/>
<text font-size="7.3" text-anchor="start" fill="#161616" stroke="#161616" stroke-width="0.28" font-weight="bold" transform="translate(253 288.41) scale(1 1)">Ni 2p<tspan font-size="4.96" baseline-shift="-1.46">1/2</tspan></text>
<text font-size="7.3" text-anchor="start" fill="#161616" stroke="#161616" stroke-width="0.28" font-weight="bold" transform="translate(318.6 286.31) scale(1 1)">Ni 2p<tspan font-size="4.96" baseline-shift="-1.46">3/2</tspan></text>
<text font-size="5.8" text-anchor="start" fill="#161616" stroke="#161616" stroke-width="0.28" font-weight="bold" transform="translate(346.3 282.11) scale(1 1)">Ni 2p</text>
<text font-size="6.3" text-anchor="start" fill="#161616" stroke="#161616" stroke-width="0.28" font-weight="bold" transform="translate(218.8 294.68) scale(1 1)">ZPNiIn</text>
<text font-size="6.3" text-anchor="start" fill="#161616" stroke="#161616" stroke-width="0.28" font-weight="bold" transform="translate(218.8 318.78) scale(1 1)">ZNiIn</text>
<text font-size="6.3" text-anchor="start" fill="#161616" stroke="#161616" stroke-width="0.28" font-weight="bold" transform="translate(224.2 338.98) scale(1 1)">NiIn</text>
<text font-size="6.3" text-anchor="start" fill="#161616" stroke="#161616" stroke-width="0.28" font-weight="bold" transform="translate(224.2 363.08) scale(1 1)">In<tspan font-size="4.28" baseline-shift="-1.26">2</tspan>O<tspan font-size="4.28" baseline-shift="-1.26">3</tspan></text>
<rect x="215.5" y="274.5" width="149" height="109" fill="none" stroke="#363636" stroke-width="1.15"/>
<line x1="215.6" y1="383.5" x2="215.6" y2="385.5" stroke="#363636" stroke-width="0.9" />
<line x1="234.15" y1="383.5" x2="234.15" y2="385.5" stroke="#363636" stroke-width="0.9" />
<line x1="252.7" y1="383.5" x2="252.7" y2="385.5" stroke="#363636" stroke-width="0.9" />
<line x1="271.25" y1="383.5" x2="271.25" y2="385.5" stroke="#363636" stroke-width="0.9" />
<line x1="289.8" y1="383.5" x2="289.8" y2="385.5" stroke="#363636" stroke-width="0.9" />
<line x1="308.35" y1="383.5" x2="308.35" y2="385.5" stroke="#363636" stroke-width="0.9" />
<line x1="326.9" y1="383.5" x2="326.9" y2="385.5" stroke="#363636" stroke-width="0.9" />
<line x1="345.45" y1="383.5" x2="345.45" y2="385.5" stroke="#363636" stroke-width="0.9" />
<line x1="364" y1="383.5" x2="364" y2="385.5" stroke="#363636" stroke-width="0.9" />
<line x1="224.88" y1="383.5" x2="224.88" y2="384.7" stroke="#363636" stroke-width="0.8" />
<line x1="243.42" y1="383.5" x2="243.42" y2="384.7" stroke="#363636" stroke-width="0.8" />
<line x1="261.98" y1="383.5" x2="261.98" y2="384.7" stroke="#363636" stroke-width="0.8" />
<line x1="280.52" y1="383.5" x2="280.52" y2="384.7" stroke="#363636" stroke-width="0.8" />
<line x1="299.07" y1="383.5" x2="299.07" y2="384.7" stroke="#363636" stroke-width="0.8" />
<line x1="317.62" y1="383.5" x2="317.62" y2="384.7" stroke="#363636" stroke-width="0.8" />
<line x1="336.18" y1="383.5" x2="336.18" y2="384.7" stroke="#363636" stroke-width="0.8" />
<line x1="354.73" y1="383.5" x2="354.73" y2="384.7" stroke="#363636" stroke-width="0.8" />
<text font-size="6.3" text-anchor="middle" fill="#161616" stroke="#161616" stroke-width="0.28" font-weight="bold" transform="translate(215.6 392.18) scale(1 1)">885</text>
<text font-size="6.3" text-anchor="middle" fill="#161616" stroke="#161616" stroke-width="0.28" font-weight="bold" transform="translate(234.15 392.18) scale(1 1)">880</text>
<text font-size="6.3" text-anchor="middle" fill="#161616" stroke="#161616" stroke-width="0.28" font-weight="bold" transform="translate(252.7 392.18) scale(1 1)">875</text>
<text font-size="6.3" text-anchor="middle" fill="#161616" stroke="#161616" stroke-width="0.28" font-weight="bold" transform="translate(271.25 392.18) scale(1 1)">870</text>
<text font-size="6.3" text-anchor="middle" fill="#161616" stroke="#161616" stroke-width="0.28" font-weight="bold" transform="translate(289.8 392.18) scale(1 1)">865</text>
<text font-size="6.3" text-anchor="middle" fill="#161616" stroke="#161616" stroke-width="0.28" font-weight="bold" transform="translate(308.35 392.18) scale(1 1)">860</text>
<text font-size="6.3" text-anchor="middle" fill="#161616" stroke="#161616" stroke-width="0.28" font-weight="bold" transform="translate(326.9 392.18) scale(1 1)">855</text>
<text font-size="6.3" text-anchor="middle" fill="#161616" stroke="#161616" stroke-width="0.28" font-weight="bold" transform="translate(345.45 392.18) scale(1 1)">850</text>
<text font-size="6.3" text-anchor="middle" fill="#161616" stroke="#161616" stroke-width="0.28" font-weight="bold" transform="translate(364 392.18) scale(1 1)">845</text>
<text font-size="8.7" text-anchor="middle" fill="#161616" stroke="#161616" stroke-width="0.28" font-weight="bold" transform="translate(289.8 405) scale(1 1)">Binding energy / eV</text>
<text font-size="8.7" text-anchor="middle" fill="#161616" stroke="#161616" stroke-width="0.28" font-weight="bold" transform="translate(209.13 328.3) rotate(-90)">Intensity / a.u.</text>
<path d="M395.1 327.1 395.5 326.9 395.9 326.8 396.3 327 396.7 327.2 397.1 327.3 397.5 326.9 397.9 326.9 398.3 327.1 398.7 326.8 399.1 326.8 399.5 327 399.9 326.9 400.3 326.6 400.7 326.7 401.1 326.8 401.5 326.9 401.9 326.7 402.3 326.7 402.7 326.9 403.1 326.9 403.5 326.9 403.9 327.1 404.3 327.1 404.7 326.9 405.1 327 405.5 327 405.9 326.9 406.3 326.8 406.7 326.7 407.1 326.7 407.5 326.8 407.9 326.6 408.3 326.5 408.7 326.9 409.1 327.1 409.5 327.2 409.9 326.9 410.3 326.6 410.7 326.8 411.1 326.6 411.5 326.5 411.9 326.8 412.3 326.9 412.7 326.6 413.1 326.7 413.5 326.9 413.9 326.8 414.3 326.6 414.7 326.6 415.1 327 415.5 327.1 415.9 327.1 416.3 327.1 416.7 326.8 417.1 326.5 417.5 326.9 417.9 326.9 418.3 326.6 418.7 326.8 419.1 327 419.5 327 419.9 327 420.3 326.9 420.7 327.4 421.1 327.2 421.5 326.7 421.9 326.8 422.3 326.7 422.7 326.7 423.1 326.9 423.5 327.1 423.9 327 424.3 327 424.7 326.8 425.1 326.7 425.5 326.8 425.9 326.9 426.3 327 426.7 326.6 427.1 326.5 427.5 326.6 427.9 326.6 428.3 326.9 428.7 327.2 429.1 327.1 429.5 326.9 429.9 326.9 430.3 326.8 430.7 326.5 431.1 326.6 431.5 326.9 431.9 326.8 432.3 326.8 432.7 326.8 433.1 326.8 433.5 326.9 433.9 326.8 434.3 326.8 434.7 326.8 435.1 326.6 435.5 326.5 435.9 326.4 436.3 326.2 436.7 326.1 437.1 326.4 437.5 326.7 437.9 326.6 438.3 326.4 438.7 326.5 439.1 326.5 439.5 326.3 439.9 326.2 440.3 326.7 440.7 326.9 441.1 326.5 441.5 326.4 441.9 326.6 442.3 326.5 442.7 326.5 443.1 326.5 443.5 326.2 443.9 326.2 444.3 326.1 444.7 326.1 445.1 326.2 445.5 326.1 445.9 326.1 446.3 326.1 446.7 325.9 447.1 325.7 447.5 325.5 447.9 325.5 448.3 325.4 448.7 325.3 449.1 324.9 449.5 324.5 449.9 324.4 450.3 324 450.7 323.5 451.1 323.4 451.5 323.2 451.9 322.3 452.3 321.7 452.7 320.8 453.1 320 453.5 319.4 453.9 318.6 454.3 317.5 454.7 316.5 455.1 316 455.5 315.2 455.9 314 456.3 312.9 456.7 312.2 457.1 311.3 457.5 309.9 457.9 308.8 458.3 308.1 458.7 307.6 459.1 306.8 459.5 306.3 459.9 306.2 460.3 306 460.7 305.6 461.1 305.5 461.5 305.7 461.9 306.2 462.3 306.5 462.7 306.3 463.1 306.6 463.5 306.7 463.9 306.6 464.3 307 464.7 307 465.1 306.8 465.5 306.6 465.9 306.5 466.3 306.8 466.7 306.8 467.1 306.7 467.5 306.4 467.9 306.5 468.3 306.2 468.7 305.6 469.1 305.4 469.5 305.5 469.9 305.7 470.3 305.8 470.7 305.4 471.1 304.8 471.5 304.2 471.9 303.6 472.3 303.8 472.7 303.7 473.1 303.5 473.5 303.3 473.9 303.1 474.3 303.3 474.7 303.1 475.1 303.4 475.5 304.1 475.9 304.6 476.3 305.2 476.7 306.1 477.1 306.8 477.5 307.8 477.9 309.2 478.3 310.1 478.7 311 479.1 312.3 479.5 313.4 479.9 314.6 480.3 315.6 480.7 316.8 481.1 317.7 481.5 318.7 481.9 319.4 482.3 320.3 482.7 321.2 483.1 321.7 483.5 322.6 483.9 323.3 484.3 323.7 484.7 324.1 485.1 324.4 485.5 324.5 485.9 324.8 486.3 325.3 486.7 325.5 487.1 325.5 487.5 325.6 487.9 325.6 488.3 325.9 488.7 326 489.1 326 489.5 326.1 489.9 325.9 490.3 326 490.7 326 491.1 326 491.5 326.2 491.9 326.2 492.3 326.2 492.7 326.3 493.1 326.4 493.5 326.3 493.9 326.3 494.3 326.4 494.7 326.3 495.1 326.3 495.5 326.4 495.9 326.6 496.3 326.7 496.7 326.5 497.1 326.8 497.5 327 497.9 326.5 498.3 326.1 498.7 326.3 499.1 326.6 499.5 326.6 499.9 326.5 500.3 326.6 500.7 326.8 501.1 326.8 501.5 326.7 501.9 326.7 502.3 326.9 502.7 327 503.1 326.9 503.5 326.8 503.9 326.7 504.3 326.9 504.7 327.2 505.1 327 505.5 326.8 505.9 326.7 506.3 326.8 506.7 326.8 507.1 326.7 507.5 326.9 507.9 326.7 508.3 326.5 508.7 326.6 509.1 326.9 509.5 326.8 509.9 326.6 510.3 326.4 510.7 326.4 511.1 326.6 511.5 326.6 511.9 326.7 512.3 326.7 512.7 326.8 513.1 327.1 513.5 327.2 513.9 327 514.3 326.8 514.7 326.9 515.1 327.1 515.5 326.9 515.9 326.8 516.3 326.8 516.7 326.9 517.1 326.9 517.5 326.5 517.9 326.6 518.3 327.1 518.7 327 519.1 327 519.5 327 519.9 326.7 520.3 326.8 520.7 326.9 521.1 326.6 521.5 326.9 521.9 327 522.3 326.5 522.7 326.6 523.1 327 523.5 326.8 523.9 326.8 524.3 326.9 524.7 327.1 525.1 327.1 525.5 327.2 525.9 327 526.3 327 526.7 327.5 527.1 327.3 527.5 327 527.9 327.1 528.3 327.2 528.7 326.9 529.1 326.9 529.5 327 529.9 326.9 530.3 327 530.7 327.1 531.1 327 531.5 327 531.9 327.2 532.3 327.1 532.7 327.1 533.1 327.1 533.5 326.6 533.9 326.6 534.3 326.9 534.7 326.9 535.1 326.7 535.5 326.5 535.9 326.7 536.3 326.9 536.7 326.9 537.1 327.1 537.5 327.2 537.9 327 538.3 326.9 538.7 326.7" fill="none" stroke="#5e5e5e" stroke-width="2.8" stroke-linejoin="round" />
<path d="M395.1 327.6 395.5 327.6 395.9 327.6 396.3 327.6 396.7 327.6 397.1 327.6 397.5 327.6 397.9 327.6 398.3 327.6 398.7 327.6 399.1 327.6 399.5 327.6 399.9 327.6 400.3 327.6 400.7 327.6 401.1 327.6 401.5 327.6 401.9 327.6 402.3 327.6 402.7 327.6 403.1 327.6 403.5 327.6 403.9 327.6 404.3 327.6 404.7 327.6 405.1 327.6 405.5 327.6 405.9 327.6 406.3 327.6 406.7 327.6 407.1 327.6 407.5 327.6 407.9 327.6 408.3 327.6 408.7 327.6 409.1 327.6 409.5 327.6 409.9 327.6 410.3 327.5 410.7 327.5 411.1 327.5 411.5 327.5 411.9 327.5 412.3 327.5 412.7 327.5 413.1 327.5 413.5 327.5 413.9 327.5 414.3 327.5 414.7 327.5 415.1 327.5 415.5 327.5 415.9 327.5 416.3 327.5 416.7 327.5 417.1 327.5 417.5 327.5 417.9 327.5 418.3 327.5 418.7 327.5 419.1 327.5 419.5 327.5 419.9 327.5 420.3 327.5 420.7 327.5 421.1 327.5 421.5 327.5 421.9 327.5 422.3 327.5 422.7 327.5 423.1 327.5 423.5 327.5 423.9 327.5 424.3 327.5 424.7 327.5 425.1 327.5 425.5 327.5 425.9 327.5 426.3 327.5 426.7 327.5 427.1 327.5 427.5 327.5 427.9 327.5 428.3 327.5 428.7 327.5 429.1 327.5 429.5 327.5 429.9 327.5 430.3 327.5 430.7 327.5 431.1 327.5 431.5 327.5 431.9 327.4 432.3 327.4 432.7 327.4 433.1 327.4 433.5 327.4 433.9 327.4 434.3 327.4 434.7 327.4 435.1 327.4 435.5 327.4 435.9 327.4 436.3 327.4 436.7 327.4 437.1 327.4 437.5 327.4 437.9 327.4 438.3 327.3 438.7 327.3 439.1 327.3 439.5 327.3 439.9 327.3 440.3 327.3 440.7 327.3 441.1 327.3 441.5 327.3 441.9 327.2 442.3 327.2 442.7 327.2 443.1 327.2 443.5 327.2 443.9 327.1 444.3 327.1 444.7 327.1 445.1 327 445.5 327 445.9 326.9 446.3 326.9 446.7 326.8 447.1 326.7 447.5 326.6 447.9 326.4 448.3 326.3 448.7 326.1 449.1 325.9 449.5 325.7 449.9 325.4 450.3 325 450.7 324.7 451.1 324.3 451.5 323.8 451.9 323.2 452.3 322.6 452.7 322 453.1 321.3 453.5 320.5 453.9 319.7 454.3 318.9 454.7 318 455.1 317 455.5 316.1 455.9 315.1 456.3 314.2 456.7 313.3 457.1 312.4 457.5 311.6 457.9 310.8 458.3 310.2 458.7 309.7 459.1 309.3 459.5 309.1 459.9 309.1 460.3 309.2 460.7 309.5 461.1 309.9 461.5 310.5 461.9 311.2 462.3 312 462.7 312.8 463.1 313.7 463.5 314.6 463.9 315.6 464.3 316.6 464.7 317.5 465.1 318.4 465.5 319.3 465.9 320.1 466.3 320.9 466.7 321.7 467.1 322.3 467.5 323 467.9 323.5 468.3 324 468.7 324.5 469.1 324.9 469.5 325.2 469.9 325.5 470.3 325.8 470.7 326 471.1 326.2 471.5 326.4 471.9 326.5 472.3 326.6 472.7 326.7 473.1 326.8 473.5 326.9 473.9 326.9 474.3 327 474.7 327 475.1 327.1 475.5 327.1 475.9 327.1 476.3 327.2 476.7 327.2 477.1 327.2 477.5 327.2 477.9 327.2 478.3 327.3 478.7 327.3 479.1 327.3 479.5 327.3 479.9 327.3 480.3 327.3 480.7 327.3 481.1 327.3 481.5 327.4 481.9 327.4 482.3 327.4 482.7 327.4 483.1 327.4 483.5 327.4 483.9 327.4 484.3 327.4 484.7 327.4 485.1 327.4 485.5 327.4 485.9 327.4 486.3 327.4 486.7 327.4 487.1 327.4 487.5 327.4 487.9 327.4 488.3 327.5 488.7 327.5 489.1 327.5 489.5 327.5 489.9 327.5 490.3 327.5 490.7 327.5 491.1 327.5 491.5 327.5 491.9 327.5 492.3 327.5 492.7 327.5 493.1 327.5 493.5 327.5 493.9 327.5 494.3 327.5 494.7 327.5 495.1 327.5 495.5 327.5 495.9 327.5 496.3 327.5 496.7 327.5 497.1 327.5 497.5 327.5 497.9 327.5 498.3 327.5 498.7 327.5 499.1 327.5 499.5 327.5 499.9 327.5 500.3 327.5 500.7 327.5 501.1 327.5 501.5 327.5 501.9 327.5 502.3 327.5 502.7 327.5 503.1 327.5 503.5 327.5 503.9 327.5 504.3 327.5 504.7 327.5 505.1 327.5 505.5 327.5 505.9 327.5 506.3 327.5 506.7 327.5 507.1 327.5 507.5 327.5 507.9 327.5 508.3 327.5 508.7 327.5 509.1 327.5 509.5 327.6 509.9 327.6 510.3 327.6 510.7 327.6 511.1 327.6 511.5 327.6 511.9 327.6 512.3 327.6 512.7 327.6 513.1 327.6 513.5 327.6 513.9 327.6 514.3 327.6 514.7 327.6 515.1 327.6 515.5 327.6 515.9 327.6 516.3 327.6 516.7 327.6 517.1 327.6 517.5 327.6 517.9 327.6 518.3 327.6 518.7 327.6 519.1 327.6 519.5 327.6 519.9 327.6 520.3 327.6 520.7 327.6 521.1 327.6 521.5 327.6 521.9 327.6 522.3 327.6 522.7 327.6 523.1 327.6 523.5 327.6 523.9 327.6 524.3 327.6 524.7 327.6 525.1 327.6 525.5 327.6 525.9 327.6 526.3 327.6 526.7 327.6 527.1 327.6 527.5 327.6 527.9 327.6 528.3 327.6 528.7 327.6 529.1 327.6 529.5 327.6 529.9 327.6 530.3 327.6 530.7 327.6 531.1 327.6 531.5 327.6 531.9 327.6 532.3 327.6 532.7 327.6 533.1 327.6 533.5 327.6 533.9 327.6 534.3 327.6 534.7 327.6 535.1 327.6 535.5 327.6 535.9 327.6 536.3 327.6 536.7 327.6 537.1 327.6 537.5 327.6 537.9 327.6 538.3 327.6 538.7 327.6" fill="none" stroke="#35b04a" stroke-width="0.9" stroke-linejoin="round" />
<path d="M395.1 327.6 395.5 327.6 395.9 327.6 396.3 327.6 396.7 327.6 397.1 327.6 397.5 327.6 397.9 327.6 398.3 327.6 398.7 327.6 399.1 327.6 399.5 327.6 399.9 327.6 400.3 327.6 400.7 327.6 401.1 327.6 401.5 327.6 401.9 327.6 402.3 327.6 402.7 327.6 403.1 327.6 403.5 327.6 403.9 327.6 404.3 327.6 404.7 327.6 405.1 327.6 405.5 327.6 405.9 327.6 406.3 327.6 406.7 327.6 407.1 327.6 407.5 327.6 407.9 327.6 408.3 327.6 408.7 327.6 409.1 327.6 409.5 327.6 409.9 327.6 410.3 327.6 410.7 327.6 411.1 327.6 411.5 327.6 411.9 327.6 412.3 327.6 412.7 327.6 413.1 327.6 413.5 327.6 413.9 327.6 414.3 327.6 414.7 327.6 415.1 327.6 415.5 327.6 415.9 327.6 416.3 327.6 416.7 327.6 417.1 327.6 417.5 327.6 417.9 327.6 418.3 327.6 418.7 327.6 419.1 327.6 419.5 327.6 419.9 327.6 420.3 327.6 420.7 327.6 421.1 327.6 421.5 327.6 421.9 327.6 422.3 327.6 422.7 327.6 423.1 327.6 423.5 327.6 423.9 327.6 424.3 327.6 424.7 327.6 425.1 327.6 425.5 327.6 425.9 327.6 426.3 327.6 426.7 327.6 427.1 327.6 427.5 327.6 427.9 327.6 428.3 327.6 428.7 327.6 429.1 327.6 429.5 327.6 429.9 327.6 430.3 327.6 430.7 327.6 431.1 327.6 431.5 327.6 431.9 327.6 432.3 327.6 432.7 327.6 433.1 327.6 433.5 327.6 433.9 327.6 434.3 327.6 434.7 327.6 435.1 327.6 435.5 327.6 435.9 327.5 436.3 327.5 436.7 327.5 437.1 327.5 437.5 327.5 437.9 327.5 438.3 327.5 438.7 327.5 439.1 327.5 439.5 327.5 439.9 327.5 440.3 327.5 440.7 327.5 441.1 327.5 441.5 327.5 441.9 327.5 442.3 327.5 442.7 327.5 443.1 327.5 443.5 327.5 443.9 327.5 444.3 327.5 444.7 327.5 445.1 327.5 445.5 327.5 445.9 327.5 446.3 327.5 446.7 327.5 447.1 327.5 447.5 327.5 447.9 327.5 448.3 327.5 448.7 327.5 449.1 327.5 449.5 327.5 449.9 327.4 450.3 327.4 450.7 327.4 451.1 327.4 451.5 327.4 451.9 327.4 452.3 327.4 452.7 327.4 453.1 327.4 453.5 327.4 453.9 327.3 454.3 327.3 454.7 327.3 455.1 327.3 455.5 327.2 455.9 327.2 456.3 327.2 456.7 327.1 457.1 327 457.5 326.9 457.9 326.8 458.3 326.7 458.7 326.6 459.1 326.4 459.5 326.2 459.9 325.9 460.3 325.7 460.7 325.3 461.1 324.9 461.5 324.5 461.9 324 462.3 323.5 462.7 322.9 463.1 322.3 463.5 321.7 463.9 321 464.3 320.4 464.7 319.7 465.1 319 465.5 318.4 465.9 317.9 466.3 317.4 466.7 317 467.1 316.8 467.5 316.6 467.9 316.6 468.3 316.8 468.7 317 469.1 317.4 469.5 317.9 469.9 318.4 470.3 319 470.7 319.7 471.1 320.4 471.5 321 471.9 321.7 472.3 322.3 472.7 322.9 473.1 323.5 473.5 324 473.9 324.5 474.3 324.9 474.7 325.3 475.1 325.7 475.5 325.9 475.9 326.2 476.3 326.4 476.7 326.6 477.1 326.7 477.5 326.8 477.9 326.9 478.3 327 478.7 327.1 479.1 327.2 479.5 327.2 479.9 327.2 480.3 327.3 480.7 327.3 481.1 327.3 481.5 327.3 481.9 327.4 482.3 327.4 482.7 327.4 483.1 327.4 483.5 327.4 483.9 327.4 484.3 327.4 484.7 327.4 485.1 327.4 485.5 327.4 485.9 327.5 486.3 327.5 486.7 327.5 487.1 327.5 487.5 327.5 487.9 327.5 488.3 327.5 488.7 327.5 489.1 327.5 489.5 327.5 489.9 327.5 490.3 327.5 490.7 327.5 491.1 327.5 491.5 327.5 491.9 327.5 492.3 327.5 492.7 327.5 493.1 327.5 493.5 327.5 493.9 327.5 494.3 327.5 494.7 327.5 495.1 327.5 495.5 327.5 495.9 327.5 496.3 327.5 496.7 327.5 497.1 327.5 497.5 327.5 497.9 327.5 498.3 327.5 498.7 327.5 499.1 327.5 499.5 327.5 499.9 327.6 500.3 327.6 500.7 327.6 501.1 327.6 501.5 327.6 501.9 327.6 502.3 327.6 502.7 327.6 503.1 327.6 503.5 327.6 503.9 327.6 504.3 327.6 504.7 327.6 505.1 327.6 505.5 327.6 505.9 327.6 506.3 327.6 506.7 327.6 507.1 327.6 507.5 327.6 507.9 327.6 508.3 327.6 508.7 327.6 509.1 327.6 509.5 327.6 509.9 327.6 510.3 327.6 510.7 327.6 511.1 327.6 511.5 327.6 511.9 327.6 512.3 327.6 512.7 327.6 513.1 327.6 513.5 327.6 513.9 327.6 514.3 327.6 514.7 327.6 515.1 327.6 515.5 327.6 515.9 327.6 516.3 327.6 516.7 327.6 517.1 327.6 517.5 327.6 517.9 327.6 518.3 327.6 518.7 327.6 519.1 327.6 519.5 327.6 519.9 327.6 520.3 327.6 520.7 327.6 521.1 327.6 521.5 327.6 521.9 327.6 522.3 327.6 522.7 327.6 523.1 327.6 523.5 327.6 523.9 327.6 524.3 327.6 524.7 327.6 525.1 327.6 525.5 327.6 525.9 327.6 526.3 327.6 526.7 327.6 527.1 327.6 527.5 327.6 527.9 327.6 528.3 327.6 528.7 327.6 529.1 327.6 529.5 327.6 529.9 327.6 530.3 327.6 530.7 327.6 531.1 327.6 531.5 327.6 531.9 327.6 532.3 327.6 532.7 327.6 533.1 327.6 533.5 327.6 533.9 327.6 534.3 327.6 534.7 327.6 535.1 327.6 535.5 327.6 535.9 327.6 536.3 327.6 536.7 327.6 537.1 327.6 537.5 327.6 537.9 327.6 538.3 327.6 538.7 327.6" fill="none" stroke="#2e7de0" stroke-width="0.9" stroke-linejoin="round" />
<path d="M395.1 327.6 395.5 327.6 395.9 327.6 396.3 327.6 396.7 327.6 397.1 327.6 397.5 327.6 397.9 327.6 398.3 327.6 398.7 327.6 399.1 327.6 399.5 327.6 399.9 327.6 400.3 327.6 400.7 327.6 401.1 327.6 401.5 327.6 401.9 327.6 402.3 327.6 402.7 327.6 403.1 327.6 403.5 327.6 403.9 327.6 404.3 327.6 404.7 327.6 405.1 327.6 405.5 327.6 405.9 327.6 406.3 327.6 406.7 327.6 407.1 327.6 407.5 327.6 407.9 327.6 408.3 327.6 408.7 327.6 409.1 327.6 409.5 327.6 409.9 327.6 410.3 327.6 410.7 327.6 411.1 327.6 411.5 327.6 411.9 327.6 412.3 327.6 412.7 327.6 413.1 327.6 413.5 327.6 413.9 327.6 414.3 327.6 414.7 327.6 415.1 327.6 415.5 327.6 415.9 327.6 416.3 327.6 416.7 327.6 417.1 327.6 417.5 327.6 417.9 327.6 418.3 327.6 418.7 327.6 419.1 327.6 419.5 327.6 419.9 327.6 420.3 327.6 420.7 327.6 421.1 327.6 421.5 327.6 421.9 327.6 422.3 327.6 422.7 327.6 423.1 327.6 423.5 327.6 423.9 327.5 424.3 327.5 424.7 327.5 425.1 327.5 425.5 327.5 425.9 327.5 426.3 327.5 426.7 327.5 427.1 327.5 427.5 327.5 427.9 327.5 428.3 327.5 428.7 327.5 429.1 327.5 429.5 327.5 429.9 327.5 430.3 327.5 430.7 327.5 431.1 327.5 431.5 327.5 431.9 327.5 432.3 327.5 432.7 327.5 433.1 327.5 433.5 327.5 433.9 327.5 434.3 327.5 434.7 327.5 435.1 327.5 435.5 327.5 435.9 327.5 436.3 327.5 436.7 327.5 437.1 327.5 437.5 327.5 437.9 327.5 438.3 327.5 438.7 327.5 439.1 327.5 439.5 327.5 439.9 327.5 440.3 327.5 440.7 327.5 441.1 327.5 441.5 327.5 441.9 327.5 442.3 327.5 442.7 327.5 443.1 327.5 443.5 327.5 443.9 327.5 444.3 327.5 444.7 327.5 445.1 327.5 445.5 327.5 445.9 327.4 446.3 327.4 446.7 327.4 447.1 327.4 447.5 327.4 447.9 327.4 448.3 327.4 448.7 327.4 449.1 327.4 449.5 327.4 449.9 327.4 450.3 327.4 450.7 327.4 451.1 327.4 451.5 327.4 451.9 327.4 452.3 327.4 452.7 327.3 453.1 327.3 453.5 327.3 453.9 327.3 454.3 327.3 454.7 327.3 455.1 327.3 455.5 327.3 455.9 327.3 456.3 327.2 456.7 327.2 457.1 327.2 457.5 327.2 457.9 327.2 458.3 327.2 458.7 327.1 459.1 327.1 459.5 327.1 459.9 327 460.3 327 460.7 327 461.1 326.9 461.5 326.8 461.9 326.8 462.3 326.7 462.7 326.6 463.1 326.5 463.5 326.3 463.9 326.1 464.3 325.9 464.7 325.7 465.1 325.4 465.5 325.1 465.9 324.7 466.3 324.3 466.7 323.8 467.1 323.2 467.5 322.6 467.9 321.9 468.3 321.2 468.7 320.3 469.1 319.4 469.5 318.5 469.9 317.5 470.3 316.4 470.7 315.3 471.1 314.2 471.5 313.1 471.9 312 472.3 311 472.7 310 473.1 309.1 473.5 308.3 473.9 307.6 474.3 307.1 474.7 306.8 475.1 306.6 475.5 306.7 475.9 306.9 476.3 307.3 476.7 307.9 477.1 308.7 477.5 309.5 477.9 310.5 478.3 311.5 478.7 312.6 479.1 313.7 479.5 314.8 479.9 315.9 480.3 317 480.7 318 481.1 319 481.5 319.9 481.9 320.8 482.3 321.5 482.7 322.3 483.1 322.9 483.5 323.5 483.9 324 484.3 324.5 484.7 324.9 485.1 325.3 485.5 325.6 485.9 325.8 486.3 326 486.7 326.2 487.1 326.4 487.5 326.5 487.9 326.6 488.3 326.7 488.7 326.8 489.1 326.9 489.5 326.9 489.9 327 490.3 327 490.7 327.1 491.1 327.1 491.5 327.1 491.9 327.1 492.3 327.2 492.7 327.2 493.1 327.2 493.5 327.2 493.9 327.2 494.3 327.3 494.7 327.3 495.1 327.3 495.5 327.3 495.9 327.3 496.3 327.3 496.7 327.3 497.1 327.3 497.5 327.3 497.9 327.4 498.3 327.4 498.7 327.4 499.1 327.4 499.5 327.4 499.9 327.4 500.3 327.4 500.7 327.4 501.1 327.4 501.5 327.4 501.9 327.4 502.3 327.4 502.7 327.4 503.1 327.4 503.5 327.4 503.9 327.4 504.3 327.4 504.7 327.4 505.1 327.5 505.5 327.5 505.9 327.5 506.3 327.5 506.7 327.5 507.1 327.5 507.5 327.5 507.9 327.5 508.3 327.5 508.7 327.5 509.1 327.5 509.5 327.5 509.9 327.5 510.3 327.5 510.7 327.5 511.1 327.5 511.5 327.5 511.9 327.5 512.3 327.5 512.7 327.5 513.1 327.5 513.5 327.5 513.9 327.5 514.3 327.5 514.7 327.5 515.1 327.5 515.5 327.5 515.9 327.5 516.3 327.5 516.7 327.5 517.1 327.5 517.5 327.5 517.9 327.5 518.3 327.5 518.7 327.5 519.1 327.5 519.5 327.5 519.9 327.5 520.3 327.5 520.7 327.5 521.1 327.5 521.5 327.5 521.9 327.5 522.3 327.5 522.7 327.5 523.1 327.5 523.5 327.5 523.9 327.5 524.3 327.5 524.7 327.5 525.1 327.5 525.5 327.5 525.9 327.5 526.3 327.5 526.7 327.5 527.1 327.6 527.5 327.6 527.9 327.6 528.3 327.6 528.7 327.6 529.1 327.6 529.5 327.6 529.9 327.6 530.3 327.6 530.7 327.6 531.1 327.6 531.5 327.6 531.9 327.6 532.3 327.6 532.7 327.6 533.1 327.6 533.5 327.6 533.9 327.6 534.3 327.6 534.7 327.6 535.1 327.6 535.5 327.6 535.9 327.6 536.3 327.6 536.7 327.6 537.1 327.6 537.5 327.6 537.9 327.6 538.3 327.6 538.7 327.6" fill="none" stroke="#e020e0" stroke-width="0.9" stroke-linejoin="round" />
<line x1="394.5" y1="328.3" x2="539.5" y2="328.3" stroke="#dd22dd" stroke-width="1.6" />
<path d="M395.1 366.5 395.5 366.4 395.9 366.4 396.3 366.7 396.7 366.7 397.1 366.7 397.5 366.6 397.9 366.2 398.3 366.2 398.7 366.3 399.1 366.1 399.5 366.1 399.9 366.5 400.3 366.6 400.7 366.6 401.1 366.6 401.5 366.6 401.9 366.5 402.3 366.4 402.7 366.4 403.1 366.3 403.5 366.6 403.9 366.4 404.3 366.4 404.7 366.7 405.1 366.3 405.5 365.9 405.9 366.1 406.3 366.4 406.7 366.4 407.1 366.4 407.5 366.5 407.9 366.2 408.3 366.3 408.7 366.6 409.1 366.4 409.5 366.3 409.9 366.1 410.3 366.3 410.7 366.7 411.1 366.6 411.5 366.2 411.9 366 412.3 366.2 412.7 366.2 413.1 366.1 413.5 366.1 413.9 366.2 414.3 366.2 414.7 366.3 415.1 366.7 415.5 366.8 415.9 366.3 416.3 366.3 416.7 366.6 417.1 366.5 417.5 366.5 417.9 366.5 418.3 366.5 418.7 366.4 419.1 366.4 419.5 366.2 419.9 366.4 420.3 366.5 420.7 366.3 421.1 366.4 421.5 366.5 421.9 366.4 422.3 366.3 422.7 366 423.1 365.9 423.5 366.1 423.9 366.3 424.3 366.4 424.7 366.2 425.1 366 425.5 366.2 425.9 366.4 426.3 366.3 426.7 366 427.1 365.9 427.5 366.1 427.9 366.3 428.3 366.4 428.7 366.3 429.1 366.3 429.5 366.4 429.9 366.3 430.3 366.1 430.7 366.3 431.1 366.4 431.5 366.3 431.9 366.4 432.3 366.2 432.7 366 433.1 366.2 433.5 366.2 433.9 365.9 434.3 365.9 434.7 365.9 435.1 365.9 435.5 366.2 435.9 366.3 436.3 366.2 436.7 366.3 437.1 366.1 437.5 366 437.9 365.8 438.3 365.9 438.7 366 439.1 366 439.5 366 439.9 366 440.3 365.9 440.7 365.7 441.1 365.6 441.5 365.5 441.9 365.6 442.3 366.1 442.7 365.9 443.1 365.8 443.5 366.1 443.9 365.9 444.3 365.6 444.7 365.7 445.1 365.8 445.5 365.7 445.9 365.3 446.3 365 446.7 364.9 447.1 364.8 447.5 364.9 447.9 364.8 448.3 364.4 448.7 364.2 449.1 363.8 449.5 363.4 449.9 363.5 450.3 363.2 450.7 362.5 451.1 362.3 451.5 362.1 451.9 361.4 452.3 360.4 452.7 359.9 453.1 359.8 453.5 358.9 453.9 358.2 454.3 357.5 454.7 356.6 455.1 356.1 455.5 355.2 455.9 354.2 456.3 353.4 456.7 352.6 457.1 351.7 457.5 351.2 457.9 350.5 458.3 349.8 458.7 349.1 459.1 348.6 459.5 348.6 459.9 348.6 460.3 348 460.7 347.9 461.1 348 461.5 348.3 461.9 348.3 462.3 348.5 462.7 348.6 463.1 348.7 463.5 349.2 463.9 349.4 464.3 349.8 464.7 350 465.1 350 465.5 350 465.9 350.3 466.3 350.3 466.7 350 467.1 349.5 467.5 349.1 467.9 348.9 468.3 348.7 468.7 348.6 469.1 347.9 469.5 347.4 469.9 347 470.3 346.1 470.7 345.5 471.1 344.8 471.5 344.4 471.9 344 472.3 343.6 472.7 343.1 473.1 342.7 473.5 343 473.9 343.5 474.3 343.6 474.7 343.8 475.1 344.3 475.5 344.9 475.9 345.5 476.3 346.3 476.7 347.5 477.1 348.6 477.5 349.5 477.9 350.4 478.3 351.4 478.7 352.8 479.1 353.7 479.5 354.7 479.9 355.7 480.3 356.8 480.7 357.6 481.1 358 481.5 358.6 481.9 359.3 482.3 360.1 482.7 360.6 483.1 361.2 483.5 361.6 483.9 361.8 484.3 362.3 484.7 362.4 485.1 362.4 485.5 362.5 485.9 362.4 486.3 362.4 486.7 362.1 487.1 361.7 487.5 361.7 487.9 361.6 488.3 361.1 488.7 360.5 489.1 360.3 489.5 360 489.9 359.3 490.3 358.6 490.7 357.9 491.1 357.2 491.5 356.1 491.9 355.3 492.3 354.8 492.7 353.8 493.1 352.8 493.5 352.3 493.9 351.7 494.3 350.9 494.7 350.4 495.1 350 495.5 349.8 495.9 349.4 496.3 349 496.7 348.9 497.1 349.2 497.5 349.6 497.9 349.9 498.3 350.4 498.7 351.2 499.1 351.7 499.5 352.2 499.9 353.1 500.3 353.7 500.7 354.2 501.1 355.3 501.5 356.4 501.9 357.2 502.3 358 502.7 358.6 503.1 359.3 503.5 360 503.9 360.7 504.3 361.2 504.7 362 505.1 362.7 505.5 362.9 505.9 363.4 506.3 363.7 506.7 364 507.1 364.5 507.5 364.6 507.9 364.9 508.3 365 508.7 364.9 509.1 365.1 509.5 365.4 509.9 365.7 510.3 365.5 510.7 365.5 511.1 365.5 511.5 365.8 511.9 365.8 512.3 365.6 512.7 365.8 513.1 365.9 513.5 365.9 513.9 366 514.3 365.9 514.7 365.7 515.1 365.5 515.5 365.7 515.9 366 516.3 366.1 516.7 366.2 517.1 366.1 517.5 366 517.9 366.2 518.3 365.8 518.7 365.4 519.1 366 519.5 366.2 519.9 366 520.3 366 520.7 366.2 521.1 366.3 521.5 366.3 521.9 366 522.3 366.1 522.7 366.2 523.1 366.2 523.5 366.4 523.9 366.1 524.3 365.8 524.7 365.8 525.1 365.9 525.5 366.2 525.9 366.5 526.3 366.5 526.7 366.3 527.1 366.1 527.5 366.4 527.9 366.5 528.3 366.2 528.7 366.2 529.1 366.4 529.5 366.3 529.9 366.2 530.3 366 530.7 366.2 531.1 366.3 531.5 366.3 531.9 366.4 532.3 366.4 532.7 366.3 533.1 366.3 533.5 366.2 533.9 366.2 534.3 366.6 534.7 366.9 535.1 366.5 535.5 366.3 535.9 366.4 536.3 366.3 536.7 366.4 537.1 366.3 537.5 366.3 537.9 366.3 538.3 366.4 538.7 366.6" fill="none" stroke="#5e5e5e" stroke-width="2.8" stroke-linejoin="round" />
<path d="M395.1 367.2 395.5 367.2 395.9 367.2 396.3 367.2 396.7 367.2 397.1 367.2 397.5 367.2 397.9 367.2 398.3 367.2 398.7 367.2 399.1 367.2 399.5 367.2 399.9 367.2 400.3 367.2 400.7 367.2 401.1 367.2 401.5 367.2 401.9 367.2 402.3 367.2 402.7 367.2 403.1 367.2 403.5 367.2 403.9 367.2 404.3 367.2 404.7 367.2 405.1 367.2 405.5 367.1 405.9 367.1 406.3 367.1 406.7 367.1 407.1 367.1 407.5 367.1 407.9 367.1 408.3 367.1 408.7 367.1 409.1 367.1 409.5 367.1 409.9 367.1 410.3 367.1 410.7 367.1 411.1 367.1 411.5 367.1 411.9 367.1 412.3 367.1 412.7 367.1 413.1 367.1 413.5 367.1 413.9 367.1 414.3 367.1 414.7 367.1 415.1 367.1 415.5 367.1 415.9 367.1 416.3 367.1 416.7 367.1 417.1 367.1 417.5 367.1 417.9 367.1 418.3 367.1 418.7 367.1 419.1 367.1 419.5 367.1 419.9 367.1 420.3 367.1 420.7 367.1 421.1 367.1 421.5 367.1 421.9 367.1 422.3 367.1 422.7 367.1 423.1 367.1 423.5 367.1 423.9 367.1 424.3 367.1 424.7 367.1 425.1 367.1 425.5 367.1 425.9 367.1 426.3 367.1 426.7 367.1 427.1 367.1 427.5 367.1 427.9 367.1 428.3 367.1 428.7 367.1 429.1 367 429.5 367 429.9 367 430.3 367 430.7 367 431.1 367 431.5 367 431.9 367 432.3 367 432.7 367 433.1 367 433.5 367 433.9 367 434.3 367 434.7 367 435.1 367 435.5 367 435.9 367 436.3 367 436.7 366.9 437.1 366.9 437.5 366.9 437.9 366.9 438.3 366.9 438.7 366.9 439.1 366.9 439.5 366.9 439.9 366.9 440.3 366.8 440.7 366.8 441.1 366.8 441.5 366.8 441.9 366.8 442.3 366.7 442.7 366.7 443.1 366.7 443.5 366.7 443.9 366.6 444.3 366.6 444.7 366.5 445.1 366.5 445.5 366.4 445.9 366.3 446.3 366.2 446.7 366.1 447.1 366 447.5 365.8 447.9 365.7 448.3 365.5 448.7 365.2 449.1 365 449.5 364.7 449.9 364.4 450.3 364.1 450.7 363.7 451.1 363.3 451.5 362.8 451.9 362.3 452.3 361.8 452.7 361.2 453.1 360.6 453.5 359.9 453.9 359.2 454.3 358.5 454.7 357.8 455.1 357 455.5 356.3 455.9 355.5 456.3 354.8 456.7 354 457.1 353.3 457.5 352.7 457.9 352.1 458.3 351.5 458.7 351.1 459.1 350.7 459.5 350.4 459.9 350.3 460.3 350.2 460.7 350.3 461.1 350.4 461.5 350.7 461.9 351.1 462.3 351.5 462.7 352.1 463.1 352.7 463.5 353.3 463.9 354 464.3 354.8 464.7 355.5 465.1 356.3 465.5 357 465.9 357.8 466.3 358.5 466.7 359.2 467.1 359.9 467.5 360.6 467.9 361.2 468.3 361.8 468.7 362.3 469.1 362.8 469.5 363.3 469.9 363.7 470.3 364.1 470.7 364.4 471.1 364.7 471.5 365 471.9 365.2 472.3 365.5 472.7 365.7 473.1 365.8 473.5 366 473.9 366.1 474.3 366.2 474.7 366.3 475.1 366.4 475.5 366.5 475.9 366.5 476.3 366.6 476.7 366.6 477.1 366.7 477.5 366.7 477.9 366.7 478.3 366.7 478.7 366.8 479.1 366.8 479.5 366.8 479.9 366.8 480.3 366.8 480.7 366.9 481.1 366.9 481.5 366.9 481.9 366.9 482.3 366.9 482.7 366.9 483.1 366.9 483.5 366.9 483.9 366.9 484.3 367 484.7 367 485.1 367 485.5 367 485.9 367 486.3 367 486.7 367 487.1 367 487.5 367 487.9 367 488.3 367 488.7 367 489.1 367 489.5 367 489.9 367 490.3 367 490.7 367 491.1 367 491.5 367 491.9 367.1 492.3 367.1 492.7 367.1 493.1 367.1 493.5 367.1 493.9 367.1 494.3 367.1 494.7 367.1 495.1 367.1 495.5 367.1 495.9 367.1 496.3 367.1 496.7 367.1 497.1 367.1 497.5 367.1 497.9 367.1 498.3 367.1 498.7 367.1 499.1 367.1 499.5 367.1 499.9 367.1 500.3 367.1 500.7 367.1 501.1 367.1 501.5 367.1 501.9 367.1 502.3 367.1 502.7 367.1 503.1 367.1 503.5 367.1 503.9 367.1 504.3 367.1 504.7 367.1 505.1 367.1 505.5 367.1 505.9 367.1 506.3 367.1 506.7 367.1 507.1 367.1 507.5 367.1 507.9 367.1 508.3 367.1 508.7 367.1 509.1 367.1 509.5 367.1 509.9 367.1 510.3 367.1 510.7 367.1 511.1 367.1 511.5 367.1 511.9 367.1 512.3 367.1 512.7 367.1 513.1 367.1 513.5 367.1 513.9 367.1 514.3 367.1 514.7 367.1 515.1 367.1 515.5 367.2 515.9 367.2 516.3 367.2 516.7 367.2 517.1 367.2 517.5 367.2 517.9 367.2 518.3 367.2 518.7 367.2 519.1 367.2 519.5 367.2 519.9 367.2 520.3 367.2 520.7 367.2 521.1 367.2 521.5 367.2 521.9 367.2 522.3 367.2 522.7 367.2 523.1 367.2 523.5 367.2 523.9 367.2 524.3 367.2 524.7 367.2 525.1 367.2 525.5 367.2 525.9 367.2 526.3 367.2 526.7 367.2 527.1 367.2 527.5 367.2 527.9 367.2 528.3 367.2 528.7 367.2 529.1 367.2 529.5 367.2 529.9 367.2 530.3 367.2 530.7 367.2 531.1 367.2 531.5 367.2 531.9 367.2 532.3 367.2 532.7 367.2 533.1 367.2 533.5 367.2 533.9 367.2 534.3 367.2 534.7 367.2 535.1 367.2 535.5 367.2 535.9 367.2 536.3 367.2 536.7 367.2 537.1 367.2 537.5 367.2 537.9 367.2 538.3 367.2 538.7 367.2" fill="none" stroke="#35b04a" stroke-width="0.9" stroke-linejoin="round" />
<path d="M395.1 367.2 395.5 367.2 395.9 367.2 396.3 367.2 396.7 367.2 397.1 367.2 397.5 367.2 397.9 367.2 398.3 367.2 398.7 367.2 399.1 367.2 399.5 367.2 399.9 367.2 400.3 367.2 400.7 367.2 401.1 367.2 401.5 367.2 401.9 367.2 402.3 367.2 402.7 367.2 403.1 367.2 403.5 367.2 403.9 367.2 404.3 367.2 404.7 367.2 405.1 367.2 405.5 367.2 405.9 367.2 406.3 367.2 406.7 367.2 407.1 367.2 407.5 367.2 407.9 367.2 408.3 367.2 408.7 367.2 409.1 367.2 409.5 367.2 409.9 367.2 410.3 367.2 410.7 367.2 411.1 367.2 411.5 367.2 411.9 367.2 412.3 367.2 412.7 367.2 413.1 367.2 413.5 367.2 413.9 367.1 414.3 367.1 414.7 367.1 415.1 367.1 415.5 367.1 415.9 367.1 416.3 367.1 416.7 367.1 417.1 367.1 417.5 367.1 417.9 367.1 418.3 367.1 418.7 367.1 419.1 367.1 419.5 367.1 419.9 367.1 420.3 367.1 420.7 367.1 421.1 367.1 421.5 367.1 421.9 367.1 422.3 367.1 422.7 367.1 423.1 367.1 423.5 367.1 423.9 367.1 424.3 367.1 424.7 367.1 425.1 367.1 425.5 367.1 425.9 367.1 426.3 367.1 426.7 367.1 427.1 367.1 427.5 367.1 427.9 367.1 428.3 367.1 428.7 367.1 429.1 367.1 429.5 367.1 429.9 367.1 430.3 367.1 430.7 367.1 431.1 367.1 431.5 367.1 431.9 367.1 432.3 367.1 432.7 367.1 433.1 367.1 433.5 367.1 433.9 367.1 434.3 367.1 434.7 367.1 435.1 367.1 435.5 367.1 435.9 367.1 436.3 367.1 436.7 367.1 437.1 367.1 437.5 367.1 437.9 367.1 438.3 367.1 438.7 367.1 439.1 367.1 439.5 367 439.9 367 440.3 367 440.7 367 441.1 367 441.5 367 441.9 367 442.3 367 442.7 367 443.1 367 443.5 367 443.9 367 444.3 367 444.7 367 445.1 367 445.5 367 445.9 367 446.3 367 446.7 367 447.1 367 447.5 366.9 447.9 366.9 448.3 366.9 448.7 366.9 449.1 366.9 449.5 366.9 449.9 366.9 450.3 366.9 450.7 366.9 451.1 366.9 451.5 366.9 451.9 366.8 452.3 366.8 452.7 366.8 453.1 366.8 453.5 366.8 453.9 366.8 454.3 366.7 454.7 366.7 455.1 366.7 455.5 366.7 455.9 366.7 456.3 366.6 456.7 366.6 457.1 366.5 457.5 366.5 457.9 366.4 458.3 366.4 458.7 366.3 459.1 366.2 459.5 366.1 459.9 366 460.3 365.9 460.7 365.7 461.1 365.6 461.5 365.4 461.9 365.1 462.3 364.9 462.7 364.6 463.1 364.2 463.5 363.8 463.9 363.4 464.3 362.9 464.7 362.3 465.1 361.7 465.5 361.1 465.9 360.4 466.3 359.6 466.7 358.8 467.1 357.9 467.5 357 467.9 356.1 468.3 355.1 468.7 354.1 469.1 353 469.5 352 469.9 351 470.3 350 470.7 349.1 471.1 348.2 471.5 347.4 471.9 346.7 472.3 346.1 472.7 345.7 473.1 345.4 473.5 345.2 473.9 345.2 474.3 345.4 474.7 345.7 475.1 346.1 475.5 346.7 475.9 347.4 476.3 348.2 476.7 349.1 477.1 350 477.5 351 477.9 352 478.3 353 478.7 354.1 479.1 355.1 479.5 356.1 479.9 357 480.3 357.9 480.7 358.8 481.1 359.6 481.5 360.4 481.9 361.1 482.3 361.7 482.7 362.3 483.1 362.9 483.5 363.4 483.9 363.8 484.3 364.2 484.7 364.6 485.1 364.9 485.5 365.1 485.9 365.4 486.3 365.6 486.7 365.7 487.1 365.9 487.5 366 487.9 366.1 488.3 366.2 488.7 366.3 489.1 366.4 489.5 366.4 489.9 366.5 490.3 366.5 490.7 366.6 491.1 366.6 491.5 366.7 491.9 366.7 492.3 366.7 492.7 366.7 493.1 366.7 493.5 366.8 493.9 366.8 494.3 366.8 494.7 366.8 495.1 366.8 495.5 366.8 495.9 366.9 496.3 366.9 496.7 366.9 497.1 366.9 497.5 366.9 497.9 366.9 498.3 366.9 498.7 366.9 499.1 366.9 499.5 366.9 499.9 366.9 500.3 367 500.7 367 501.1 367 501.5 367 501.9 367 502.3 367 502.7 367 503.1 367 503.5 367 503.9 367 504.3 367 504.7 367 505.1 367 505.5 367 505.9 367 506.3 367 506.7 367 507.1 367 507.5 367 507.9 367 508.3 367.1 508.7 367.1 509.1 367.1 509.5 367.1 509.9 367.1 510.3 367.1 510.7 367.1 511.1 367.1 511.5 367.1 511.9 367.1 512.3 367.1 512.7 367.1 513.1 367.1 513.5 367.1 513.9 367.1 514.3 367.1 514.7 367.1 515.1 367.1 515.5 367.1 515.9 367.1 516.3 367.1 516.7 367.1 517.1 367.1 517.5 367.1 517.9 367.1 518.3 367.1 518.7 367.1 519.1 367.1 519.5 367.1 519.9 367.1 520.3 367.1 520.7 367.1 521.1 367.1 521.5 367.1 521.9 367.1 522.3 367.1 522.7 367.1 523.1 367.1 523.5 367.1 523.9 367.1 524.3 367.1 524.7 367.1 525.1 367.1 525.5 367.1 525.9 367.1 526.3 367.1 526.7 367.1 527.1 367.1 527.5 367.1 527.9 367.1 528.3 367.1 528.7 367.1 529.1 367.1 529.5 367.1 529.9 367.1 530.3 367.1 530.7 367.1 531.1 367.1 531.5 367.1 531.9 367.1 532.3 367.1 532.7 367.1 533.1 367.1 533.5 367.1 533.9 367.2 534.3 367.2 534.7 367.2 535.1 367.2 535.5 367.2 535.9 367.2 536.3 367.2 536.7 367.2 537.1 367.2 537.5 367.2 537.9 367.2 538.3 367.2 538.7 367.2" fill="none" stroke="#2e7de0" stroke-width="0.9" stroke-linejoin="round" />
<path d="M395.1 367.2 395.5 367.2 395.9 367.2 396.3 367.2 396.7 367.2 397.1 367.2 397.5 367.2 397.9 367.2 398.3 367.2 398.7 367.2 399.1 367.2 399.5 367.2 399.9 367.2 400.3 367.2 400.7 367.2 401.1 367.2 401.5 367.2 401.9 367.2 402.3 367.2 402.7 367.2 403.1 367.2 403.5 367.2 403.9 367.2 404.3 367.2 404.7 367.2 405.1 367.2 405.5 367.2 405.9 367.2 406.3 367.2 406.7 367.2 407.1 367.2 407.5 367.2 407.9 367.2 408.3 367.2 408.7 367.2 409.1 367.2 409.5 367.2 409.9 367.2 410.3 367.2 410.7 367.2 411.1 367.2 411.5 367.2 411.9 367.2 412.3 367.2 412.7 367.2 413.1 367.2 413.5 367.2 413.9 367.2 414.3 367.2 414.7 367.2 415.1 367.2 415.5 367.2 415.9 367.2 416.3 367.2 416.7 367.2 417.1 367.2 417.5 367.2 417.9 367.2 418.3 367.2 418.7 367.2 419.1 367.2 419.5 367.2 419.9 367.2 420.3 367.2 420.7 367.2 421.1 367.2 421.5 367.2 421.9 367.2 422.3 367.2 422.7 367.2 423.1 367.2 423.5 367.2 423.9 367.2 424.3 367.2 424.7 367.2 425.1 367.2 425.5 367.2 425.9 367.2 426.3 367.2 426.7 367.2 427.1 367.2 427.5 367.2 427.9 367.2 428.3 367.2 428.7 367.2 429.1 367.2 429.5 367.2 429.9 367.2 430.3 367.2 430.7 367.2 431.1 367.2 431.5 367.2 431.9 367.2 432.3 367.2 432.7 367.2 433.1 367.2 433.5 367.2 433.9 367.2 434.3 367.2 434.7 367.2 435.1 367.2 435.5 367.2 435.9 367.2 436.3 367.2 436.7 367.2 437.1 367.2 437.5 367.2 437.9 367.2 438.3 367.2 438.7 367.2 439.1 367.2 439.5 367.2 439.9 367.2 440.3 367.2 440.7 367.2 441.1 367.2 441.5 367.2 441.9 367.2 442.3 367.2 442.7 367.2 443.1 367.2 443.5 367.2 443.9 367.2 444.3 367.2 444.7 367.2 445.1 367.2 445.5 367.2 445.9 367.2 446.3 367.1 446.7 367.1 447.1 367.1 447.5 367.1 447.9 367.1 448.3 367.1 448.7 367.1 449.1 367.1 449.5 367.1 449.9 367.1 450.3 367.1 450.7 367.1 451.1 367.1 451.5 367.1 451.9 367.1 452.3 367.1 452.7 367.1 453.1 367.1 453.5 367.1 453.9 367.1 454.3 367.1 454.7 367.1 455.1 367.1 455.5 367.1 455.9 367.1 456.3 367.1 456.7 367.1 457.1 367.1 457.5 367.1 457.9 367.1 458.3 367.1 458.7 367.1 459.1 367.1 459.5 367.1 459.9 367.1 460.3 367.1 460.7 367.1 461.1 367.1 461.5 367.1 461.9 367.1 462.3 367.1 462.7 367.1 463.1 367.1 463.5 367.1 463.9 367.1 464.3 367.1 464.7 367.1 465.1 367.1 465.5 367.1 465.9 367.1 466.3 367.1 466.7 367.1 467.1 367.1 467.5 367.1 467.9 367 468.3 367 468.7 367 469.1 367 469.5 367 469.9 367 470.3 367 470.7 367 471.1 367 471.5 367 471.9 367 472.3 367 472.7 367 473.1 367 473.5 367 473.9 367 474.3 367 474.7 366.9 475.1 366.9 475.5 366.9 475.9 366.9 476.3 366.9 476.7 366.9 477.1 366.9 477.5 366.9 477.9 366.9 478.3 366.8 478.7 366.8 479.1 366.8 479.5 366.8 479.9 366.8 480.3 366.7 480.7 366.7 481.1 366.7 481.5 366.6 481.9 366.6 482.3 366.5 482.7 366.4 483.1 366.3 483.5 366.3 483.9 366.1 484.3 366 484.7 365.9 485.1 365.7 485.5 365.5 485.9 365.2 486.3 365 486.7 364.7 487.1 364.3 487.5 363.9 487.9 363.5 488.3 363 488.7 362.5 489.1 361.9 489.5 361.3 489.9 360.7 490.3 360 490.7 359.2 491.1 358.5 491.5 357.7 491.9 356.8 492.3 356 492.7 355.2 493.1 354.4 493.5 353.6 493.9 352.9 494.3 352.2 494.7 351.6 495.1 351.1 495.5 350.7 495.9 350.4 496.3 350.2 496.7 350.2 497.1 350.3 497.5 350.5 497.9 350.9 498.3 351.3 498.7 351.9 499.1 352.5 499.5 353.2 499.9 354 500.3 354.8 500.7 355.6 501.1 356.4 501.5 357.3 501.9 358.1 502.3 358.8 502.7 359.6 503.1 360.3 503.5 361 503.9 361.6 504.3 362.2 504.7 362.8 505.1 363.3 505.5 363.7 505.9 364.1 506.3 364.5 506.7 364.8 507.1 365.1 507.5 365.4 507.9 365.6 508.3 365.8 508.7 365.9 509.1 366.1 509.5 366.2 509.9 366.3 510.3 366.4 510.7 366.5 511.1 366.5 511.5 366.6 511.9 366.6 512.3 366.7 512.7 366.7 513.1 366.7 513.5 366.8 513.9 366.8 514.3 366.8 514.7 366.8 515.1 366.8 515.5 366.9 515.9 366.9 516.3 366.9 516.7 366.9 517.1 366.9 517.5 366.9 517.9 366.9 518.3 366.9 518.7 367 519.1 367 519.5 367 519.9 367 520.3 367 520.7 367 521.1 367 521.5 367 521.9 367 522.3 367 522.7 367 523.1 367 523.5 367 523.9 367 524.3 367 524.7 367 525.1 367 525.5 367.1 525.9 367.1 526.3 367.1 526.7 367.1 527.1 367.1 527.5 367.1 527.9 367.1 528.3 367.1 528.7 367.1 529.1 367.1 529.5 367.1 529.9 367.1 530.3 367.1 530.7 367.1 531.1 367.1 531.5 367.1 531.9 367.1 532.3 367.1 532.7 367.1 533.1 367.1 533.5 367.1 533.9 367.1 534.3 367.1 534.7 367.1 535.1 367.1 535.5 367.1 535.9 367.1 536.3 367.1 536.7 367.1 537.1 367.1 537.5 367.1 537.9 367.1 538.3 367.1 538.7 367.1" fill="none" stroke="#e020e0" stroke-width="0.9" stroke-linejoin="round" />
<line x1="394.5" y1="367.8" x2="539.5" y2="367.8" stroke="#dd22dd" stroke-width="1.6" />
<text font-size="6.8" text-anchor="start" fill="#161616" stroke="#161616" stroke-width="0.28" font-weight="bold" transform="translate(405.3 319.24) scale(1 1)">ZPNiIn</text>
<text font-size="6.8" text-anchor="start" fill="#161616" stroke="#161616" stroke-width="0.28" font-weight="bold" transform="translate(408.2 362.04) scale(1 1)">In<tspan font-size="4.62" baseline-shift="-1.36">2</tspan>O<tspan font-size="4.62" baseline-shift="-1.36">3</tspan></text>
<text font-size="6.8" text-anchor="start" fill="#161616" stroke="#161616" stroke-width="0.28" font-weight="bold" transform="translate(441.8 302.94) scale(1 1)">O<tspan font-size="4.62" baseline-shift="-1.36">C</tspan></text>
<text font-size="6.8" text-anchor="start" fill="#161616" stroke="#161616" stroke-width="0.28" font-weight="bold" transform="translate(436.7 314.54) scale(1 1)">O<tspan font-size="4.62" baseline-shift="-1.36">V</tspan></text>
<text font-size="6.8" text-anchor="start" fill="#161616" stroke="#161616" stroke-width="0.28" font-weight="bold" transform="translate(489 309.94) scale(1 1)">O<tspan font-size="4.62" baseline-shift="-1.36">L</tspan></text>
<text font-size="6.9" text-anchor="start" fill="#161616" stroke="#161616" stroke-width="0.28" font-weight="bold" transform="translate(524.7 283.28) scale(1 1)">O 1s</text>
<line x1="450" y1="305" x2="458.6" y2="311.6" stroke="#111" stroke-width="0.7" />
<polygon points="458.6,311.6 456.46,311.09 457.55,309.67" fill="#111"/>
<line x1="446" y1="314" x2="463.7" y2="321.8" stroke="#111" stroke-width="0.7" />
<polygon points="463.7,321.8 461.5,321.81 462.22,320.17" fill="#111"/>
<line x1="489" y1="308.7" x2="478" y2="315.3" stroke="#111" stroke-width="0.7" />
<polygon points="478,315.3 479.26,313.5 480.18,315.04" fill="#111"/>
<rect x="394.5" y="274.5" width="145" height="109" fill="none" stroke="#363636" stroke-width="1.15"/>
<line x1="394.6" y1="383.5" x2="394.6" y2="385.5" stroke="#363636" stroke-width="0.9" />
<line x1="415.04" y1="383.5" x2="415.04" y2="385.5" stroke="#363636" stroke-width="0.9" />
<line x1="435.48" y1="383.5" x2="435.48" y2="385.5" stroke="#363636" stroke-width="0.9" />
<line x1="455.92" y1="383.5" x2="455.92" y2="385.5" stroke="#363636" stroke-width="0.9" />
<line x1="476.36" y1="383.5" x2="476.36" y2="385.5" stroke="#363636" stroke-width="0.9" />
<line x1="496.8" y1="383.5" x2="496.8" y2="385.5" stroke="#363636" stroke-width="0.9" />
<line x1="517.24" y1="383.5" x2="517.24" y2="385.5" stroke="#363636" stroke-width="0.9" />
<line x1="537.68" y1="383.5" x2="537.68" y2="385.5" stroke="#363636" stroke-width="0.9" />
<line x1="404.82" y1="383.5" x2="404.82" y2="384.7" stroke="#363636" stroke-width="0.8" />
<line x1="425.26" y1="383.5" x2="425.26" y2="384.7" stroke="#363636" stroke-width="0.8" />
<line x1="445.7" y1="383.5" x2="445.7" y2="384.7" stroke="#363636" stroke-width="0.8" />
<line x1="466.14" y1="383.5" x2="466.14" y2="384.7" stroke="#363636" stroke-width="0.8" />
<line x1="486.58" y1="383.5" x2="486.58" y2="384.7" stroke="#363636" stroke-width="0.8" />
<line x1="507.02" y1="383.5" x2="507.02" y2="384.7" stroke="#363636" stroke-width="0.8" />
<line x1="527.46" y1="383.5" x2="527.46" y2="384.7" stroke="#363636" stroke-width="0.8" />
<text font-size="7" text-anchor="middle" fill="#161616" stroke="#161616" stroke-width="0.28" font-weight="bold" transform="translate(394.6 392.81) scale(1 1)">540</text>
<text font-size="7" text-anchor="middle" fill="#161616" stroke="#161616" stroke-width="0.28" font-weight="bold" transform="translate(415.04 392.81) scale(1 1)">538</text>
<text font-size="7" text-anchor="middle" fill="#161616" stroke="#161616" stroke-width="0.28" font-weight="bold" transform="translate(435.48 392.81) scale(1 1)">536</text>
<text font-size="7" text-anchor="middle" fill="#161616" stroke="#161616" stroke-width="0.28" font-weight="bold" transform="translate(455.92 392.81) scale(1 1)">534</text>
<text font-size="7" text-anchor="middle" fill="#161616" stroke="#161616" stroke-width="0.28" font-weight="bold" transform="translate(476.36 392.81) scale(1 1)">532</text>
<text font-size="7" text-anchor="middle" fill="#161616" stroke="#161616" stroke-width="0.28" font-weight="bold" transform="translate(496.8 392.81) scale(1 1)">530</text>
<text font-size="7" text-anchor="middle" fill="#161616" stroke="#161616" stroke-width="0.28" font-weight="bold" transform="translate(517.24 392.81) scale(1 1)">528</text>
<text font-size="7" text-anchor="middle" fill="#161616" stroke="#161616" stroke-width="0.28" font-weight="bold" transform="translate(537.68 392.81) scale(1 1)">526</text>
<text font-size="9.6" text-anchor="middle" fill="#161616" stroke="#161616" stroke-width="0.28" font-weight="bold" transform="translate(466.9 405.8) scale(1 1)">Binding energy / eV</text>
<text font-size="8.6" text-anchor="middle" fill="#161616" stroke="#161616" stroke-width="0.28" font-weight="bold" transform="translate(384.9 322.8) rotate(-90)">Intensity / a.u.</text></svg></body></html>
